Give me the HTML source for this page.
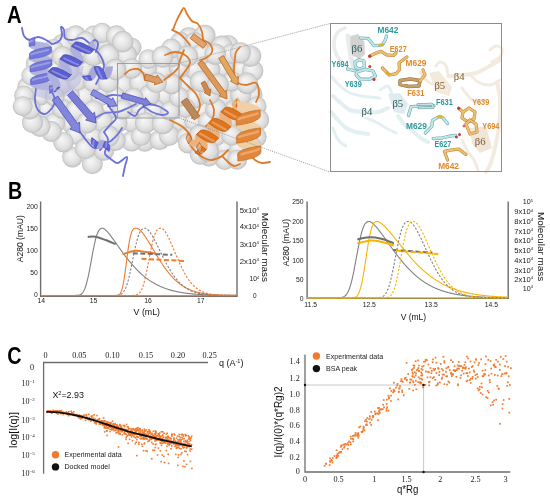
<!DOCTYPE html>
<html><head><meta charset="utf-8"><style>
html,body{margin:0;padding:0;background:#fff;overflow:hidden;}
svg{display:block;}
</style></head><body>
<svg width="550" height="502" viewBox="0 0 550 502">
<rect width="550" height="502" fill="#fff"/>
<defs><radialGradient id="sph" cx="0.5" cy="0.5" r="0.5" fx="0.38" fy="0.36">
<stop offset="0" stop-color="#f7f7f7"/><stop offset="0.5" stop-color="#e8e8e8"/><stop offset="0.82" stop-color="#d8d8d8"/><stop offset="1" stop-color="#bdbdbd"/></radialGradient></defs>
<circle cx="140.8" cy="108.9" r="10.2" fill="url(#sph)"/>
<circle cx="246.8" cy="109.1" r="10.0" fill="url(#sph)"/>
<circle cx="225.4" cy="148.0" r="9.8" fill="url(#sph)"/>
<circle cx="83.7" cy="68.3" r="10.5" fill="url(#sph)"/>
<circle cx="163.0" cy="70.9" r="10.3" fill="url(#sph)"/>
<circle cx="180.1" cy="121.5" r="10.8" fill="url(#sph)"/>
<circle cx="187.2" cy="84.3" r="10.4" fill="url(#sph)"/>
<circle cx="223.6" cy="67.4" r="10.7" fill="url(#sph)"/>
<circle cx="131.8" cy="121.8" r="10.4" fill="url(#sph)"/>
<circle cx="69.1" cy="38.3" r="10.0" fill="url(#sph)"/>
<circle cx="144.7" cy="141.5" r="10.3" fill="url(#sph)"/>
<circle cx="188.7" cy="38.0" r="10.7" fill="url(#sph)"/>
<circle cx="242.2" cy="69.1" r="10.3" fill="url(#sph)"/>
<circle cx="228.1" cy="45.3" r="10.4" fill="url(#sph)"/>
<circle cx="102.3" cy="68.0" r="10.0" fill="url(#sph)"/>
<circle cx="180.4" cy="41.9" r="10.2" fill="url(#sph)"/>
<circle cx="84.3" cy="96.3" r="10.9" fill="url(#sph)"/>
<circle cx="194.5" cy="121.2" r="10.2" fill="url(#sph)"/>
<circle cx="164.0" cy="95.2" r="10.6" fill="url(#sph)"/>
<circle cx="159.6" cy="140.0" r="10.1" fill="url(#sph)"/>
<circle cx="131.6" cy="141.2" r="10.4" fill="url(#sph)"/>
<circle cx="48.6" cy="81.7" r="10.6" fill="url(#sph)"/>
<circle cx="91.9" cy="136.5" r="10.6" fill="url(#sph)"/>
<circle cx="224.4" cy="96.9" r="10.6" fill="url(#sph)"/>
<circle cx="62.6" cy="44.6" r="10.6" fill="url(#sph)"/>
<circle cx="246.9" cy="134.6" r="9.9" fill="url(#sph)"/>
<circle cx="140.8" cy="136.1" r="10.0" fill="url(#sph)"/>
<circle cx="224.8" cy="159.9" r="10.1" fill="url(#sph)"/>
<circle cx="47.1" cy="109.7" r="10.6" fill="url(#sph)"/>
<circle cx="251.7" cy="94.6" r="10.7" fill="url(#sph)"/>
<circle cx="240.8" cy="94.7" r="10.6" fill="url(#sph)"/>
<circle cx="252.8" cy="70.9" r="10.6" fill="url(#sph)"/>
<circle cx="71.9" cy="123.7" r="10.2" fill="url(#sph)"/>
<circle cx="238.9" cy="148.7" r="9.8" fill="url(#sph)"/>
<circle cx="122.8" cy="84.5" r="10.4" fill="url(#sph)"/>
<circle cx="204.7" cy="35.5" r="10.8" fill="url(#sph)"/>
<circle cx="117.1" cy="123.0" r="10.4" fill="url(#sph)"/>
<circle cx="55.6" cy="69.0" r="10.7" fill="url(#sph)"/>
<circle cx="78.5" cy="55.3" r="10.1" fill="url(#sph)"/>
<circle cx="54.7" cy="123.3" r="10.6" fill="url(#sph)"/>
<circle cx="72.4" cy="157.1" r="10.3" fill="url(#sph)"/>
<circle cx="53.5" cy="48.9" r="10.0" fill="url(#sph)"/>
<circle cx="169.2" cy="135.8" r="10.2" fill="url(#sph)"/>
<circle cx="209.4" cy="69.6" r="10.9" fill="url(#sph)"/>
<circle cx="202.9" cy="110.4" r="10.0" fill="url(#sph)"/>
<circle cx="234.0" cy="110.5" r="10.5" fill="url(#sph)"/>
<circle cx="231.7" cy="81.3" r="10.1" fill="url(#sph)"/>
<circle cx="194.6" cy="42.3" r="10.2" fill="url(#sph)"/>
<circle cx="186.4" cy="136.9" r="10.1" fill="url(#sph)"/>
<circle cx="131.3" cy="47.6" r="10.2" fill="url(#sph)"/>
<circle cx="36.2" cy="63.8" r="10.4" fill="url(#sph)"/>
<circle cx="221.8" cy="46.3" r="10.7" fill="url(#sph)"/>
<circle cx="43.7" cy="53.9" r="9.8" fill="url(#sph)"/>
<circle cx="107.8" cy="109.0" r="10.8" fill="url(#sph)"/>
<circle cx="69.3" cy="95.7" r="10.4" fill="url(#sph)"/>
<circle cx="202.0" cy="53.9" r="10.5" fill="url(#sph)"/>
<circle cx="102.1" cy="40.0" r="9.9" fill="url(#sph)"/>
<circle cx="61.9" cy="83.9" r="10.5" fill="url(#sph)"/>
<circle cx="146.9" cy="68.7" r="9.9" fill="url(#sph)"/>
<circle cx="92.3" cy="163.7" r="10.5" fill="url(#sph)"/>
<circle cx="154.9" cy="109.7" r="10.7" fill="url(#sph)"/>
<circle cx="148.4" cy="59.1" r="9.9" fill="url(#sph)"/>
<circle cx="230.9" cy="53.9" r="9.9" fill="url(#sph)"/>
<circle cx="27.9" cy="87.3" r="10.6" fill="url(#sph)"/>
<circle cx="93.4" cy="56.3" r="9.9" fill="url(#sph)"/>
<circle cx="195.0" cy="97.8" r="10.6" fill="url(#sph)"/>
<circle cx="40.3" cy="95.2" r="10.2" fill="url(#sph)"/>
<circle cx="208.4" cy="121.3" r="10.4" fill="url(#sph)"/>
<circle cx="75.9" cy="134.8" r="10.0" fill="url(#sph)"/>
<circle cx="63.4" cy="142.2" r="10.2" fill="url(#sph)"/>
<circle cx="140.1" cy="82.4" r="10.8" fill="url(#sph)"/>
<circle cx="188.2" cy="143.1" r="10.4" fill="url(#sph)"/>
<circle cx="215.8" cy="136.3" r="10.0" fill="url(#sph)"/>
<circle cx="62.1" cy="108.7" r="10.0" fill="url(#sph)"/>
<circle cx="126.0" cy="55.0" r="10.9" fill="url(#sph)"/>
<circle cx="208.9" cy="156.3" r="10.2" fill="url(#sph)"/>
<circle cx="51.2" cy="131.5" r="10.4" fill="url(#sph)"/>
<circle cx="93.6" cy="35.5" r="9.9" fill="url(#sph)"/>
<circle cx="100.6" cy="96.2" r="9.9" fill="url(#sph)"/>
<circle cx="200.2" cy="154.4" r="10.4" fill="url(#sph)"/>
<circle cx="241.3" cy="121.5" r="10.8" fill="url(#sph)"/>
<circle cx="131.6" cy="68.5" r="10.3" fill="url(#sph)"/>
<circle cx="185.3" cy="107.9" r="9.9" fill="url(#sph)"/>
<circle cx="102.1" cy="32.8" r="10.1" fill="url(#sph)"/>
<circle cx="149.3" cy="95.5" r="10.7" fill="url(#sph)"/>
<circle cx="108.4" cy="55.2" r="10.9" fill="url(#sph)"/>
<circle cx="24.1" cy="95.5" r="9.9" fill="url(#sph)"/>
<circle cx="145.6" cy="123.0" r="10.6" fill="url(#sph)"/>
<circle cx="195.0" cy="69.7" r="10.4" fill="url(#sph)"/>
<circle cx="133.5" cy="97.6" r="9.9" fill="url(#sph)"/>
<circle cx="226.7" cy="122.3" r="10.8" fill="url(#sph)"/>
<circle cx="256.7" cy="106.2" r="9.8" fill="url(#sph)"/>
<circle cx="216.0" cy="109.2" r="10.7" fill="url(#sph)"/>
<circle cx="40.0" cy="126.3" r="10.6" fill="url(#sph)"/>
<circle cx="116.4" cy="35.8" r="10.5" fill="url(#sph)"/>
<circle cx="101.9" cy="121.0" r="10.7" fill="url(#sph)"/>
<circle cx="115.6" cy="96.7" r="9.9" fill="url(#sph)"/>
<circle cx="104.0" cy="150.4" r="10.3" fill="url(#sph)"/>
<circle cx="215.3" cy="54.1" r="10.7" fill="url(#sph)"/>
<circle cx="31.3" cy="75.7" r="10.0" fill="url(#sph)"/>
<circle cx="179.5" cy="67.6" r="10.6" fill="url(#sph)"/>
<circle cx="122.4" cy="109.5" r="10.1" fill="url(#sph)"/>
<circle cx="256.5" cy="137.0" r="10.1" fill="url(#sph)"/>
<circle cx="207.9" cy="150.7" r="11.0" fill="url(#sph)"/>
<circle cx="172.0" cy="56.1" r="10.9" fill="url(#sph)"/>
<circle cx="76.8" cy="81.4" r="9.8" fill="url(#sph)"/>
<circle cx="162.8" cy="123.3" r="11.0" fill="url(#sph)"/>
<circle cx="115.3" cy="140.6" r="10.4" fill="url(#sph)"/>
<circle cx="171.3" cy="48.7" r="10.1" fill="url(#sph)"/>
<circle cx="209.6" cy="94.5" r="10.4" fill="url(#sph)"/>
<circle cx="187.4" cy="56.2" r="10.7" fill="url(#sph)"/>
<circle cx="200.7" cy="81.4" r="10.7" fill="url(#sph)"/>
<circle cx="93.2" cy="82.0" r="10.0" fill="url(#sph)"/>
<circle cx="108.9" cy="136.2" r="10.6" fill="url(#sph)"/>
<circle cx="32.5" cy="122.7" r="10.5" fill="url(#sph)"/>
<circle cx="54.8" cy="96.7" r="9.8" fill="url(#sph)"/>
<circle cx="170.2" cy="110.9" r="9.9" fill="url(#sph)"/>
<circle cx="218.0" cy="84.3" r="10.8" fill="url(#sph)"/>
<circle cx="179.1" cy="97.2" r="10.1" fill="url(#sph)"/>
<circle cx="68.4" cy="70.0" r="10.9" fill="url(#sph)"/>
<circle cx="171.6" cy="83.9" r="10.3" fill="url(#sph)"/>
<circle cx="162.5" cy="56.8" r="10.8" fill="url(#sph)"/>
<circle cx="108.2" cy="81.8" r="10.7" fill="url(#sph)"/>
<circle cx="247.0" cy="83.3" r="10.8" fill="url(#sph)"/>
<circle cx="93.4" cy="110.5" r="10.2" fill="url(#sph)"/>
<circle cx="76.0" cy="110.4" r="10.7" fill="url(#sph)"/>
<circle cx="199.8" cy="135.3" r="10.7" fill="url(#sph)"/>
<circle cx="29.8" cy="108.8" r="10.7" fill="url(#sph)"/>
<circle cx="85.4" cy="148.7" r="10.5" fill="url(#sph)"/>
<circle cx="251.4" cy="146.0" r="9.8" fill="url(#sph)"/>
<circle cx="250.5" cy="56.1" r="10.7" fill="url(#sph)"/>
<circle cx="115.5" cy="69.5" r="10.7" fill="url(#sph)"/>
<circle cx="62.2" cy="56.3" r="10.3" fill="url(#sph)"/>
<circle cx="258.4" cy="119.8" r="10.7" fill="url(#sph)"/>
<circle cx="75.7" cy="35.6" r="10.3" fill="url(#sph)"/>
<circle cx="237.1" cy="159.8" r="10.0" fill="url(#sph)"/>
<circle cx="122.7" cy="41.7" r="10.7" fill="url(#sph)"/>
<circle cx="240.3" cy="52.8" r="10.6" fill="url(#sph)"/>
<circle cx="22.7" cy="106.2" r="10.0" fill="url(#sph)"/>
<circle cx="86.9" cy="122.9" r="10.5" fill="url(#sph)"/>
<circle cx="85.6" cy="41.7" r="10.4" fill="url(#sph)"/>
<circle cx="231.6" cy="135.2" r="10.3" fill="url(#sph)"/>
<circle cx="156.5" cy="82.7" r="10.4" fill="url(#sph)"/>
<path d="M34,80 L48,70 L70,62 L84,66 L80,84 L66,96 L50,100 L36,96 Z" fill="#b4b6e0" opacity="0.55"/>
<path d="M92.0,47.0 C93.3,48.3 98.0,51.8 100.0,55.0 C102.0,58.2 104.0,62.5 104.0,66.0 C104.0,69.5 101.3,73.0 100.0,76.0 C98.7,79.0 96.7,82.7 96.0,84.0" fill="none" stroke="#6b6fd8" stroke-width="1.8" stroke-linecap="round" stroke-linejoin="round"/>
<path d="M22.0,28.0 C22.3,29.3 22.7,34.0 24.0,36.0 C25.3,38.0 27.7,39.8 30.0,40.0 C32.3,40.2 35.3,37.0 38.0,37.0 C40.7,37.0 43.7,38.8 46.0,40.0 C48.3,41.2 51.0,43.3 52.0,44.0" fill="none" stroke="#6b6fd8" stroke-width="1.8" stroke-linecap="round" stroke-linejoin="round"/>
<path d="M52.0,44.0 C53.0,43.7 56.3,43.3 58.0,42.0 C59.7,40.7 61.5,38.5 62.0,36.0 C62.5,33.5 60.7,28.0 61.0,27.0 C61.3,26.0 63.3,28.2 64.0,30.0 C64.7,31.8 63.7,36.3 65.0,38.0 C66.3,39.7 69.2,40.0 72.0,40.0 C74.8,40.0 79.0,37.3 82.0,38.0 C85.0,38.7 88.7,43.0 90.0,44.0" fill="none" stroke="#6b6fd8" stroke-width="1.8" stroke-linecap="round" stroke-linejoin="round"/>
<path d="M90.0,44.0 C90.8,43.3 93.7,40.0 95.0,40.0 C96.3,40.0 97.8,42.0 98.0,44.0 C98.2,46.0 96.3,50.7 96.0,52.0" fill="none" stroke="#6b6fd8" stroke-width="1.8" stroke-linecap="round" stroke-linejoin="round"/>
<path d="M36.0,88.0 C35.8,90.0 34.7,96.3 35.0,100.0 C35.3,103.7 36.3,107.7 38.0,110.0 C39.7,112.3 42.7,114.3 45.0,114.0 C47.3,113.7 50.3,110.3 52.0,108.0 C53.7,105.7 55.0,102.7 55.0,100.0 C55.0,97.3 52.5,93.3 52.0,92.0" fill="none" stroke="#6b6fd8" stroke-width="1.8" stroke-linecap="round" stroke-linejoin="round"/>
<path d="M80.0,132.0 C81.0,133.3 83.7,137.3 86.0,140.0 C88.3,142.7 91.3,147.0 94.0,148.0 C96.7,149.0 99.7,147.3 102.0,146.0 C104.3,144.7 107.7,142.3 108.0,140.0 C108.3,137.7 104.7,133.3 104.0,132.0" fill="none" stroke="#6b6fd8" stroke-width="1.8" stroke-linecap="round" stroke-linejoin="round"/>
<path d="M106.0,149.0 C105.8,149.8 104.0,152.2 105.0,154.0 C106.0,155.8 109.8,158.5 112.0,160.0 C114.2,161.5 115.5,163.5 118.0,163.0 C120.5,162.5 125.8,156.5 127.0,157.0 C128.2,157.5 125.7,162.8 125.0,166.0 C124.3,169.2 123.3,174.3 123.0,176.0" fill="none" stroke="#6b6fd8" stroke-width="1.8" stroke-linecap="round" stroke-linejoin="round"/>
<path d="M104.0,132.0 C105.0,130.8 108.0,127.3 110.0,125.0 C112.0,122.7 116.0,120.8 116.0,118.0 C116.0,115.2 112.0,111.0 110.0,108.0 C108.0,105.0 106.3,101.7 104.0,100.0 C101.7,98.3 97.3,98.3 96.0,98.0" fill="none" stroke="#6b6fd8" stroke-width="1.8" stroke-linecap="round" stroke-linejoin="round"/>
<path d="M103.0,98.0 C104.5,97.5 108.7,95.3 112.0,95.0 C115.3,94.7 121.2,95.8 123.0,96.0" fill="none" stroke="#6b6fd8" stroke-width="1.8" stroke-linecap="round" stroke-linejoin="round"/>
<path d="M150.0,104.0 C151.3,104.3 155.5,105.0 158.0,106.0 C160.5,107.0 163.3,108.8 165.0,110.0 C166.7,111.2 168.5,112.2 168.0,113.0 C167.5,113.8 164.7,115.2 162.0,115.0 C159.3,114.8 155.0,113.3 152.0,112.0 C149.0,110.7 146.2,107.3 144.0,107.0 C141.8,106.7 140.5,108.5 139.0,110.0 C137.5,111.5 136.8,115.7 135.0,116.0 C133.2,116.3 129.2,112.7 128.0,112.0" fill="none" stroke="#7074d8" stroke-width="1.8" stroke-linecap="round" stroke-linejoin="round"/>
<path d="M95.0,118.0 C96.7,117.2 101.2,114.0 105.0,113.0 C108.8,112.0 114.2,112.8 118.0,112.0 C121.8,111.2 125.0,109.3 128.0,108.0 C131.0,106.7 134.7,104.7 136.0,104.0" fill="none" stroke="#7074d8" stroke-width="1.8" stroke-linecap="round" stroke-linejoin="round"/>
<path d="M100.0,150.0 C101.0,149.0 104.0,145.7 106.0,144.0 C108.0,142.3 110.0,141.7 112.0,140.0 C114.0,138.3 116.3,136.0 118.0,134.0 C119.7,132.0 121.3,129.0 122.0,128.0" fill="none" stroke="#6b6fd8" stroke-width="1.8" stroke-linecap="round" stroke-linejoin="round"/>
<path d="M52.2,100.0 L71.9,127.6 L69.9,129.1 L80.0,133.0 L79.6,122.1 L77.6,123.6 L57.8,96.0Z" fill="#8286dc" stroke="#4346b0" stroke-width="0.7" stroke-linejoin="round"/>
<path d="M67.4,95.3 L87.4,118.4 L85.5,120.0 L96.0,123.0 L94.5,112.2 L92.7,113.8 L72.6,90.7Z" fill="#7a7ed8" stroke="#4346b0" stroke-width="0.7" stroke-linejoin="round"/>
<path d="M90.5,94.6 L108.7,104.8 L107.7,106.6 L117.0,106.0 L112.7,97.7 L111.7,99.6 L93.5,89.4Z" fill="#8a8ee0" stroke="#4346b0" stroke-width="0.7" stroke-linejoin="round"/>
<path d="M121.2,98.1 L143.4,104.6 L142.8,106.5 L151.0,104.0 L145.5,97.5 L144.9,99.3 L122.8,92.9Z" fill="#7d81da" stroke="#4346b0" stroke-width="0.7" stroke-linejoin="round"/>
<path d="M29.3,46.4 L29.6,46.9 L30.0,47.4 L30.6,47.9 L31.4,48.3 L32.4,48.8 L33.5,49.1 L34.7,49.5 L36.0,49.8 L37.3,50.1 L38.7,50.4 L40.2,50.6 L41.6,50.8 L43.1,51.0 L44.5,51.1 L45.8,51.2 L47.0,51.3 L48.1,51.4 L49.1,51.4 L49.9,51.5 L50.5,51.5 L51.0,51.5 L51.3,51.5 L51.4,51.5 L51.4,52.0 L51.2,46.9 L51.2,46.8 L51.1,46.3 L50.8,45.8 L50.3,45.3 L49.6,44.8 L48.8,44.4 L47.8,44.0 L46.7,43.6 L45.4,43.2 L44.1,42.9 L42.7,42.6 L41.3,42.4 L39.9,42.1 L38.4,42.0 L37.0,41.8 L35.6,41.7 L34.3,41.6 L33.2,41.5 L32.1,41.4 L31.2,41.4 L30.4,41.4 L29.8,41.3 L29.3,41.3 L29.1,41.3Z" fill="#b2b4de" stroke="#b2b4de" stroke-width="0.6" stroke-linejoin="round"/>
<path d="M29.8,59.4 L30.1,59.9 L30.6,60.4 L31.2,60.8 L32.1,61.3 L33.0,61.7 L34.1,62.1 L35.3,62.4 L36.6,62.8 L38.0,63.1 L39.4,63.3 L40.9,63.6 L42.3,63.8 L43.7,63.9 L45.1,64.0 L46.4,64.2 L47.6,64.2 L48.7,64.3 L49.7,64.3 L50.5,64.4 L51.1,64.4 L51.6,64.4 L51.9,64.4 L52.0,64.4 L51.9,64.9 L51.7,59.8 L51.8,59.8 L51.7,59.2 L51.4,58.7 L50.9,58.2 L50.2,57.8 L49.4,57.3 L48.4,56.9 L47.3,56.5 L46.1,56.2 L44.8,55.8 L43.4,55.5 L42.0,55.3 L40.5,55.1 L39.1,54.9 L37.7,54.7 L36.3,54.6 L35.0,54.5 L33.8,54.4 L32.7,54.3 L31.8,54.3 L31.0,54.3 L30.3,54.2 L29.9,54.2 L29.6,54.2Z" fill="#b2b4de" stroke="#b2b4de" stroke-width="0.6" stroke-linejoin="round"/>
<path d="M30.2,71.8 L30.4,72.3 L30.7,72.8 L31.2,73.3 L31.8,73.8 L32.7,74.2 L33.7,74.6 L34.8,75.0 L36.0,75.4 L37.3,75.7 L38.7,76.0 L40.1,76.2 L41.6,76.5 L43.0,76.7 L44.4,76.8 L45.8,77.0 L47.1,77.1 L48.3,77.1 L49.4,77.2 L50.3,77.2 L51.1,77.3 L51.7,77.3 L52.2,77.3 L52.4,77.3 L52.5,77.4 L52.3,72.7 L52.2,72.2 L51.9,71.7 L51.5,71.2 L50.8,70.7 L50.0,70.3 L49.1,69.9 L48.0,69.5 L46.8,69.1 L45.5,68.8 L44.1,68.5 L42.7,68.2 L41.2,68.0 L39.8,67.8 L38.3,67.6 L37.0,67.5 L35.7,67.4 L34.4,67.3 L33.3,67.2 L32.4,67.2 L31.6,67.2 L30.9,67.1 L30.5,67.1 L30.2,67.1 L30.1,67.1Z" fill="#b2b4de" stroke="#b2b4de" stroke-width="0.6" stroke-linejoin="round"/>
<path d="M30.8,84.7 L30.9,85.3 L31.3,85.8 L31.8,86.2 L32.5,86.7 L33.3,87.2 L34.3,87.6 L35.4,87.9 L36.6,88.3 L38.0,88.6 L39.4,88.9 L40.8,89.2 L42.2,89.4 L43.7,89.6 L45.1,89.7 L46.5,89.9 L47.7,90.0 L48.9,90.0 L50.0,90.1 L50.9,90.1 L51.7,90.2 L52.3,90.2 L52.7,90.2 L53.0,90.2 L53.0,90.3 L52.8,85.5 L52.8,85.1 L52.5,84.6 L52.0,84.1 L51.4,83.7 L50.6,83.2 L49.7,82.8 L48.6,82.4 L47.4,82.0 L46.1,81.7 L44.8,81.4 L43.3,81.1 L41.9,80.9 L40.4,80.7 L39.0,80.5 L37.6,80.4 L36.3,80.3 L35.1,80.2 L34.0,80.1 L33.0,80.1 L32.2,80.1 L31.5,80.0 L31.0,80.0 L30.7,80.0 L30.6,80.0Z" fill="#b2b4de" stroke="#b2b4de" stroke-width="0.6" stroke-linejoin="round"/>
<path d="M34.9,45.2 L33.7,45.4 L32.6,45.6 L31.6,45.7 L30.8,45.8 L30.1,45.9 L29.6,45.9 L29.3,46.0 L29.2,46.0 L29.3,46.4 L29.1,41.3 L29.0,41.2 L29.1,40.7 L29.4,40.2 L29.9,39.7 L30.5,39.1 L31.3,38.6 L32.3,38.1 L33.4,37.7 L34.6,37.2Z" fill="#7478da" stroke="#5a5ec4" stroke-width="0.7" stroke-linejoin="round"/>
<path d="M32.4,40.8 L31.4,41.1 L30.6,41.4 L30.0,41.7 L29.5,42.0 L29.2,42.3" fill="none" stroke="#ffffff" stroke-opacity="0.28" stroke-width="1.9" stroke-linecap="round"/>
<path d="M51.4,52.0 L51.1,52.5 L50.7,53.0 L50.1,53.6 L49.4,54.1 L48.4,54.6 L47.4,55.1 L46.2,55.5 L44.9,56.0 L43.6,56.4 L42.2,56.7 L40.8,57.1 L39.3,57.4 L37.9,57.7 L36.6,57.9 L35.3,58.1 L34.1,58.3 L33.0,58.5 L32.0,58.6 L31.2,58.7 L30.6,58.8 L30.1,58.8 L29.8,58.9 L29.7,58.9 L29.8,59.4 L29.6,54.2 L29.5,54.2 L29.6,53.7 L29.9,53.1 L30.3,52.6 L31.0,52.1 L31.8,51.6 L32.7,51.1 L33.8,50.6 L35.0,50.1 L36.2,49.7 L37.6,49.3 L39.0,48.9 L40.4,48.6 L41.9,48.3 L43.3,48.0 L44.6,47.8 L45.9,47.6 L47.1,47.4 L48.1,47.2 L49.1,47.1 L49.9,47.0 L50.5,47.0 L50.9,46.9 L51.2,46.9Z" fill="#7478da" stroke="#5a5ec4" stroke-width="0.7" stroke-linejoin="round"/>
<path d="M48.2,49.9 L47.2,50.2 L46.0,50.5 L44.7,50.8 L43.4,51.2 L42.0,51.5 L40.6,51.8 L39.1,52.2 L37.7,52.5 L36.4,52.8 L35.1,53.1 L33.9,53.4 L32.8,53.8 L31.9,54.1 L31.1,54.4" fill="none" stroke="#ffffff" stroke-opacity="0.28" stroke-width="1.9" stroke-linecap="round"/>
<path d="M51.9,64.9 L51.6,65.5 L51.2,66.0 L50.6,66.5 L49.8,67.0 L48.9,67.5 L47.8,68.0 L46.6,68.5 L45.3,68.9 L44.0,69.3 L42.6,69.7 L41.2,70.0 L39.7,70.3 L38.3,70.6 L37.0,70.8 L35.7,71.1 L34.5,71.2 L33.4,71.4 L32.5,71.5 L31.7,71.6 L31.1,71.7 L30.6,71.7 L30.3,71.7 L30.2,71.8 L30.1,67.1 L30.1,66.6 L30.4,66.1 L30.8,65.6 L31.4,65.0 L32.2,64.5 L33.1,64.0 L34.2,63.5 L35.4,63.1 L36.6,62.7 L38.0,62.2 L39.4,61.9 L40.8,61.5 L42.2,61.2 L43.6,60.9 L45.0,60.7 L46.3,60.5 L47.5,60.3 L48.6,60.1 L49.5,60.0 L50.3,59.9 L50.9,59.9 L51.4,59.8 L51.7,59.8Z" fill="#7478da" stroke="#5a5ec4" stroke-width="0.7" stroke-linejoin="round"/>
<path d="M49.6,62.5 L48.7,62.8 L47.6,63.1 L46.4,63.4 L45.1,63.8 L43.8,64.1 L42.4,64.4 L40.9,64.8 L39.5,65.1 L38.1,65.4 L36.8,65.7 L35.5,66.1 L34.3,66.4 L33.2,66.7 L32.3,67.0 L31.5,67.3" fill="none" stroke="#ffffff" stroke-opacity="0.28" stroke-width="1.9" stroke-linecap="round"/>
<path d="M52.5,77.4 L52.4,77.9 L52.1,78.4 L51.7,78.9 L51.0,79.5 L50.2,80.0 L49.3,80.5 L48.2,80.9 L47.0,81.4 L45.7,81.8 L44.4,82.2 L43.0,82.6 L41.5,82.9 L40.1,83.3 L38.7,83.5 L37.4,83.8 L36.1,84.0 L34.9,84.1 L33.8,84.3 L32.9,84.4 L32.1,84.5 L31.5,84.6 L31.1,84.6 L30.8,84.6 L30.8,84.7 L30.6,80.0 L30.6,79.6 L30.9,79.0 L31.3,78.5 L31.9,78.0 L32.6,77.5 L33.5,77.0 L34.6,76.5 L35.8,76.0 L37.0,75.6 L38.4,75.2 L39.8,74.8 L41.2,74.5 L42.6,74.1 L44.0,73.9 L45.4,73.6 L46.7,73.4 L47.9,73.2 L49.0,73.1 L49.9,72.9 L50.8,72.8 L51.4,72.8 L51.9,72.7 L52.2,72.7 L52.3,72.7Z" fill="#7478da" stroke="#5a5ec4" stroke-width="0.7" stroke-linejoin="round"/>
<path d="M50.0,75.4 L49.1,75.7 L48.0,76.1 L46.8,76.4 L45.5,76.7 L44.1,77.0 L42.7,77.4 L41.3,77.7 L39.9,78.0 L38.5,78.3 L37.1,78.7 L35.9,79.0 L34.7,79.3 L33.6,79.6 L32.7,79.9" fill="none" stroke="#ffffff" stroke-opacity="0.28" stroke-width="1.9" stroke-linecap="round"/>
<path d="M53.0,90.3 L52.9,90.8 L52.6,91.4 L52.1,91.9 L51.5,92.4 L50.7,92.9 L49.7,93.4 L49.4,86.0 L50.4,85.8 L51.2,85.7 L51.9,85.7 L52.4,85.6 L52.7,85.6 L52.8,85.5Z" fill="#7478da" stroke="#5a5ec4" stroke-width="0.7" stroke-linejoin="round"/>
<path d="M52.8,87.2 L52.4,87.5 L52.0,87.8 L51.3,88.1 L50.5,88.4" fill="none" stroke="#ffffff" stroke-opacity="0.28" stroke-width="1.9" stroke-linecap="round"/>
<path d="M59.9,87.2 L60.2,86.6 L60.3,85.9 L60.3,85.1 L60.2,84.3 L60.0,83.4 L59.7,82.4 L59.3,81.3 L58.8,80.2 L58.3,79.1 L57.7,78.0 L57.0,76.9 L56.3,75.8 L55.6,74.7 L54.9,73.7 L54.2,72.7 L53.6,71.9 L53.0,71.1 L52.5,70.3 L52.1,69.7 L51.7,69.2 L51.5,68.8 L51.3,68.6 L51.3,68.4 L51.6,68.1 L48.3,71.8 L48.1,72.0 L47.8,72.5 L47.6,73.2 L47.5,73.9 L47.6,74.7 L47.7,75.6 L48.0,76.6 L48.4,77.6 L48.8,78.7 L49.4,79.8 L50.0,80.9 L50.6,82.1 L51.3,83.2 L52.0,84.2 L52.7,85.3 L53.4,86.3 L54.0,87.2 L54.6,88.0 L55.2,88.7 L55.6,89.4 L56.0,89.9 L56.3,90.3 L56.5,90.7 L56.5,90.9Z" fill="#aeb0de" stroke="#aeb0de" stroke-width="0.6" stroke-linejoin="round"/>
<path d="M71.5,74.4 L71.7,73.8 L71.8,73.1 L71.8,72.3 L71.7,71.4 L71.5,70.5 L71.2,69.5 L70.8,68.4 L70.3,67.4 L69.7,66.2 L69.1,65.1 L68.4,64.0 L67.7,62.9 L67.0,61.9 L66.3,60.8 L65.7,59.9 L65.0,59.0 L64.5,58.2 L64.0,57.5 L63.5,56.9 L63.2,56.5 L63.0,56.1 L62.8,55.8 L62.8,55.7 L63.2,55.3 L59.8,59.1 L59.6,59.2 L59.3,59.7 L59.1,60.3 L59.0,61.1 L59.1,61.9 L59.2,62.8 L59.5,63.8 L59.8,64.8 L60.3,65.9 L60.8,67.0 L61.4,68.1 L62.0,69.2 L62.7,70.3 L63.4,71.4 L64.1,72.4 L64.8,73.4 L65.5,74.3 L66.1,75.2 L66.6,75.9 L67.1,76.6 L67.5,77.1 L67.8,77.6 L68.0,77.9 L68.1,78.1Z" fill="#aeb0de" stroke="#aeb0de" stroke-width="0.6" stroke-linejoin="round"/>
<path d="M83.0,61.6 L83.2,61.0 L83.4,60.3 L83.4,59.5 L83.2,58.6 L83.0,57.7 L82.7,56.6 L82.2,55.6 L81.7,54.5 L81.2,53.4 L80.5,52.3 L79.9,51.1 L79.2,50.1 L78.5,49.0 L77.8,48.0 L77.1,47.1 L76.5,46.2 L75.9,45.4 L75.4,44.7 L75.0,44.2 L74.7,43.7 L74.5,43.3 L74.3,43.1 L74.4,42.9 L74.8,42.5 L71.3,46.4 L71.2,46.4 L70.9,46.9 L70.6,47.5 L70.5,48.2 L70.6,49.1 L70.7,49.9 L71.0,50.9 L71.3,51.9 L71.7,53.0 L72.3,54.1 L72.8,55.2 L73.5,56.3 L74.2,57.4 L74.8,58.5 L75.5,59.6 L76.2,60.6 L76.9,61.5 L77.5,62.3 L78.1,63.1 L78.6,63.8 L79.0,64.3 L79.3,64.8 L79.5,65.1 L79.6,65.4Z" fill="#aeb0de" stroke="#aeb0de" stroke-width="0.6" stroke-linejoin="round"/>
<path d="M94.2,49.3 L94.6,48.8 L94.8,48.2 L94.9,47.5 L94.9,46.7 L94.7,45.8 L94.5,44.8 L94.1,43.8 L93.7,42.7 L93.2,41.6 L92.6,40.5 L87.0,46.7 L87.7,47.7 L88.3,48.7 L89.0,49.5 L89.5,50.3 L90.0,51.0 L90.4,51.6 L90.8,52.0 L91.0,52.4 L91.1,52.6 L91.1,52.8Z" fill="#aeb0de" stroke="#aeb0de" stroke-width="0.6" stroke-linejoin="round"/>
<path d="M58.2,86.9 L58.7,87.2 L59.2,87.4 L59.5,87.5 L59.6,87.5 L59.9,87.2 L56.5,90.9 L56.4,91.1 L55.9,91.5 L55.2,91.7 L54.5,91.8 L53.7,91.9Z" fill="#5a5ed2" stroke="#3f42a0" stroke-width="0.7" stroke-linejoin="round"/>
<path d="M55.9,90.3 L56.5,90.3 L57.0,90.2 L57.3,90.1" fill="none" stroke="#ffffff" stroke-opacity="0.28" stroke-width="1.9" stroke-linecap="round"/>
<path d="M51.6,68.1 L52.2,67.8 L52.9,67.6 L53.6,67.5 L54.5,67.5 L55.5,67.6 L56.5,67.8 L57.6,68.1 L58.7,68.5 L59.9,68.9 L61.1,69.5 L62.2,70.0 L63.4,70.6 L64.5,71.2 L65.6,71.8 L66.6,72.3 L67.5,72.9 L68.4,73.4 L69.1,73.8 L69.8,74.2 L70.3,74.5 L70.7,74.7 L71.0,74.8 L71.2,74.8 L71.5,74.4 L68.1,78.1 L67.9,78.3 L67.4,78.7 L66.8,79.0 L66.1,79.1 L65.3,79.1 L64.4,79.1 L63.4,78.9 L62.3,78.6 L61.2,78.3 L60.1,77.9 L58.9,77.4 L57.7,76.9 L56.5,76.3 L55.4,75.7 L54.3,75.1 L53.2,74.5 L52.3,74.0 L51.4,73.5 L50.6,73.0 L49.9,72.6 L49.3,72.3 L48.8,72.0 L48.5,71.9 L48.3,71.8Z" fill="#5a5ed2" stroke="#3f42a0" stroke-width="0.7" stroke-linejoin="round"/>
<path d="M52.3,71.1 L53.2,71.4 L54.2,71.8 L55.3,72.3 L56.4,72.8 L57.5,73.3 L58.7,73.9 L59.9,74.5 L61.0,75.0 L62.1,75.6 L63.2,76.1 L64.2,76.5 L65.2,76.9 L66.1,77.2 L66.8,77.4" fill="none" stroke="#ffffff" stroke-opacity="0.28" stroke-width="1.9" stroke-linecap="round"/>
<path d="M63.2,55.3 L63.8,55.0 L64.5,54.8 L65.3,54.7 L66.1,54.8 L67.1,54.9 L68.1,55.1 L69.2,55.4 L70.4,55.8 L71.5,56.3 L72.7,56.8 L73.9,57.3 L75.0,57.9 L76.2,58.5 L77.2,59.1 L78.2,59.7 L79.2,60.2 L80.0,60.7 L80.7,61.1 L81.4,61.5 L81.9,61.8 L82.3,62.0 L82.5,62.1 L82.7,62.0 L83.0,61.6 L79.6,65.4 L79.5,65.5 L79.0,65.9 L78.4,66.2 L77.7,66.4 L76.9,66.4 L76.0,66.4 L75.0,66.2 L74.0,65.9 L72.9,65.6 L71.7,65.2 L70.5,64.7 L69.4,64.2 L68.2,63.6 L67.0,63.1 L65.9,62.5 L64.9,61.9 L63.9,61.3 L63.0,60.8 L62.2,60.3 L61.5,59.9 L60.9,59.6 L60.4,59.3 L60.0,59.1 L59.8,59.1Z" fill="#5a5ed2" stroke="#3f42a0" stroke-width="0.7" stroke-linejoin="round"/>
<path d="M64.0,58.4 L64.9,58.7 L65.9,59.1 L66.9,59.6 L68.0,60.1 L69.2,60.7 L70.4,61.2 L71.5,61.8 L72.7,62.4 L73.8,62.9 L74.9,63.4 L75.9,63.8 L76.8,64.2 L77.7,64.5 L78.5,64.7" fill="none" stroke="#ffffff" stroke-opacity="0.28" stroke-width="1.9" stroke-linecap="round"/>
<path d="M74.8,42.5 L75.4,42.2 L76.1,42.1 L76.9,42.0 L77.8,42.0 L78.7,42.2 L79.8,42.4 L80.9,42.7 L82.0,43.1 L83.2,43.6 L84.4,44.1 L85.5,44.7 L86.7,45.3 L87.8,45.9 L88.9,46.4 L89.9,47.0 L90.8,47.5 L91.6,48.0 L92.3,48.4 L92.9,48.8 L93.4,49.1 L93.8,49.2 L94.1,49.3 L94.2,49.3 L91.1,52.8 L90.6,53.2 L90.0,53.4 L89.3,53.6 L88.5,53.7 L87.6,53.6 L86.7,53.5 L85.6,53.3 L84.5,52.9 L83.4,52.5 L82.2,52.1 L81.0,51.5 L79.8,51.0 L78.7,50.4 L77.6,49.8 L76.5,49.2 L75.5,48.7 L74.6,48.1 L73.8,47.6 L73.1,47.2 L72.5,46.9 L72.0,46.6 L71.6,46.4 L71.3,46.4Z" fill="#5a5ed2" stroke="#3f42a0" stroke-width="0.7" stroke-linejoin="round"/>
<path d="M74.7,45.4 L75.6,45.7 L76.5,46.0 L77.5,46.5 L78.6,46.9 L79.7,47.5 L80.8,48.0 L82.0,48.6 L83.2,49.2 L84.3,49.7 L85.4,50.2 L86.5,50.7 L87.5,51.2 L88.4,51.5 L89.3,51.8 L90.1,52.0" fill="none" stroke="#ffffff" stroke-opacity="0.28" stroke-width="1.9" stroke-linecap="round"/>
<path d="M92.0,80.0 L92.5,79.9 L93.1,79.6 L93.6,79.2 L94.0,78.8 L94.5,78.2 L94.9,77.6 L95.4,76.9 L95.7,76.1 L96.1,75.3 L96.4,74.4 L96.6,73.5 L96.9,72.6 L97.1,71.8 L97.3,70.9 L97.4,70.1 L97.6,69.4 L97.7,68.7 L97.8,68.1 L97.9,67.5 L97.9,67.1 L98.0,66.8 L98.1,66.6 L98.2,66.5 L98.5,66.5 L93.9,66.8 L93.6,66.9 L93.1,67.0 L92.5,67.2 L92.0,67.6 L91.5,68.1 L91.1,68.6 L90.6,69.3 L90.2,70.0 L89.9,70.8 L89.5,71.6 L89.2,72.4 L88.9,73.3 L88.7,74.2 L88.5,75.1 L88.3,75.9 L88.1,76.7 L88.0,77.5 L87.9,78.2 L87.8,78.8 L87.7,79.3 L87.6,79.7 L87.6,80.1 L87.5,80.3 L87.4,80.4Z" fill="#a6a8d8" stroke="#a6a8d8" stroke-width="0.6" stroke-linejoin="round"/>
<path d="M107.3,78.7 L107.8,78.5 L108.3,78.2 L108.8,77.8 L109.3,77.3 L109.7,76.7 L110.2,76.0 L110.5,75.2 L110.9,74.4 L111.2,73.6 L111.5,72.7 L111.8,71.8 L112.0,71.0 L112.2,70.1 L112.4,69.3 L112.5,68.5 L112.6,67.8 L112.7,67.1 L112.8,66.5 L106.3,67.1 L105.9,67.7 L105.4,68.4 L105.0,69.1 L104.7,69.9 L104.4,70.7 L104.1,71.6 L103.8,72.5 L103.6,73.4 L103.4,74.2 L103.2,75.1 L103.1,75.9 L102.9,76.6 L102.8,77.2 L102.7,77.8 L102.7,78.3 L102.6,78.7 L102.5,78.9 L102.4,79.1Z" fill="#a6a8d8" stroke="#a6a8d8" stroke-width="0.6" stroke-linejoin="round"/>
<path d="M90.1,75.6 L90.4,76.4 L90.6,77.1 L90.9,77.8 L91.1,78.4 L91.2,78.9 L91.4,79.3 L91.5,79.7 L91.6,79.9 L91.7,80.0 L92.0,80.0 L87.4,80.4 L87.0,80.4 L86.5,80.3 L85.9,80.1 L85.4,79.8 L84.8,79.4 L84.3,79.0 L83.7,78.4 L83.2,77.7 L82.7,77.0 L82.3,76.2Z" fill="#5f63dc" stroke="#4346b0" stroke-width="0.7" stroke-linejoin="round"/>
<path d="M86.0,77.5 L86.3,78.2 L86.7,78.8 L87.1,79.3 L87.4,79.7 L87.8,80.0 L88.1,80.2" fill="none" stroke="#ffffff" stroke-opacity="0.28" stroke-width="1.8" stroke-linecap="round"/>
<path d="M98.5,66.5 L99.1,66.5 L99.7,66.7 L100.2,67.0 L100.8,67.4 L101.3,67.9 L101.9,68.5 L102.4,69.2 L102.9,69.9 L103.3,70.7 L103.8,71.5 L104.2,72.3 L104.6,73.1 L104.9,73.9 L105.2,74.7 L105.5,75.5 L105.7,76.2 L106.0,76.8 L106.2,77.4 L106.3,77.9 L106.5,78.3 L106.6,78.6 L106.7,78.7 L106.8,78.8 L107.3,78.7 L102.4,79.1 L102.3,79.2 L101.8,79.1 L101.2,79.0 L100.6,78.8 L100.1,78.4 L99.5,78.0 L99.0,77.4 L98.5,76.8 L98.0,76.1 L97.5,75.4 L97.0,74.6 L96.6,73.8 L96.2,72.9 L95.8,72.1 L95.5,71.3 L95.2,70.5 L94.9,69.8 L94.7,69.1 L94.5,68.5 L94.3,68.0 L94.2,67.5 L94.1,67.2 L93.9,67.0 L93.9,66.8Z" fill="#5f63dc" stroke="#4346b0" stroke-width="0.7" stroke-linejoin="round"/>
<path d="M97.0,68.3 L97.3,68.9 L97.7,69.6 L98.1,70.3 L98.5,71.1 L98.9,71.9 L99.2,72.7 L99.6,73.5 L100.0,74.3 L100.4,75.1 L100.8,75.9 L101.2,76.6 L101.5,77.2 L101.9,77.8 L102.2,78.2" fill="none" stroke="#ffffff" stroke-opacity="0.28" stroke-width="1.8" stroke-linecap="round"/>
<path d="M96.4,148.2 L96.9,148.4 L97.5,148.6 L98.0,148.6 L98.7,148.7 L99.4,148.6 L100.0,148.5 L100.8,148.3 L101.5,148.0 L102.2,147.7 L102.9,147.4 L103.6,147.0 L104.3,146.7 L104.9,146.3 L105.5,145.9 L106.1,145.5 L106.6,145.1 L107.0,144.8 L107.4,144.5 L107.7,144.3 L108.0,144.1 L108.2,144.0 L108.4,143.9 L108.4,143.9 L108.8,144.3 L105.0,141.2 L105.0,141.1 L104.6,140.8 L104.1,140.6 L103.5,140.4 L103.0,140.4 L102.3,140.3 L101.6,140.4 L101.0,140.5 L100.2,140.7 L99.5,141.0 L98.8,141.3 L98.1,141.6 L97.4,142.0 L96.7,142.3 L96.1,142.7 L95.5,143.1 L94.9,143.5 L94.4,143.9 L94.0,144.2 L93.6,144.5 L93.3,144.7 L93.0,144.9 L92.8,145.0 L92.6,145.1Z" fill="#a6a8d8" stroke="#a6a8d8" stroke-width="0.6" stroke-linejoin="round"/>
<path d="M98.1,142.5 L97.9,143.3 L97.6,144.0 L97.3,144.6 L97.1,145.3 L96.8,145.8 L96.6,146.3 L96.4,146.8 L96.2,147.1 L96.1,147.4 L96.0,147.7 L96.0,147.8 L96.0,147.9 L96.4,148.2 L92.6,145.1 L92.6,145.1 L92.2,144.7 L91.9,144.3 L91.6,143.8 L91.4,143.2 L91.3,142.6 L91.2,141.9 L91.2,141.2 L91.3,140.5 L91.4,139.7 L91.5,139.0 L91.7,138.2 L91.9,137.5Z" fill="#5f63dc" stroke="#4346b0" stroke-width="0.7" stroke-linejoin="round"/>
<path d="M93.8,140.9 L93.6,141.6 L93.4,142.3 L93.3,142.9 L93.2,143.5 L93.1,144.1 L93.1,144.6 L93.1,145.0 L93.2,145.4 L93.3,145.7" fill="none" stroke="#ffffff" stroke-opacity="0.28" stroke-width="1.8" stroke-linecap="round"/>
<path d="M108.8,144.3 L109.1,144.7 L109.4,145.2 L109.6,145.8 L109.7,146.4 L109.8,147.1 L109.8,147.8 L109.7,148.5 L109.6,149.3 L109.5,150.0 L109.3,150.8 L109.1,151.5 L102.9,146.5 L103.1,145.7 L103.4,145.0 L103.7,144.4 L103.9,143.7 L104.2,143.2 L104.4,142.7 L104.6,142.2 L104.8,141.9 L104.9,141.6 L105.0,141.3 L105.0,141.2Z" fill="#5f63dc" stroke="#4346b0" stroke-width="0.7" stroke-linejoin="round"/>
<path d="M106.4,142.8 L106.4,143.2 L106.4,143.7 L106.3,144.3 L106.2,144.9 L106.1,145.5 L105.9,146.2 L105.7,146.9" fill="none" stroke="#ffffff" stroke-opacity="0.28" stroke-width="1.8" stroke-linecap="round"/>
<path d="M173.0,30.0 C173.5,28.7 174.7,25.0 176.0,22.0 C177.3,19.0 179.7,14.3 181.0,12.0 C182.3,9.7 183.0,7.7 184.0,8.0 C185.0,8.3 185.7,11.8 187.0,14.0 C188.3,16.2 190.2,19.3 192.0,21.0 C193.8,22.7 196.3,22.2 198.0,24.0 C199.7,25.8 201.2,29.3 202.0,32.0 C202.8,34.7 202.8,38.7 203.0,40.0" fill="none" stroke="#df7a26" stroke-width="1.8" stroke-linecap="round" stroke-linejoin="round"/>
<path d="M172.0,30.0 C173.3,30.7 177.7,32.3 180.0,34.0 C182.3,35.7 184.3,38.2 186.0,40.0 C187.7,41.8 189.3,44.2 190.0,45.0" fill="none" stroke="#df7a26" stroke-width="1.8" stroke-linecap="round" stroke-linejoin="round"/>
<path d="M203.0,40.0 C204.2,40.7 208.5,42.0 210.0,44.0 C211.5,46.0 212.7,49.7 212.0,52.0 C211.3,54.3 208.0,56.7 206.0,58.0 C204.0,59.3 201.0,59.7 200.0,60.0" fill="none" stroke="#df7a26" stroke-width="1.8" stroke-linecap="round" stroke-linejoin="round"/>
<path d="M240.0,47.0 C239.3,47.8 236.8,50.2 236.0,52.0 C235.2,53.8 235.3,55.3 235.0,58.0 C234.7,60.7 234.2,64.8 234.0,68.0 C233.8,71.2 234.0,75.5 234.0,77.0" fill="none" stroke="#df7a26" stroke-width="1.8" stroke-linecap="round" stroke-linejoin="round"/>
<path d="M234.0,77.0 C234.7,78.0 236.0,81.7 238.0,83.0 C240.0,84.3 243.0,85.0 246.0,85.0 C249.0,85.0 253.8,81.5 256.0,83.0 C258.2,84.5 259.0,90.8 259.0,94.0 C259.0,97.2 256.5,100.7 256.0,102.0" fill="none" stroke="#df7a26" stroke-width="1.8" stroke-linecap="round" stroke-linejoin="round"/>
<path d="M165.0,55.0 C166.7,54.5 171.7,52.0 175.0,52.0 C178.3,52.0 182.5,53.3 185.0,55.0 C187.5,56.7 189.8,59.5 190.0,62.0 C190.2,64.5 187.7,67.3 186.0,70.0 C184.3,72.7 181.0,76.7 180.0,78.0" fill="none" stroke="#df7a26" stroke-width="1.8" stroke-linecap="round" stroke-linejoin="round"/>
<path d="M125.0,74.0 C125.8,73.3 127.8,70.8 130.0,70.0 C132.2,69.2 135.8,68.5 138.0,69.0 C140.2,69.5 141.8,71.2 143.0,73.0 C144.2,74.8 144.7,78.8 145.0,80.0" fill="none" stroke="#df7a26" stroke-width="1.8" stroke-linecap="round" stroke-linejoin="round"/>
<path d="M164.0,80.0 C165.3,79.0 169.7,76.0 172.0,74.0 C174.3,72.0 176.7,70.3 178.0,68.0 C179.3,65.7 179.0,63.0 180.0,60.0 C181.0,57.0 183.3,51.7 184.0,50.0" fill="none" stroke="#df7a26" stroke-width="1.8" stroke-linecap="round" stroke-linejoin="round"/>
<path d="M180.0,78.0 C181.3,79.3 185.3,83.3 188.0,86.0 C190.7,88.7 194.0,91.0 196.0,94.0 C198.0,97.0 199.7,101.0 200.0,104.0 C200.3,107.0 199.3,109.7 198.0,112.0 C196.7,114.3 193.0,117.0 192.0,118.0" fill="none" stroke="#df7a26" stroke-width="1.8" stroke-linecap="round" stroke-linejoin="round"/>
<path d="M210.0,100.0 C210.7,101.7 213.7,106.7 214.0,110.0 C214.3,113.3 213.3,117.3 212.0,120.0 C210.7,122.7 207.0,125.0 206.0,126.0" fill="none" stroke="#df7a26" stroke-width="1.8" stroke-linecap="round" stroke-linejoin="round"/>
<path d="M190.0,145.0 C191.0,146.2 193.7,149.8 196.0,152.0 C198.3,154.2 201.3,156.7 204.0,158.0 C206.7,159.3 209.0,160.3 212.0,160.0 C215.0,159.7 219.3,157.7 222.0,156.0 C224.7,154.3 227.0,151.0 228.0,150.0" fill="none" stroke="#df7a26" stroke-width="1.8" stroke-linecap="round" stroke-linejoin="round"/>
<path d="M222.0,156.0 C223.0,157.0 226.0,160.3 228.0,162.0 C230.0,163.7 232.0,165.7 234.0,166.0 C236.0,166.3 239.0,164.3 240.0,164.0" fill="none" stroke="#df7a26" stroke-width="1.8" stroke-linecap="round" stroke-linejoin="round"/>
<path d="M250.0,154.0 C250.8,155.0 253.0,158.5 255.0,160.0 C257.0,161.5 259.5,162.7 262.0,163.0 C264.5,163.3 268.7,162.2 270.0,162.0" fill="none" stroke="#df7a26" stroke-width="1.8" stroke-linecap="round" stroke-linejoin="round"/>
<path d="M170.0,120.0 C171.3,120.7 175.7,122.7 178.0,124.0 C180.3,125.3 182.0,126.2 184.0,128.0 C186.0,129.8 188.7,132.7 190.0,135.0 C191.3,137.3 191.7,140.8 192.0,142.0" fill="none" stroke="#df7a26" stroke-width="1.8" stroke-linecap="round" stroke-linejoin="round"/>
<path d="M144.2,79.9 L155.0,82.9 L154.4,84.9 L163.0,82.0 L157.2,75.1 L156.6,77.1 L145.8,74.1Z" fill="#d99a66" stroke="#b55a10" stroke-width="0.7" stroke-linejoin="round"/>
<path d="M190.2,38.4 L203.2,48.4 L206.8,43.6 L193.8,33.6Z" fill="#e3a36a" stroke="#b55a10" stroke-width="0.7" stroke-linejoin="round"/>
<path d="M197.8,63.6 L220.6,94.8 L219.0,96.0 L227.0,99.0 L226.6,90.5 L225.0,91.6 L202.2,60.4Z" fill="#dc9a5c" stroke="#b55a10" stroke-width="0.7" stroke-linejoin="round"/>
<path d="M218.6,58.4 L231.9,80.3 L230.3,81.3 L238.0,85.0 L238.3,76.5 L236.6,77.5 L223.4,55.6Z" fill="#e2a862" stroke="#b55a10" stroke-width="0.7" stroke-linejoin="round"/>
<path d="M201.0,83.0 L205.4,91.8 L204.0,92.5 L210.0,96.0 L210.8,89.1 L209.4,89.8 L205.0,81.0Z" fill="#c98a55" stroke="#b55a10" stroke-width="0.7" stroke-linejoin="round"/>
<path d="M206.5,149.5 L206.9,149.0 L207.2,148.4 L207.4,147.7 L207.4,146.9 L207.4,146.0 L207.3,145.0 L207.1,144.0 L206.8,142.9 L206.4,141.8 L205.9,140.7 L205.4,139.6 L204.9,138.5 L204.3,137.4 L203.8,136.3 L203.2,135.3 L202.6,134.4 L202.1,133.6 L201.6,132.9 L201.2,132.2 L200.8,131.7 L200.6,131.3 L200.4,131.0 L200.3,130.8 L200.4,130.6 L196.3,134.5 L195.9,134.9 L195.6,135.4 L195.3,136.1 L195.2,136.9 L195.2,137.8 L195.3,138.7 L195.5,139.7 L195.8,140.8 L196.1,141.9 L196.6,143.0 L197.1,144.2 L197.6,145.3 L198.2,146.4 L198.7,147.4 L199.3,148.4 L199.9,149.4 L200.4,150.2 L200.9,151.0 L201.4,151.7 L201.7,152.2 L202.0,152.7 L202.3,153.0 L202.4,153.2 L202.4,153.3Z" fill="#edb27a" stroke="#edb27a" stroke-width="0.6" stroke-linejoin="round"/>
<path d="M218.8,138.1 L219.2,137.5 L219.5,136.9 L219.6,136.1 L219.7,135.3 L219.6,134.4 L219.5,133.4 L219.2,132.4 L218.9,131.3 L218.5,130.2 L218.1,129.1 L217.6,127.9 L217.0,126.8 L216.4,125.7 L215.9,124.7 L215.3,123.7 L214.7,122.9 L214.2,122.0 L213.7,121.3 L213.3,120.7 L213.0,120.2 L212.7,119.8 L212.6,119.5 L212.5,119.4 L212.7,119.2 L208.5,123.1 L208.2,123.4 L207.9,123.9 L207.6,124.6 L207.5,125.3 L207.4,126.2 L207.5,127.1 L207.7,128.1 L207.9,129.2 L208.3,130.3 L208.7,131.4 L209.2,132.5 L209.7,133.6 L210.2,134.7 L210.8,135.8 L211.4,136.8 L212.0,137.8 L212.5,138.6 L213.0,139.4 L213.5,140.1 L213.9,140.7 L214.2,141.2 L214.4,141.6 L214.6,141.8 L214.6,141.9Z" fill="#edb27a" stroke="#edb27a" stroke-width="0.6" stroke-linejoin="round"/>
<path d="M231.1,126.6 L231.5,126.0 L231.7,125.3 L231.9,124.6 L231.9,123.7 L231.8,122.8 L231.7,121.8 L231.4,120.7 L231.1,119.7 L230.6,118.5 L230.2,117.4 L229.7,116.3 L229.1,115.2 L228.5,114.1 L227.9,113.1 L227.4,112.2 L226.8,111.3 L226.3,110.5 L225.9,109.8 L225.5,109.2 L225.1,108.7 L224.9,108.4 L224.8,108.1 L224.7,108.0 L225.0,107.7 L220.7,111.7 L220.5,111.9 L220.1,112.4 L219.9,113.0 L219.7,113.8 L219.7,114.6 L219.7,115.5 L219.9,116.5 L220.1,117.6 L220.4,118.6 L220.8,119.7 L221.3,120.9 L221.8,122.0 L222.3,123.1 L222.9,124.2 L223.5,125.2 L224.1,126.2 L224.6,127.1 L225.1,127.9 L225.6,128.6 L226.0,129.2 L226.4,129.7 L226.6,130.1 L226.8,130.4 L226.9,130.5Z" fill="#edb27a" stroke="#edb27a" stroke-width="0.6" stroke-linejoin="round"/>
<path d="M243.4,115.1 L243.8,114.5 L244.0,113.8 L244.1,113.0 L244.1,112.1 L244.0,111.2 L243.8,110.2 L243.6,109.1 L243.2,108.0 L242.8,106.9 L242.3,105.8 L241.8,104.7 L241.2,103.6 L240.6,102.5 L240.0,101.5 L239.5,100.6 L238.9,99.7 L238.4,98.9 L238.0,98.3 L237.6,97.7 L231.9,103.0 L231.9,103.9 L232.0,104.9 L232.3,105.9 L232.6,107.0 L233.0,108.1 L233.4,109.2 L233.9,110.4 L234.4,111.5 L235.0,112.6 L235.6,113.6 L236.2,114.6 L236.7,115.5 L237.2,116.3 L237.7,117.0 L238.2,117.7 L238.5,118.2 L238.8,118.6 L239.0,118.9 L239.1,119.1Z" fill="#edb27a" stroke="#edb27a" stroke-width="0.6" stroke-linejoin="round"/>
<path d="M201.9,146.3 L202.8,146.9 L203.6,147.5 L204.3,148.0 L204.9,148.5 L205.4,148.9 L205.9,149.2 L206.2,149.5 L206.3,149.6 L206.5,149.5 L202.4,153.3 L201.9,153.7 L201.3,154.0 L200.6,154.1 L199.8,154.2 L198.9,154.1 L198.0,153.9 L197.0,153.7 L195.9,153.3 L194.9,152.9Z" fill="#e0741c" stroke="#b55a10" stroke-width="0.7" stroke-linejoin="round"/>
<path d="M199.4,151.4 L200.3,151.8 L201.0,152.1 L201.7,152.4 L202.4,152.5 L202.9,152.5" fill="none" stroke="#ffffff" stroke-opacity="0.28" stroke-width="2.2" stroke-linecap="round"/>
<path d="M200.4,130.6 L200.9,130.3 L201.6,130.0 L202.3,129.9 L203.1,129.9 L204.0,130.0 L205.0,130.2 L206.0,130.5 L207.1,130.9 L208.1,131.4 L209.2,131.9 L210.3,132.5 L211.4,133.1 L212.4,133.7 L213.4,134.4 L214.3,135.0 L215.2,135.6 L216.0,136.2 L216.7,136.8 L217.3,137.2 L217.8,137.6 L218.2,137.9 L218.4,138.1 L218.6,138.2 L218.8,138.1 L214.6,141.9 L214.3,142.2 L213.7,142.5 L213.0,142.7 L212.2,142.8 L211.3,142.7 L210.4,142.6 L209.4,142.3 L208.4,142.0 L207.3,141.6 L206.2,141.1 L205.1,140.5 L204.1,139.9 L203.0,139.3 L202.0,138.6 L201.0,138.0 L200.1,137.3 L199.3,136.7 L198.6,136.2 L197.9,135.7 L197.4,135.3 L196.9,134.9 L196.6,134.7 L196.4,134.5 L196.3,134.5Z" fill="#e0741c" stroke="#b55a10" stroke-width="0.7" stroke-linejoin="round"/>
<path d="M200.1,133.7 L200.9,134.0 L201.8,134.4 L202.7,134.9 L203.7,135.5 L204.7,136.1 L205.8,136.7 L206.8,137.3 L207.9,137.9 L208.9,138.5 L210.0,139.1 L210.9,139.6 L211.8,140.1 L212.7,140.5 L213.4,140.8" fill="none" stroke="#ffffff" stroke-opacity="0.28" stroke-width="2.2" stroke-linecap="round"/>
<path d="M212.7,119.2 L213.3,118.8 L213.9,118.6 L214.7,118.5 L215.5,118.5 L216.5,118.6 L217.4,118.9 L218.5,119.2 L219.5,119.6 L220.6,120.1 L221.7,120.6 L222.8,121.2 L223.8,121.8 L224.9,122.5 L225.8,123.1 L226.8,123.8 L227.6,124.4 L228.4,125.0 L229.0,125.5 L229.6,125.9 L230.1,126.3 L230.4,126.6 L230.7,126.7 L230.8,126.8 L231.1,126.6 L226.9,130.5 L226.6,130.7 L226.0,131.1 L225.4,131.3 L224.6,131.4 L223.8,131.4 L222.9,131.2 L221.9,131.0 L220.8,130.7 L219.8,130.3 L218.7,129.8 L217.6,129.3 L216.5,128.7 L215.5,128.0 L214.4,127.4 L213.5,126.7 L212.5,126.1 L211.7,125.5 L210.9,124.9 L210.3,124.4 L209.7,124.0 L209.2,123.6 L208.9,123.3 L208.6,123.1 L208.5,123.1Z" fill="#e0741c" stroke="#b55a10" stroke-width="0.7" stroke-linejoin="round"/>
<path d="M212.5,122.3 L213.3,122.7 L214.2,123.2 L215.2,123.7 L216.2,124.2 L217.2,124.8 L218.2,125.4 L219.3,126.1 L220.4,126.7 L221.4,127.3 L222.4,127.8 L223.3,128.4 L224.2,128.8 L225.1,129.2 L225.8,129.5" fill="none" stroke="#ffffff" stroke-opacity="0.28" stroke-width="2.2" stroke-linecap="round"/>
<path d="M225.0,107.7 L225.6,107.4 L226.3,107.2 L227.1,107.1 L228.0,107.2 L228.9,107.3 L229.9,107.5 L230.9,107.9 L232.0,108.3 L233.1,108.8 L234.2,109.4 L235.2,110.0 L236.3,110.6 L237.3,111.2 L238.3,111.9 L239.2,112.5 L240.0,113.1 L240.7,113.7 L241.4,114.2 L242.0,114.6 L242.4,115.0 L242.7,115.2 L243.0,115.4 L243.1,115.4 L243.4,115.1 L239.1,119.1 L239.0,119.3 L238.4,119.6 L237.8,119.9 L237.0,120.0 L236.2,120.0 L235.3,119.9 L234.3,119.7 L233.3,119.4 L232.2,119.0 L231.2,118.5 L230.1,118.0 L229.0,117.4 L227.9,116.8 L226.9,116.1 L225.9,115.5 L225.0,114.8 L224.1,114.2 L223.3,113.7 L222.6,113.1 L222.0,112.7 L221.6,112.3 L221.2,112.0 L220.9,111.8 L220.7,111.7Z" fill="#e0741c" stroke="#b55a10" stroke-width="0.7" stroke-linejoin="round"/>
<path d="M224.9,111.0 L225.7,111.4 L226.6,111.9 L227.6,112.4 L228.6,113.0 L229.6,113.6 L230.7,114.2 L231.8,114.8 L232.8,115.4 L233.8,116.0 L234.8,116.6 L235.8,117.1 L236.7,117.5 L237.5,117.9 L238.2,118.1" fill="none" stroke="#ffffff" stroke-opacity="0.28" stroke-width="2.2" stroke-linecap="round"/>
<path d="M236.1,107.4 L236.2,108.1 L236.6,108.8 L237.1,109.5 L237.9,110.1 L238.8,110.7 L239.9,111.3 L241.1,111.9 L242.4,112.4 L243.8,112.9 L245.3,113.4 L246.9,113.8 L248.5,114.1 L250.0,114.4 L251.6,114.7 L253.1,114.9 L254.5,115.1 L255.7,115.3 L256.9,115.5 L257.9,115.6 L258.8,115.6 L259.4,115.7 L259.9,115.8 L260.2,115.8 L260.2,116.0 L260.1,109.8 L260.0,109.2 L259.8,108.5 L259.3,107.9 L258.6,107.2 L257.7,106.6 L256.7,106.0 L255.6,105.4 L254.3,104.9 L252.9,104.4 L251.4,103.9 L249.8,103.5 L248.3,103.1 L246.7,102.8 L245.1,102.5 L243.6,102.2 L242.2,102.0 L240.9,101.9 L239.7,101.7 L238.6,101.6 L237.7,101.5 L237.0,101.4 L236.4,101.4 L236.1,101.3 L236.0,101.3Z" fill="#f1cfa6" stroke="#f1cfa6" stroke-width="0.6" stroke-linejoin="round"/>
<path d="M236.4,125.4 L236.6,126.1 L236.9,126.8 L237.5,127.5 L238.2,128.1 L239.1,128.7 L240.2,129.3 L241.4,129.9 L242.7,130.4 L244.2,130.9 L245.7,131.4 L247.2,131.8 L248.8,132.1 L250.4,132.4 L251.9,132.7 L253.4,132.9 L254.8,133.1 L256.1,133.3 L257.2,133.5 L258.2,133.6 L259.1,133.6 L259.8,133.7 L260.2,133.8 L260.5,133.8 L260.6,134.0 L260.5,127.8 L260.4,127.2 L260.1,126.5 L259.6,125.9 L258.9,125.2 L258.1,124.6 L257.1,124.0 L255.9,123.4 L254.6,122.9 L253.2,122.4 L251.7,121.9 L250.2,121.5 L248.6,121.1 L247.0,120.8 L245.5,120.5 L244.0,120.2 L242.5,120.0 L241.2,119.9 L240.0,119.7 L238.9,119.6 L238.0,119.5 L237.3,119.4 L236.8,119.4 L236.4,119.3 L236.3,119.3Z" fill="#f1cfa6" stroke="#f1cfa6" stroke-width="0.6" stroke-linejoin="round"/>
<path d="M236.7,143.4 L236.9,144.1 L237.3,144.8 L237.8,145.5 L238.5,146.1 L239.5,146.7 L240.5,147.3 L241.7,147.9 L243.1,148.4 L244.5,148.9 L246.0,149.4 L247.6,149.8 L249.1,150.1 L250.7,150.4 L252.2,150.7 L253.7,150.9 L255.1,151.1 L256.4,151.3 L257.6,151.5 L258.6,151.6 L259.4,151.6 L260.1,151.7 L260.6,151.8 L260.8,151.8 L260.9,152.0 L260.8,145.8 L260.7,145.2 L260.4,144.5 L259.9,143.9 L259.3,143.2 L258.4,142.6 L257.4,142.0 L256.2,141.4 L254.9,140.9 L253.5,140.4 L252.0,139.9 L250.5,139.5 L248.9,139.1 L247.4,138.8 L245.8,138.5 L244.3,138.2 L242.9,138.0 L241.5,137.9 L240.3,137.7 L239.3,137.6 L238.4,137.5 L237.7,137.4 L237.1,137.4 L236.8,137.3 L236.6,137.3Z" fill="#f1cfa6" stroke="#f1cfa6" stroke-width="0.6" stroke-linejoin="round"/>
<path d="M236.9,107.1 L236.4,107.2 L236.1,107.3 L236.1,107.4 L236.0,101.3 L236.0,100.7 L236.3,100.0 L236.7,99.3Z" fill="#e2873a" stroke="#c06818" stroke-width="0.7" stroke-linejoin="round"/>
<path d="M236.8,101.9 L236.3,102.3 L236.1,102.7 L236.0,103.0" fill="none" stroke="#ffffff" stroke-opacity="0.28" stroke-width="2.4" stroke-linecap="round"/>
<path d="M260.2,116.0 L260.1,116.7 L259.8,117.4 L259.3,118.1 L258.6,118.7 L257.7,119.4 L256.6,120.0 L255.4,120.6 L254.1,121.2 L252.7,121.8 L251.2,122.3 L249.7,122.7 L248.1,123.1 L246.6,123.5 L245.0,123.8 L243.6,124.1 L242.2,124.4 L240.9,124.6 L239.7,124.8 L238.7,124.9 L237.9,125.0 L237.2,125.1 L236.8,125.2 L236.5,125.3 L236.4,125.4 L236.3,119.3 L236.4,118.7 L236.6,118.0 L237.1,117.3 L237.7,116.6 L238.6,115.9 L239.6,115.3 L240.7,114.7 L242.0,114.1 L243.4,113.6 L244.8,113.0 L246.4,112.6 L247.9,112.1 L249.5,111.7 L251.0,111.4 L252.5,111.1 L253.9,110.8 L255.2,110.6 L256.4,110.4 L257.5,110.3 L258.4,110.1 L259.1,110.0 L259.7,109.9 L260.0,109.9 L260.1,109.8Z" fill="#e2873a" stroke="#c06818" stroke-width="0.7" stroke-linejoin="round"/>
<path d="M257.6,113.5 L256.5,113.9 L255.3,114.3 L254.0,114.7 L252.6,115.1 L251.1,115.5 L249.5,115.9 L248.0,116.3 L246.4,116.7 L244.9,117.1 L243.4,117.5 L242.0,117.9 L240.8,118.3 L239.6,118.7 L238.6,119.1" fill="none" stroke="#ffffff" stroke-opacity="0.28" stroke-width="2.4" stroke-linecap="round"/>
<path d="M260.6,134.0 L260.4,134.7 L260.1,135.4 L259.6,136.1 L258.9,136.7 L258.0,137.4 L256.9,138.0 L255.8,138.6 L254.4,139.2 L253.0,139.8 L251.5,140.3 L250.0,140.7 L248.4,141.1 L246.9,141.5 L245.4,141.8 L243.9,142.1 L242.5,142.4 L241.2,142.6 L240.1,142.8 L239.1,142.9 L238.2,143.0 L237.6,143.1 L237.1,143.2 L236.8,143.3 L236.7,143.4 L236.6,137.3 L236.7,136.7 L237.0,136.0 L237.4,135.3 L238.1,134.6 L238.9,133.9 L239.9,133.3 L241.0,132.7 L242.3,132.1 L243.7,131.6 L245.2,131.0 L246.7,130.6 L248.2,130.1 L249.8,129.7 L251.3,129.4 L252.8,129.1 L254.3,128.8 L255.6,128.6 L256.8,128.4 L257.8,128.3 L258.7,128.1 L259.4,128.0 L260.0,127.9 L260.3,127.9 L260.5,127.8Z" fill="#e2873a" stroke="#c06818" stroke-width="0.7" stroke-linejoin="round"/>
<path d="M257.9,131.5 L256.8,131.9 L255.6,132.3 L254.3,132.7 L252.9,133.1 L251.4,133.5 L249.9,133.9 L248.3,134.3 L246.8,134.7 L245.2,135.1 L243.8,135.5 L242.4,135.9 L241.1,136.3 L240.0,136.7 L239.0,137.1" fill="none" stroke="#ffffff" stroke-opacity="0.28" stroke-width="2.4" stroke-linecap="round"/>
<path d="M260.9,152.0 L260.8,152.7 L260.5,153.4 L259.9,154.1 L259.2,154.7 L258.3,155.4 L257.3,156.0 L256.1,156.6 L254.8,157.2 L253.4,157.8 L251.9,158.3 L250.3,158.7 L248.8,159.1 L247.2,159.5 L245.7,159.8 L244.2,160.1 L242.8,160.4 L241.6,160.6 L240.4,160.8 L239.4,160.9 L238.6,161.0 L237.9,161.1 L237.7,153.3 L238.4,152.6 L239.2,151.9 L240.2,151.3 L241.4,150.7 L242.6,150.1 L244.0,149.6 L245.5,149.0 L247.0,148.6 L248.6,148.1 L250.1,147.7 L251.7,147.4 L253.2,147.1 L254.6,146.8 L255.9,146.6 L257.1,146.4 L258.2,146.3 L259.1,146.1 L259.8,146.0 L260.3,145.9 L260.7,145.9 L260.8,145.8Z" fill="#e2873a" stroke="#c06818" stroke-width="0.7" stroke-linejoin="round"/>
<path d="M259.1,149.1 L258.2,149.5 L257.2,149.9 L256.0,150.3 L254.7,150.7 L253.2,151.1 L251.7,151.5 L250.2,151.9 L248.7,152.3 L247.1,152.7 L245.6,153.1 L244.1,153.5 L242.7,153.9 L241.4,154.3" fill="none" stroke="#ffffff" stroke-opacity="0.28" stroke-width="2.4" stroke-linecap="round"/>
<path d="M181.2,102.0 L194.2,120.0 L199.8,116.0 L186.8,98.0Z" fill="#b98a60" stroke="#b55a10" stroke-width="0.7" stroke-linejoin="round"/>
<path d="M188.9,144.1 L189.3,144.5 L189.7,144.9 L190.3,145.2 L190.8,145.4 L191.4,145.6 L192.1,145.8 L192.8,145.9 L193.5,146.0 L194.3,146.1 L195.0,146.1 L195.7,146.0 L196.5,146.0 L197.2,145.9 L197.8,145.9 L198.5,145.8 L199.1,145.7 L199.6,145.6 L200.0,145.6 L200.4,145.5 L200.8,145.5 L201.0,145.5 L201.2,145.6 L201.3,145.7 L201.5,146.2 L199.4,142.5 L199.4,142.3 L199.1,141.9 L198.7,141.5 L198.3,141.1 L197.7,140.8 L197.2,140.6 L196.6,140.4 L195.9,140.2 L195.2,140.1 L194.5,140.0 L193.7,139.9 L193.0,139.9 L192.3,140.0 L191.5,140.0 L190.8,140.1 L190.2,140.1 L189.5,140.2 L188.9,140.3 L188.4,140.4 L188.0,140.4 L187.6,140.5 L187.2,140.5 L187.0,140.5 L186.8,140.4Z" fill="#edb27a" stroke="#edb27a" stroke-width="0.6" stroke-linejoin="round"/>
<path d="M191.7,139.0 L191.3,139.6 L190.9,140.2 L190.5,140.8 L190.1,141.3 L189.8,141.7 L189.4,142.1 L189.2,142.5 L188.9,142.8 L188.7,143.1 L188.6,143.3 L188.6,143.5 L188.6,143.7 L188.9,144.1 L186.8,140.4 L186.7,140.3 L186.5,139.8 L186.3,139.3 L186.2,138.7 L186.2,138.1 L186.3,137.5 L186.4,136.9 L186.6,136.2 L186.9,135.6 L187.2,134.9 L187.5,134.2 L187.9,133.6 L188.3,133.0Z" fill="#d9a070" stroke="#b55a10" stroke-width="0.7" stroke-linejoin="round"/>
<path d="M188.8,136.5 L188.4,137.1 L188.1,137.7 L187.8,138.2 L187.5,138.8 L187.3,139.3 L187.2,139.8 L187.1,140.2 L187.1,140.6 L187.1,140.9" fill="none" stroke="#ffffff" stroke-opacity="0.28" stroke-width="1.5" stroke-linecap="round"/>
<path d="M201.5,146.2 L201.7,146.7 L201.8,147.3 L201.8,147.9 L201.7,148.5 L201.6,149.1 L201.4,149.8 L201.1,150.4 L200.8,151.1 L200.5,151.8 L200.1,152.4 L199.7,153.0 L196.3,147.0 L196.7,146.4 L197.1,145.8 L197.5,145.2 L197.9,144.7 L198.2,144.3 L198.6,143.9 L198.8,143.5 L199.1,143.2 L199.3,142.9 L199.4,142.7 L199.4,142.5Z" fill="#d9a070" stroke="#b55a10" stroke-width="0.7" stroke-linejoin="round"/>
<path d="M200.1,144.4 L200.0,144.8 L199.9,145.3 L199.7,145.8 L199.4,146.3 L199.1,146.9 L198.7,147.4 L198.4,148.0" fill="none" stroke="#ffffff" stroke-opacity="0.28" stroke-width="1.5" stroke-linecap="round"/>
<rect x="117.5" y="63.5" width="61.5" height="54.5" fill="none" stroke="#999" stroke-width="0.9"/>
<path d="M178.8,63.3 L330,23.5" stroke="#a8a8a8" stroke-width="0.8" stroke-dasharray="1.6,0.6"/>
<path d="M178.8,117.8 L330,172" stroke="#909090" stroke-width="0.9" stroke-dasharray="1,1.2"/>
<path d="M345.0,28.0 C343.8,28.7 339.8,29.7 338.0,32.0 C336.2,34.3 334.3,38.3 334.0,42.0 C333.7,45.7 334.7,50.7 336.0,54.0 C337.3,57.3 341.0,60.7 342.0,62.0" fill="none" stroke="#e9eced" stroke-width="3.5" stroke-linecap="round" stroke-linejoin="round"/>
<path d="M348.0,36.0 C348.3,38.3 349.3,45.7 350.0,50.0 C350.7,54.3 351.0,58.3 352.0,62.0 C353.0,65.7 355.3,70.3 356.0,72.0" fill="none" stroke="#e9eced" stroke-width="5" stroke-linecap="round" stroke-linejoin="round"/>
<path d="M331.0,76.0 C332.2,77.3 335.2,81.3 338.0,84.0 C340.8,86.7 344.0,90.0 348.0,92.0 C352.0,94.0 356.7,95.0 362.0,96.0 C367.3,97.0 377.0,97.7 380.0,98.0" fill="none" stroke="#e3eff1" stroke-width="3" stroke-linecap="round" stroke-linejoin="round"/>
<path d="M333.0,96.0 C334.5,97.3 339.2,101.7 342.0,104.0 C344.8,106.3 346.3,108.7 350.0,110.0 C353.7,111.3 359.3,111.7 364.0,112.0 C368.7,112.3 374.0,112.7 378.0,112.0 C382.0,111.3 386.3,108.7 388.0,108.0" fill="none" stroke="#e3eff1" stroke-width="4" stroke-linecap="round" stroke-linejoin="round"/>
<path d="M331.0,112.0 C332.2,113.3 335.5,117.3 338.0,120.0 C340.5,122.7 343.0,126.0 346.0,128.0 C349.0,130.0 352.3,131.0 356.0,132.0 C359.7,133.0 366.0,133.7 368.0,134.0" fill="none" stroke="#e3eff1" stroke-width="4" stroke-linecap="round" stroke-linejoin="round"/>
<path d="M333.0,128.0 C333.5,129.3 334.8,133.7 336.0,136.0 C337.2,138.3 338.3,140.3 340.0,142.0 C341.7,143.7 345.0,145.3 346.0,146.0" fill="none" stroke="#e3eff1" stroke-width="3" stroke-linecap="round" stroke-linejoin="round"/>
<path d="M366.0,118.0 C367.7,118.7 372.7,120.3 376.0,122.0 C379.3,123.7 382.7,126.2 386.0,128.0 C389.3,129.8 394.3,132.2 396.0,133.0" fill="none" stroke="#e3eff1" stroke-width="3" stroke-linecap="round" stroke-linejoin="round"/>
<path d="M398.0,116.0 C399.0,117.3 401.7,121.7 404.0,124.0 C406.3,126.3 409.7,128.0 412.0,130.0 C414.3,132.0 416.0,134.3 418.0,136.0 C420.0,137.7 422.3,139.0 424.0,140.0 C425.7,141.0 427.3,141.7 428.0,142.0" fill="none" stroke="#e3eff1" stroke-width="4" stroke-linecap="round" stroke-linejoin="round"/>
<path d="M380.0,90.0 C381.3,89.3 386.0,85.3 388.0,86.0 C390.0,86.7 390.7,91.0 392.0,94.0 C393.3,97.0 395.3,102.3 396.0,104.0" fill="none" stroke="#e3eff1" stroke-width="3" stroke-linecap="round" stroke-linejoin="round"/>
<path d="M388,94 L400,93 L408,104 L404,114 L394,112 Z" fill="#dfecef"/>
<path d="M350.5,36 L358,33.9 L364.3,41.5 L365,54 L359.4,59 L352.4,55.5 L350.3,47 Z" fill="#d2d2d2"/>
<path d="M436.0,66.0 C436.7,65.3 438.3,62.0 440.0,62.0 C441.7,62.0 444.7,63.7 446.0,66.0 C447.3,68.3 447.7,74.3 448.0,76.0" fill="none" stroke="#f4ebe0" stroke-width="3" stroke-linecap="round" stroke-linejoin="round"/>
<path d="M448.0,76.0 C450.3,75.8 457.3,75.5 462.0,75.0 C466.7,74.5 471.7,74.3 476.0,73.0 C480.3,71.7 484.0,69.2 488.0,67.0 C492.0,64.8 498.0,61.2 500.0,60.0" fill="none" stroke="#f4ebe0" stroke-width="4" stroke-linecap="round" stroke-linejoin="round"/>
<path d="M490.0,50.0 C491.0,49.3 494.0,46.2 496.0,46.0 C498.0,45.8 501.3,47.2 502.0,49.0 C502.7,50.8 501.7,54.8 500.0,57.0 C498.3,59.2 493.3,61.2 492.0,62.0" fill="none" stroke="#f4ebe0" stroke-width="3" stroke-linecap="round" stroke-linejoin="round"/>
<path d="M470.0,74.0 C471.3,75.3 474.7,80.2 478.0,82.0 C481.3,83.8 486.3,85.3 490.0,85.0 C493.7,84.7 498.3,80.8 500.0,80.0" fill="none" stroke="#f4ebe0" stroke-width="3" stroke-linecap="round" stroke-linejoin="round"/>
<path d="M497.0,82.0 C497.5,85.0 499.7,92.8 500.0,100.0 C500.3,107.2 499.8,117.0 499.0,125.0 C498.2,133.0 496.5,141.3 495.0,148.0 C493.5,154.7 491.5,161.0 490.0,165.0 C488.5,169.0 486.7,170.8 486.0,172.0" fill="none" stroke="#f4ebe0" stroke-width="4" stroke-linecap="round" stroke-linejoin="round"/>
<path d="M420.0,72.0 C421.0,73.3 424.0,78.0 426.0,80.0 C428.0,82.0 431.0,83.3 432.0,84.0" fill="none" stroke="#f4ebe0" stroke-width="3" stroke-linecap="round" stroke-linejoin="round"/>
<path d="M462.0,88.0 C463.3,89.7 467.7,95.7 470.0,98.0 C472.3,100.3 473.7,101.7 476.0,102.0 C478.3,102.3 482.7,100.3 484.0,100.0" fill="none" stroke="#f4ebe0" stroke-width="3" stroke-linecap="round" stroke-linejoin="round"/>
<path d="M462.0,140.0 C463.0,142.0 466.0,148.7 468.0,152.0 C470.0,155.3 472.3,157.0 474.0,160.0 C475.7,163.0 477.3,168.3 478.0,170.0" fill="none" stroke="#f4ebe0" stroke-width="3" stroke-linecap="round" stroke-linejoin="round"/>
<path d="M429,73 L439,71 L452,87 L449,96 L436,92 Z" fill="#f3e9dd"/>
<path d="M470,128 L486,126 L492,148 L480,153 L472,144 Z" fill="#efe5d9"/>
<path d="M360.8,38.0 L368.4,38.7 L374.0,45.7 L382.4,45.0 L385.2,40.1 L386.6,36.0" fill="none" stroke="#6aa4ab" stroke-width="3.2" stroke-linejoin="round" stroke-linecap="round"/><path d="M360.8,38.0 L368.4,38.7 L374.0,45.7 L382.4,45.0 L385.2,40.1 L386.6,36.0" fill="none" stroke="#c0e8ea" stroke-width="2.1" stroke-linejoin="round" stroke-linecap="round"/>
<path d="M379.5,45.2 L383,44.5" stroke="#e9b324" stroke-width="2.6" stroke-linecap="round"/>
<path d="M369.8,56.2 L375.0,53.5 L381.0,51.3 L386.6,54.8 L393.5,55.5 L396.0,53.0" fill="none" stroke="#b8853a" stroke-width="3.2" stroke-linejoin="round" stroke-linecap="round"/><path d="M369.8,56.2 L375.0,53.5 L381.0,51.3 L386.6,54.8 L393.5,55.5 L396.0,53.0" fill="none" stroke="#f0c070" stroke-width="2.1" stroke-linejoin="round" stroke-linecap="round"/>
<circle cx="369.8" cy="56.2" r="1.6" fill="#cc3b3b"/>
<path d="M382.4,68.0 L389.4,75.0 L396.3,73.6 L399.6,69.5 L399.0,63.0 L406.9,57.0" fill="none" stroke="#b8853a" stroke-width="3.2" stroke-linejoin="round" stroke-linecap="round"/><path d="M382.4,68.0 L389.4,75.0 L396.3,73.6 L399.6,69.5 L399.0,63.0 L406.9,57.0" fill="none" stroke="#f0c070" stroke-width="2.1" stroke-linejoin="round" stroke-linecap="round"/>
<path d="M386,72 L390,75.5" stroke="#e9a824" stroke-width="2.6"/>
<path d="M355.0,62.0 L359.0,59.7 L364.0,61.0 L364.3,67.0 L360.0,69.4 L355.5,67.0 L355.0,62.0" fill="none" stroke="#6aa4ab" stroke-width="3.2" stroke-linejoin="round" stroke-linecap="round"/><path d="M355.0,62.0 L359.0,59.7 L364.0,61.0 L364.3,67.0 L360.0,69.4 L355.5,67.0 L355.0,62.0" fill="none" stroke="#c0e8ea" stroke-width="2.1" stroke-linejoin="round" stroke-linecap="round"/>
<path d="M347.5,69.0 L356.0,71.0" fill="none" stroke="#6aa4ab" stroke-width="3.2" stroke-linejoin="round" stroke-linecap="round"/><path d="M347.5,69.0 L356.0,71.0" fill="none" stroke="#c0e8ea" stroke-width="2.1" stroke-linejoin="round" stroke-linecap="round"/>
<path d="M357.0,72.0 L365.0,69.4 L373.0,71.0 L375.4,76.0 L370.0,79.2 L360.0,79.0 L356.0,75.0 L357.0,72.0" fill="none" stroke="#6aa4ab" stroke-width="3.2" stroke-linejoin="round" stroke-linecap="round"/><path d="M357.0,72.0 L365.0,69.4 L373.0,71.0 L375.4,76.0 L370.0,79.2 L360.0,79.0 L356.0,75.0 L357.0,72.0" fill="none" stroke="#c0e8ea" stroke-width="2.1" stroke-linejoin="round" stroke-linecap="round"/>
<circle cx="369.8" cy="66.6" r="1.5" fill="#cc3b3b"/><circle cx="374" cy="79.4" r="1.6" fill="#cc3b3b"/>
<path d="M400.0,80.5 L410.0,79.0 L420.0,80.5 L419.0,86.0 L409.0,86.5 L400.0,84.5 L400.0,80.5" fill="none" stroke="#8a6a40" stroke-width="3.5" stroke-linejoin="round" stroke-linecap="round"/><path d="M400.0,80.5 L410.0,79.0 L420.0,80.5 L419.0,86.0 L409.0,86.5 L400.0,84.5 L400.0,80.5" fill="none" stroke="#c9a068" stroke-width="2.4" stroke-linejoin="round" stroke-linecap="round"/>
<path d="M420.0,81.0 L425.0,75.0 L423.0,70.0" fill="none" stroke="#b8853a" stroke-width="3.2" stroke-linejoin="round" stroke-linecap="round"/><path d="M420.0,81.0 L425.0,75.0 L423.0,70.0" fill="none" stroke="#f0c070" stroke-width="2.1" stroke-linejoin="round" stroke-linecap="round"/>
<path d="M408.5,115.5 L411.0,106.7 L422.0,106.0 L434.0,105.5" fill="none" stroke="#6aa4ab" stroke-width="3.2" stroke-linejoin="round" stroke-linecap="round"/><path d="M408.5,115.5 L411.0,106.7 L422.0,106.0 L434.0,105.5" fill="none" stroke="#c0e8ea" stroke-width="2.1" stroke-linejoin="round" stroke-linecap="round"/>
<path d="M418.0,104.5 L432.0,104.0 L433.0,107.5 L419.0,108.0" fill="none" stroke="#5f8f96" stroke-width="2.7" stroke-linejoin="round" stroke-linecap="round"/><path d="M418.0,104.5 L432.0,104.0 L433.0,107.5 L419.0,108.0" fill="none" stroke="#c0e4e6" stroke-width="1.6" stroke-linejoin="round" stroke-linecap="round"/>
<path d="M425.3,133.0 L431.7,126.7 L432.5,120.3 L439.6,116.3 L442.8,117.9 L447.6,123.5" fill="none" stroke="#6aa4ab" stroke-width="3.2" stroke-linejoin="round" stroke-linecap="round"/><path d="M425.3,133.0 L431.7,126.7 L432.5,120.3 L439.6,116.3 L442.8,117.9 L447.6,123.5" fill="none" stroke="#c0e8ea" stroke-width="2.1" stroke-linejoin="round" stroke-linecap="round"/>
<path d="M438,117 L442,117" stroke="#e9b324" stroke-width="2.6" stroke-linecap="round"/>
<path d="M433.2,138.6 L442.8,137.8 L449.2,136.2 L455.6,135.4" fill="none" stroke="#6aa4ab" stroke-width="3.2" stroke-linejoin="round" stroke-linecap="round"/><path d="M433.2,138.6 L442.8,137.8 L449.2,136.2 L455.6,135.4" fill="none" stroke="#c0e8ea" stroke-width="2.1" stroke-linejoin="round" stroke-linecap="round"/>
<circle cx="456.4" cy="137" r="1.5" fill="#cc3b3b"/><circle cx="459.5" cy="134.6" r="1.5" fill="#cc3b3b"/>
<path d="M447.6,160.0 L444.4,151.4 L452.4,149.8 L458.7,149.0 L465.9,154.5" fill="none" stroke="#b8853a" stroke-width="3.2" stroke-linejoin="round" stroke-linecap="round"/><path d="M447.6,160.0 L444.4,151.4 L452.4,149.8 L458.7,149.0 L465.9,154.5" fill="none" stroke="#f0c070" stroke-width="2.1" stroke-linejoin="round" stroke-linecap="round"/>
<path d="M458.7,108.3 L463.0,112.0 L462.0,118.0 L468.0,122.0 L474.0,119.0 L475.0,112.0 L469.0,108.0 L463.0,112.0" fill="none" stroke="#b8853a" stroke-width="3.2" stroke-linejoin="round" stroke-linecap="round"/><path d="M458.7,108.3 L463.0,112.0 L462.0,118.0 L468.0,122.0 L474.0,119.0 L475.0,112.0 L469.0,108.0 L463.0,112.0" fill="none" stroke="#f0c070" stroke-width="2.1" stroke-linejoin="round" stroke-linecap="round"/>
<path d="M466.0,124.0 L470.0,120.0 L476.0,124.0 L477.0,132.0 L470.0,134.0 L466.0,124.0" fill="none" stroke="#b8853a" stroke-width="3.2" stroke-linejoin="round" stroke-linecap="round"/><path d="M466.0,124.0 L470.0,120.0 L476.0,124.0 L477.0,132.0 L470.0,134.0 L466.0,124.0" fill="none" stroke="#f0c070" stroke-width="2.1" stroke-linejoin="round" stroke-linecap="round"/>
<circle cx="458.7" cy="108.3" r="1.6" fill="#cc3b3b"/><circle cx="464" cy="126" r="1.4" fill="#d86a6a"/>
<text x="377.5" y="33.2" font-size="8.3" font-weight="bold" textLength="20.8" lengthAdjust="spacingAndGlyphs" fill="#2a9a9c" font-family="Liberation Sans, sans-serif">M642</text>
<text x="389.7" y="52.4" font-size="8.3" font-weight="bold" textLength="17.0" lengthAdjust="spacingAndGlyphs" fill="#e0892a" font-family="Liberation Sans, sans-serif">E627</text>
<text x="331.6" y="66.8" font-size="8.3" font-weight="bold" textLength="17.0" lengthAdjust="spacingAndGlyphs" fill="#2a9a9c" font-family="Liberation Sans, sans-serif">Y694</text>
<text x="405.6" y="66.4" font-size="8.3" font-weight="bold" textLength="20.8" lengthAdjust="spacingAndGlyphs" fill="#e0892a" font-family="Liberation Sans, sans-serif">M629</text>
<text x="344.7" y="86.9" font-size="8.3" font-weight="bold" textLength="17.0" lengthAdjust="spacingAndGlyphs" fill="#2a9a9c" font-family="Liberation Sans, sans-serif">Y639</text>
<text x="407.3" y="96.1" font-size="8.3" font-weight="bold" textLength="17.0" lengthAdjust="spacingAndGlyphs" fill="#e0892a" font-family="Liberation Sans, sans-serif">F631</text>
<text x="435.9" y="105" font-size="8.3" font-weight="bold" textLength="17.0" lengthAdjust="spacingAndGlyphs" fill="#2a9a9c" font-family="Liberation Sans, sans-serif">F631</text>
<text x="472.2" y="105.4" font-size="8.3" font-weight="bold" textLength="17.0" lengthAdjust="spacingAndGlyphs" fill="#e0892a" font-family="Liberation Sans, sans-serif">Y639</text>
<text x="406" y="129.2" font-size="8.3" font-weight="bold" textLength="20.8" lengthAdjust="spacingAndGlyphs" fill="#2a9a9c" font-family="Liberation Sans, sans-serif">M629</text>
<text x="482.3" y="129.2" font-size="8.3" font-weight="bold" textLength="17.0" lengthAdjust="spacingAndGlyphs" fill="#e0892a" font-family="Liberation Sans, sans-serif">Y694</text>
<text x="434.4" y="147" font-size="8.3" font-weight="bold" textLength="17.0" lengthAdjust="spacingAndGlyphs" fill="#2a9a9c" font-family="Liberation Sans, sans-serif">E627</text>
<text x="438.2" y="168.9" font-size="8.3" font-weight="bold" textLength="20.8" lengthAdjust="spacingAndGlyphs" fill="#e0892a" font-family="Liberation Sans, sans-serif">M642</text>
<text x="351.6" y="52.3" font-size="11" textLength="10.8" lengthAdjust="spacingAndGlyphs" fill="#2c5a5a" font-family="Liberation Serif, serif">β6</text>
<text x="434.4" y="89.2" font-size="11" textLength="10.8" lengthAdjust="spacingAndGlyphs" fill="#7d5a2a" font-family="Liberation Serif, serif">β5</text>
<text x="453.8" y="80.2" font-size="11" textLength="10.8" lengthAdjust="spacingAndGlyphs" fill="#7d5a2a" font-family="Liberation Serif, serif">β4</text>
<text x="361.5" y="114.6" font-size="11" textLength="10.8" lengthAdjust="spacingAndGlyphs" fill="#2c5a5a" font-family="Liberation Serif, serif">β4</text>
<text x="392.4" y="107.2" font-size="11" textLength="10.8" lengthAdjust="spacingAndGlyphs" fill="#2c5a5a" font-family="Liberation Serif, serif">β5</text>
<text x="474.8" y="144.6" font-size="11" textLength="10.8" lengthAdjust="spacingAndGlyphs" fill="#7d5a2a" font-family="Liberation Serif, serif">β6</text>
<rect x="330.5" y="23.5" width="171" height="148" fill="none" stroke="#8c8c8c" stroke-width="1"/>
<path d="M40.6,201.5 V296.3 H237 V201.5" fill="none" stroke="#6e6e6e" stroke-width="1.4"/>
<text x="37.8" y="208.9" text-anchor="end" font-size="6.8" fill="#1a1a1a" font-family="Liberation Sans, sans-serif">200</text>
<text x="37.8" y="231.0" text-anchor="end" font-size="6.8" fill="#1a1a1a" font-family="Liberation Sans, sans-serif">150</text>
<text x="37.8" y="253.1" text-anchor="end" font-size="6.8" fill="#1a1a1a" font-family="Liberation Sans, sans-serif">100</text>
<text x="37.8" y="275.0" text-anchor="end" font-size="6.8" fill="#1a1a1a" font-family="Liberation Sans, sans-serif">50</text>
<text x="37.8" y="296.9" text-anchor="end" font-size="6.8" fill="#1a1a1a" font-family="Liberation Sans, sans-serif">0</text>
<text x="41.2" y="303.4" text-anchor="middle" font-size="6.8" fill="#1a1a1a" font-family="Liberation Sans, sans-serif">14</text>
<text x="93.6" y="303.4" text-anchor="middle" font-size="6.8" fill="#1a1a1a" font-family="Liberation Sans, sans-serif">15</text>
<text x="148" y="303.4" text-anchor="middle" font-size="6.8" fill="#1a1a1a" font-family="Liberation Sans, sans-serif">16</text>
<text x="200.8" y="303.4" text-anchor="middle" font-size="6.8" fill="#1a1a1a" font-family="Liberation Sans, sans-serif">17</text>
<text x="146.8" y="315.3" text-anchor="middle" font-size="8.8" fill="#111" font-family="Liberation Sans, sans-serif">V (mL)</text>
<text transform="translate(23.0,238.7) rotate(-90)" text-anchor="middle" font-size="8.6" fill="#111" font-family="Liberation Sans, sans-serif">A280 (mAU)</text>
<text x="239.8" y="212.7" font-size="6.9" textLength="19.2" lengthAdjust="spacingAndGlyphs" fill="#1a1a1a" font-family="Liberation Sans, sans-serif">5x10<tspan dy='-2.8' font-size='3.8'>4</tspan></text>
<text x="239.8" y="229.4" font-size="6.9" textLength="19.2" lengthAdjust="spacingAndGlyphs" fill="#1a1a1a" font-family="Liberation Sans, sans-serif">4x10<tspan dy='-2.8' font-size='3.8'>4</tspan></text>
<text x="239.8" y="246.9" font-size="6.9" textLength="19.2" lengthAdjust="spacingAndGlyphs" fill="#1a1a1a" font-family="Liberation Sans, sans-serif">3x10<tspan dy='-2.8' font-size='3.8'>4</tspan></text>
<text x="239.8" y="263.7" font-size="6.9" textLength="19.2" lengthAdjust="spacingAndGlyphs" fill="#1a1a1a" font-family="Liberation Sans, sans-serif">2x10<tspan dy='-2.8' font-size='3.8'>4</tspan></text>
<text x="249.4" y="281.4" font-size="6.9" textLength="9.6" lengthAdjust="spacingAndGlyphs" fill="#1a1a1a" font-family="Liberation Sans, sans-serif">10<tspan dy='-2.8' font-size='3.8'>4</tspan></text>
<text x="253" y="297.9" font-size="6.9" textLength="3.6" lengthAdjust="spacingAndGlyphs" fill="#1a1a1a" font-family="Liberation Sans, sans-serif">0</text>
<text transform="translate(262.3,247.4) rotate(90)" text-anchor="middle" font-size="9.9" fill="#111" font-family="Liberation Sans, sans-serif">Molecular mass</text>
<path d="M41,295.6 H235" stroke="#f07a2e" stroke-width="1.2" opacity="0.8"/>
<path d="M41.0,295.5 L41.5,295.5 L42.0,295.5 L42.5,295.5 L43.0,295.5 L43.5,295.5 L44.0,295.5 L44.5,295.5 L45.0,295.5 L45.5,295.5 L46.0,295.5 L46.5,295.5 L47.0,295.5 L47.5,295.5 L48.0,295.5 L48.5,295.5 L49.0,295.5 L49.5,295.5 L50.0,295.5 L50.5,295.5 L51.0,295.5 L51.5,295.5 L52.0,295.5 L52.5,295.5 L53.0,295.5 L53.5,295.5 L54.0,295.5 L54.5,295.5 L55.0,295.5 L55.5,295.5 L56.0,295.5 L56.5,295.5 L57.0,295.5 L57.5,295.5 L58.0,295.5 L58.5,295.5 L59.0,295.5 L59.5,295.5 L60.0,295.5 L60.5,295.5 L61.0,295.5 L61.5,295.5 L62.0,295.5 L62.5,295.5 L63.0,295.5 L63.5,295.5 L64.0,295.5 L64.5,295.5 L65.0,295.5 L65.5,295.5 L66.0,295.5 L66.5,295.5 L67.0,295.5 L67.5,295.5 L68.0,295.5 L68.5,295.5 L69.0,295.5 L69.5,295.5 L70.0,295.5 L70.5,295.5 L71.0,295.5 L71.5,295.5 L72.0,295.5 L72.5,295.5 L73.0,295.5 L73.5,295.5 L74.0,295.5 L74.5,295.5 L75.0,295.5 L75.5,295.5 L76.0,295.4 L76.5,295.4 L77.0,295.4 L77.5,295.3 L78.0,295.3 L78.5,295.2 L79.0,295.1 L79.5,294.9 L80.0,294.7 L80.5,294.5 L81.0,294.2 L81.5,293.8 L82.0,293.3 L82.5,292.8 L83.0,292.1 L83.5,291.3 L84.0,290.4 L84.5,289.4 L85.0,288.2 L85.5,286.8 L86.0,285.3 L86.5,283.6 L87.0,281.7 L87.5,279.7 L88.0,277.5 L88.5,275.2 L89.0,272.8 L89.5,270.2 L90.0,267.6 L90.5,264.9 L91.0,262.1 L91.5,259.3 L92.0,256.6 L92.5,253.8 L93.0,251.2 L93.5,248.6 L94.0,246.1 L94.5,243.8 L95.0,241.6 L95.5,239.5 L96.0,237.7 L96.5,236.0 L97.0,234.5 L97.5,233.2 L98.0,232.0 L98.5,231.0 L99.0,230.3 L99.5,229.6 L100.0,229.1 L100.5,228.7 L101.0,228.5 L101.5,228.3 L102.0,228.2 L102.5,228.2 L103.0,228.2 L103.5,228.4 L104.0,228.7 L104.5,229.0 L105.0,229.4 L105.5,229.9 L106.0,230.3 L106.5,230.8 L107.0,231.4 L107.5,231.9 L108.0,232.5 L108.5,233.1 L109.0,233.7 L109.5,234.3 L110.0,234.9 L110.5,235.6 L111.0,236.2 L111.5,236.9 L112.0,237.6 L112.5,238.3 L113.0,238.9 L113.5,239.6 L114.0,240.3 L114.5,241.0 L115.0,241.7 L115.5,242.4 L116.0,243.1 L116.5,243.8 L117.0,244.6 L117.5,245.3 L118.0,246.0 L118.5,246.7 L119.0,247.4 L119.5,248.1 L120.0,248.8 L120.5,249.5 L121.0,250.2 L121.5,250.9 L122.0,251.6 L122.5,252.3 L123.0,253.0 L123.5,253.6 L124.0,254.3 L124.5,255.0 L125.0,255.7 L125.5,256.3 L126.0,257.0 L126.5,257.6 L127.0,258.3 L127.5,258.9 L128.0,259.5 L128.5,260.2 L129.0,260.8 L129.5,261.4 L130.0,262.0 L130.5,262.6 L131.0,263.2 L131.5,263.8 L132.0,264.4 L132.5,265.0 L133.0,265.5 L133.5,266.1 L134.0,266.7 L134.5,267.2 L135.0,267.7 L135.5,268.3 L136.0,268.8 L136.5,269.3 L137.0,269.8 L137.5,270.3 L138.0,270.8 L138.5,271.3 L139.0,271.8 L139.5,272.3 L140.0,272.8 L140.5,273.2 L141.0,273.7 L141.5,274.1 L142.0,274.6 L142.5,275.0 L143.0,275.4 L143.5,275.9 L144.0,276.3 L144.5,276.7 L145.0,277.1 L145.5,277.5 L146.0,277.9 L146.5,278.2 L147.0,278.6 L147.5,279.0 L148.0,279.4 L148.5,279.7 L149.0,280.1 L149.5,280.4 L150.0,280.7 L150.5,281.1 L151.0,281.4 L151.5,281.7 L152.0,282.0 L152.5,282.3 L153.0,282.6 L153.5,282.9 L154.0,283.2 L154.5,283.5 L155.0,283.8 L155.5,284.1 L156.0,284.3 L156.5,284.6 L157.0,284.8 L157.5,285.1 L158.0,285.3 L158.5,285.6 L159.0,285.8 L159.5,286.0 L160.0,286.3 L160.5,286.5 L161.0,286.7 L161.5,286.9 L162.0,287.1 L162.5,287.3 L163.0,287.5 L163.5,287.7 L164.0,287.9 L164.5,288.1 L165.0,288.3 L165.5,288.5 L166.0,288.7 L166.5,288.8 L167.0,289.0 L167.5,289.2 L168.0,289.3 L168.5,289.5 L169.0,289.6 L169.5,289.8 L170.0,289.9 L170.5,290.1 L171.0,290.2 L171.5,290.4 L172.0,290.5 L172.5,290.6 L173.0,290.7 L173.5,290.9 L174.0,291.0 L174.5,291.1 L175.0,291.2 L175.5,291.3 L176.0,291.4 L176.5,291.6 L177.0,291.7 L177.5,291.8 L178.0,291.9 L178.5,292.0 L179.0,292.1 L179.5,292.2 L180.0,292.2 L180.5,292.3 L181.0,292.4 L181.5,292.5 L182.0,292.6 L182.5,292.7 L183.0,292.7 L183.5,292.8 L184.0,292.9 L184.5,293.0 L185.0,293.0 L185.5,293.1 L186.0,293.2 L186.5,293.2 L187.0,293.3 L187.5,293.4 L188.0,293.4 L188.5,293.5 L189.0,293.5 L189.5,293.6 L190.0,293.6 L190.5,293.7 L191.0,293.8 L191.5,293.8 L192.0,293.9 L192.5,293.9 L193.0,293.9 L193.5,294.0 L194.0,294.0 L194.5,294.1 L195.0,294.1 L195.5,294.2 L196.0,294.2 L196.5,294.2 L197.0,294.3 L197.5,294.3 L198.0,294.3 L198.5,294.4 L199.0,294.4 L199.5,294.4 L200.0,294.5 L200.5,294.5 L201.0,294.5 L201.5,294.6 L202.0,294.6 L202.5,294.6 L203.0,294.6 L203.5,294.7 L204.0,294.7 L204.5,294.7 L205.0,294.7 L205.5,294.8 L206.0,294.8 L206.5,294.8 L207.0,294.8 L207.5,294.9 L208.0,294.9 L208.5,294.9 L209.0,294.9 L209.5,294.9 L210.0,294.9 L210.5,295.0 L211.0,295.0 L211.5,295.0 L212.0,295.0 L212.5,295.0 L213.0,295.0 L213.5,295.1 L214.0,295.1 L214.5,295.1 L215.0,295.1 L215.5,295.1 L216.0,295.1 L216.5,295.1 L217.0,295.1 L217.5,295.2 L218.0,295.2 L218.5,295.2 L219.0,295.2 L219.5,295.2 L220.0,295.2 L220.5,295.2 L221.0,295.2 L221.5,295.2 L222.0,295.2 L222.5,295.3 L223.0,295.3 L223.5,295.3 L224.0,295.3 L224.5,295.3 L225.0,295.3 L225.5,295.3 L226.0,295.3 L226.5,295.3 L227.0,295.3 L227.5,295.3 L228.0,295.3 L228.5,295.3 L229.0,295.3 L229.5,295.3 L230.0,295.3 L230.5,295.4 L231.0,295.4 L231.5,295.4 L232.0,295.4 L232.5,295.4 L233.0,295.4 L233.5,295.4 L234.0,295.4 L234.5,295.4 L235.0,295.4 L235.5,295.4 L236.0,295.4" fill="none" stroke="#808080" stroke-width="1.1"/>
<path d="M41.0,295.5 L41.5,295.5 L42.0,295.5 L42.5,295.5 L43.0,295.5 L43.5,295.5 L44.0,295.5 L44.5,295.5 L45.0,295.5 L45.5,295.5 L46.0,295.5 L46.5,295.5 L47.0,295.5 L47.5,295.5 L48.0,295.5 L48.5,295.5 L49.0,295.5 L49.5,295.5 L50.0,295.5 L50.5,295.5 L51.0,295.5 L51.5,295.5 L52.0,295.5 L52.5,295.5 L53.0,295.5 L53.5,295.5 L54.0,295.5 L54.5,295.5 L55.0,295.5 L55.5,295.5 L56.0,295.5 L56.5,295.5 L57.0,295.5 L57.5,295.5 L58.0,295.5 L58.5,295.5 L59.0,295.5 L59.5,295.5 L60.0,295.5 L60.5,295.5 L61.0,295.5 L61.5,295.5 L62.0,295.5 L62.5,295.5 L63.0,295.5 L63.5,295.5 L64.0,295.5 L64.5,295.5 L65.0,295.5 L65.5,295.5 L66.0,295.5 L66.5,295.5 L67.0,295.5 L67.5,295.5 L68.0,295.5 L68.5,295.5 L69.0,295.5 L69.5,295.5 L70.0,295.5 L70.5,295.5 L71.0,295.5 L71.5,295.5 L72.0,295.5 L72.5,295.5 L73.0,295.5 L73.5,295.5 L74.0,295.5 L74.5,295.5 L75.0,295.5 L75.5,295.5 L76.0,295.5 L76.5,295.5 L77.0,295.5 L77.5,295.5 L78.0,295.5 L78.5,295.5 L79.0,295.5 L79.5,295.5 L80.0,295.5 L80.5,295.5 L81.0,295.5 L81.5,295.5 L82.0,295.5 L82.5,295.5 L83.0,295.5 L83.5,295.5 L84.0,295.5 L84.5,295.5 L85.0,295.5 L85.5,295.5 L86.0,295.5 L86.5,295.5 L87.0,295.5 L87.5,295.5 L88.0,295.5 L88.5,295.5 L89.0,295.5 L89.5,295.5 L90.0,295.5 L90.5,295.5 L91.0,295.5 L91.5,295.5 L92.0,295.5 L92.5,295.5 L93.0,295.5 L93.5,295.5 L94.0,295.5 L94.5,295.5 L95.0,295.5 L95.5,295.5 L96.0,295.5 L96.5,295.5 L97.0,295.5 L97.5,295.5 L98.0,295.5 L98.5,295.5 L99.0,295.5 L99.5,295.5 L100.0,295.5 L100.5,295.5 L101.0,295.5 L101.5,295.5 L102.0,295.5 L102.5,295.5 L103.0,295.5 L103.5,295.5 L104.0,295.5 L104.5,295.5 L105.0,295.5 L105.5,295.5 L106.0,295.5 L106.5,295.5 L107.0,295.5 L107.5,295.5 L108.0,295.5 L108.5,295.5 L109.0,295.5 L109.5,295.5 L110.0,295.5 L110.5,295.5 L111.0,295.5 L111.5,295.5 L112.0,295.5 L112.5,295.5 L113.0,295.5 L113.5,295.5 L114.0,295.5 L114.5,295.5 L115.0,295.5 L115.5,295.5 L116.0,295.5 L116.5,295.4 L117.0,295.4 L117.5,295.3 L118.0,295.2 L118.5,295.0 L119.0,294.8 L119.5,294.4 L120.0,293.8 L120.5,293.1 L121.0,292.1 L121.5,290.9 L122.0,289.3 L122.5,287.4 L123.0,285.2 L123.5,282.6 L124.0,279.7 L124.5,276.4 L125.0,272.9 L125.5,269.2 L126.0,265.4 L126.5,261.5 L127.0,257.6 L127.5,253.8 L128.0,250.2 L128.5,246.7 L129.0,243.6 L129.5,240.7 L130.0,238.2 L130.5,236.0 L131.0,234.1 L131.5,232.6 L132.0,231.3 L132.5,230.3 L133.0,229.6 L133.5,229.0 L134.0,228.7 L134.5,228.4 L135.0,228.3 L135.5,228.2 L136.0,228.2 L136.5,228.2 L137.0,228.3 L137.5,228.4 L138.0,228.7 L138.5,229.0 L139.0,229.3 L139.5,229.7 L140.0,230.2 L140.5,230.7 L141.0,231.2 L141.5,231.7 L142.0,232.3 L142.5,232.9 L143.0,233.5 L143.5,234.2 L144.0,234.9 L144.5,235.6 L145.0,236.3 L145.5,237.0 L146.0,237.7 L146.5,238.5 L147.0,239.3 L147.5,240.1 L148.0,240.8 L148.5,241.7 L149.0,242.5 L149.5,243.3 L150.0,244.1 L150.5,244.9 L151.0,245.8 L151.5,246.6 L152.0,247.4 L152.5,248.3 L153.0,249.1 L153.5,250.0 L154.0,250.8 L154.5,251.7 L155.0,252.5 L155.5,253.3 L156.0,254.2 L156.5,255.0 L157.0,255.8 L157.5,256.6 L158.0,257.4 L158.5,258.3 L159.0,259.1 L159.5,259.9 L160.0,260.6 L160.5,261.4 L161.0,262.2 L161.5,263.0 L162.0,263.7 L162.5,264.5 L163.0,265.2 L163.5,265.9 L164.0,266.6 L164.5,267.4 L165.0,268.1 L165.5,268.7 L166.0,269.4 L166.5,270.1 L167.0,270.7 L167.5,271.4 L168.0,272.0 L168.5,272.6 L169.0,273.3 L169.5,273.9 L170.0,274.5 L170.5,275.0 L171.0,275.6 L171.5,276.2 L172.0,276.7 L172.5,277.2 L173.0,277.8 L173.5,278.3 L174.0,278.8 L174.5,279.3 L175.0,279.8 L175.5,280.2 L176.0,280.7 L176.5,281.1 L177.0,281.6 L177.5,282.0 L178.0,282.4 L178.5,282.8 L179.0,283.2 L179.5,283.6 L180.0,284.0 L180.5,284.4 L181.0,284.7 L181.5,285.1 L182.0,285.4 L182.5,285.8 L183.0,286.1 L183.5,286.4 L184.0,286.7 L184.5,287.0 L185.0,287.3 L185.5,287.6 L186.0,287.9 L186.5,288.1 L187.0,288.4 L187.5,288.6 L188.0,288.9 L188.5,289.1 L189.0,289.3 L189.5,289.6 L190.0,289.8 L190.5,290.0 L191.0,290.2 L191.5,290.4 L192.0,290.6 L192.5,290.7 L193.0,290.9 L193.5,291.1 L194.0,291.3 L194.5,291.4 L195.0,291.6 L195.5,291.7 L196.0,291.9 L196.5,292.0 L197.0,292.1 L197.5,292.3 L198.0,292.4 L198.5,292.5 L199.0,292.6 L199.5,292.8 L200.0,292.9 L200.5,293.0 L201.0,293.1 L201.5,293.2 L202.0,293.3 L202.5,293.4 L203.0,293.4 L203.5,293.5 L204.0,293.6 L204.5,293.7 L205.0,293.8 L205.5,293.8 L206.0,293.9 L206.5,294.0 L207.0,294.0 L207.5,294.1 L208.0,294.2 L208.5,294.2 L209.0,294.3 L209.5,294.3 L210.0,294.4 L210.5,294.4 L211.0,294.5 L211.5,294.5 L212.0,294.6 L212.5,294.6 L213.0,294.6 L213.5,294.7 L214.0,294.7 L214.5,294.8 L215.0,294.8 L215.5,294.8 L216.0,294.9 L216.5,294.9 L217.0,294.9 L217.5,294.9 L218.0,295.0 L218.5,295.0 L219.0,295.0 L219.5,295.0 L220.0,295.1 L220.5,295.1 L221.0,295.1 L221.5,295.1 L222.0,295.1 L222.5,295.2 L223.0,295.2 L223.5,295.2 L224.0,295.2 L224.5,295.2 L225.0,295.2 L225.5,295.2 L226.0,295.3 L226.5,295.3 L227.0,295.3 L227.5,295.3 L228.0,295.3 L228.5,295.3 L229.0,295.3 L229.5,295.3 L230.0,295.3 L230.5,295.3 L231.0,295.4 L231.5,295.4 L232.0,295.4 L232.5,295.4 L233.0,295.4 L233.5,295.4 L234.0,295.4 L234.5,295.4 L235.0,295.4 L235.5,295.4 L236.0,295.4" fill="none" stroke="#f07a2e" stroke-width="1.1"/>
<path d="M41.0,295.5 L41.5,295.5 L42.0,295.5 L42.5,295.5 L43.0,295.5 L43.5,295.5 L44.0,295.5 L44.5,295.5 L45.0,295.5 L45.5,295.5 L46.0,295.5 L46.5,295.5 L47.0,295.5 L47.5,295.5 L48.0,295.5 L48.5,295.5 L49.0,295.5 L49.5,295.5 L50.0,295.5 L50.5,295.5 L51.0,295.5 L51.5,295.5 L52.0,295.5 L52.5,295.5 L53.0,295.5 L53.5,295.5 L54.0,295.5 L54.5,295.5 L55.0,295.5 L55.5,295.5 L56.0,295.5 L56.5,295.5 L57.0,295.5 L57.5,295.5 L58.0,295.5 L58.5,295.5 L59.0,295.5 L59.5,295.5 L60.0,295.5 L60.5,295.5 L61.0,295.5 L61.5,295.5 L62.0,295.5 L62.5,295.5 L63.0,295.5 L63.5,295.5 L64.0,295.5 L64.5,295.5 L65.0,295.5 L65.5,295.5 L66.0,295.5 L66.5,295.5 L67.0,295.5 L67.5,295.5 L68.0,295.5 L68.5,295.5 L69.0,295.5 L69.5,295.5 L70.0,295.5 L70.5,295.5 L71.0,295.5 L71.5,295.5 L72.0,295.5 L72.5,295.5 L73.0,295.5 L73.5,295.5 L74.0,295.5 L74.5,295.5 L75.0,295.5 L75.5,295.5 L76.0,295.5 L76.5,295.5 L77.0,295.5 L77.5,295.5 L78.0,295.5 L78.5,295.5 L79.0,295.5 L79.5,295.5 L80.0,295.5 L80.5,295.5 L81.0,295.5 L81.5,295.5 L82.0,295.5 L82.5,295.5 L83.0,295.5 L83.5,295.5 L84.0,295.5 L84.5,295.5 L85.0,295.5 L85.5,295.5 L86.0,295.5 L86.5,295.5 L87.0,295.5 L87.5,295.5 L88.0,295.5 L88.5,295.5 L89.0,295.5 L89.5,295.5 L90.0,295.5 L90.5,295.5 L91.0,295.5 L91.5,295.5 L92.0,295.5 L92.5,295.5 L93.0,295.5 L93.5,295.5 L94.0,295.5 L94.5,295.5 L95.0,295.5 L95.5,295.5 L96.0,295.5 L96.5,295.5 L97.0,295.5 L97.5,295.5 L98.0,295.5 L98.5,295.5 L99.0,295.5 L99.5,295.5 L100.0,295.5 L100.5,295.5 L101.0,295.5 L101.5,295.5 L102.0,295.5 L102.5,295.5 L103.0,295.5 L103.5,295.5 L104.0,295.5 L104.5,295.5 L105.0,295.5 L105.5,295.5 L106.0,295.5 L106.5,295.5 L107.0,295.5 L107.5,295.5 L108.0,295.5 L108.5,295.5 L109.0,295.5 L109.5,295.5 L110.0,295.5 L110.5,295.5 L111.0,295.5 L111.5,295.5 L112.0,295.5 L112.5,295.5 L113.0,295.5 L113.5,295.5 L114.0,295.5 L114.5,295.5 L115.0,295.5 L115.5,295.4 L116.0,295.4 L116.5,295.4 L117.0,295.4 L117.5,295.3 L118.0,295.2 L118.5,295.2 L119.0,295.1 L119.5,294.9 L120.0,294.8 L120.5,294.6 L121.0,294.3 L121.5,294.0 L122.0,293.6 L122.5,293.2 L123.0,292.7 L123.5,292.0 L124.0,291.3 L124.5,290.5 L125.0,289.6 L125.5,288.5 L126.0,287.3 L126.5,286.0 L127.0,284.5 L127.5,282.9 L128.0,281.2 L128.5,279.3 L129.0,277.4 L129.5,275.3 L130.0,273.0 L130.5,270.7 L131.0,268.4 L131.5,265.9 L132.0,263.4 L132.5,260.9 L133.0,258.4 L133.5,255.9 L134.0,253.4 L134.5,251.0 L135.0,248.7 L135.5,246.4 L136.0,244.3 L136.5,242.3 L137.0,240.4 L137.5,238.6 L138.0,237.0 L138.5,235.5 L139.0,234.2 L139.5,233.0 L140.0,232.0 L140.5,231.1 L141.0,230.4 L141.5,229.8 L142.0,229.3 L142.5,228.9 L143.0,228.6 L143.5,228.4 L144.0,228.3 L144.5,228.2 L145.0,228.2 L145.5,228.2 L146.0,228.3 L146.5,228.6 L147.0,228.9 L147.5,229.3 L148.0,229.8 L148.5,230.3 L149.0,230.9 L149.5,231.5 L150.0,232.2 L150.5,232.9 L151.0,233.7 L151.5,234.5 L152.0,235.3 L152.5,236.1 L153.0,237.0 L153.5,237.9 L154.0,238.9 L154.5,239.8 L155.0,240.8 L155.5,241.7 L156.0,242.7 L156.5,243.7 L157.0,244.7 L157.5,245.8 L158.0,246.8 L158.5,247.8 L159.0,248.8 L159.5,249.9 L160.0,250.9 L160.5,251.9 L161.0,253.0 L161.5,254.0 L162.0,255.0 L162.5,256.0 L163.0,257.0 L163.5,258.0 L164.0,259.0 L164.5,260.0 L165.0,261.0 L165.5,261.9 L166.0,262.9 L166.5,263.8 L167.0,264.7 L167.5,265.6 L168.0,266.5 L168.5,267.4 L169.0,268.2 L169.5,269.1 L170.0,269.9 L170.5,270.7 L171.0,271.5 L171.5,272.3 L172.0,273.1 L172.5,273.8 L173.0,274.6 L173.5,275.3 L174.0,276.0 L174.5,276.7 L175.0,277.3 L175.5,278.0 L176.0,278.6 L176.5,279.2 L177.0,279.8 L177.5,280.4 L178.0,281.0 L178.5,281.5 L179.0,282.1 L179.5,282.6 L180.0,283.1 L180.5,283.6 L181.0,284.0 L181.5,284.5 L182.0,285.0 L182.5,285.4 L183.0,285.8 L183.5,286.2 L184.0,286.6 L184.5,287.0 L185.0,287.3 L185.5,287.7 L186.0,288.0 L186.5,288.3 L187.0,288.6 L187.5,288.9 L188.0,289.2 L188.5,289.5 L189.0,289.8 L189.5,290.0 L190.0,290.3 L190.5,290.5 L191.0,290.8 L191.5,291.0 L192.0,291.2 L192.5,291.4 L193.0,291.6 L193.5,291.8 L194.0,292.0 L194.5,292.1 L195.0,292.3 L195.5,292.5 L196.0,292.6 L196.5,292.7 L197.0,292.9 L197.5,293.0 L198.0,293.1 L198.5,293.3 L199.0,293.4 L199.5,293.5 L200.0,293.6 L200.5,293.7 L201.0,293.8 L201.5,293.9 L202.0,294.0 L202.5,294.0 L203.0,294.1 L203.5,294.2 L204.0,294.3 L204.5,294.3 L205.0,294.4 L205.5,294.5 L206.0,294.5 L206.5,294.6 L207.0,294.6 L207.5,294.7 L208.0,294.7 L208.5,294.8 L209.0,294.8 L209.5,294.8 L210.0,294.9 L210.5,294.9 L211.0,294.9 L211.5,295.0 L212.0,295.0 L212.5,295.0 L213.0,295.1 L213.5,295.1 L214.0,295.1 L214.5,295.1 L215.0,295.2 L215.5,295.2 L216.0,295.2 L216.5,295.2 L217.0,295.2 L217.5,295.3 L218.0,295.3 L218.5,295.3 L219.0,295.3 L219.5,295.3 L220.0,295.3 L220.5,295.3 L221.0,295.3 L221.5,295.4 L222.0,295.4 L222.5,295.4 L223.0,295.4 L223.5,295.4 L224.0,295.4 L224.5,295.4 L225.0,295.4 L225.5,295.4 L226.0,295.4 L226.5,295.4 L227.0,295.4 L227.5,295.4 L228.0,295.4 L228.5,295.4 L229.0,295.4 L229.5,295.5 L230.0,295.5 L230.5,295.5 L231.0,295.5 L231.5,295.5 L232.0,295.5 L232.5,295.5 L233.0,295.5 L233.5,295.5 L234.0,295.5 L234.5,295.5 L235.0,295.5 L235.5,295.5 L236.0,295.5" fill="none" stroke="#808080" stroke-width="1.1" stroke-dasharray="2.2,1.6"/>
<path d="M41.0,295.5 L41.5,295.5 L42.0,295.5 L42.5,295.5 L43.0,295.5 L43.5,295.5 L44.0,295.5 L44.5,295.5 L45.0,295.5 L45.5,295.5 L46.0,295.5 L46.5,295.5 L47.0,295.5 L47.5,295.5 L48.0,295.5 L48.5,295.5 L49.0,295.5 L49.5,295.5 L50.0,295.5 L50.5,295.5 L51.0,295.5 L51.5,295.5 L52.0,295.5 L52.5,295.5 L53.0,295.5 L53.5,295.5 L54.0,295.5 L54.5,295.5 L55.0,295.5 L55.5,295.5 L56.0,295.5 L56.5,295.5 L57.0,295.5 L57.5,295.5 L58.0,295.5 L58.5,295.5 L59.0,295.5 L59.5,295.5 L60.0,295.5 L60.5,295.5 L61.0,295.5 L61.5,295.5 L62.0,295.5 L62.5,295.5 L63.0,295.5 L63.5,295.5 L64.0,295.5 L64.5,295.5 L65.0,295.5 L65.5,295.5 L66.0,295.5 L66.5,295.5 L67.0,295.5 L67.5,295.5 L68.0,295.5 L68.5,295.5 L69.0,295.5 L69.5,295.5 L70.0,295.5 L70.5,295.5 L71.0,295.5 L71.5,295.5 L72.0,295.5 L72.5,295.5 L73.0,295.5 L73.5,295.5 L74.0,295.5 L74.5,295.5 L75.0,295.5 L75.5,295.5 L76.0,295.5 L76.5,295.5 L77.0,295.5 L77.5,295.5 L78.0,295.5 L78.5,295.5 L79.0,295.5 L79.5,295.5 L80.0,295.5 L80.5,295.5 L81.0,295.5 L81.5,295.5 L82.0,295.5 L82.5,295.5 L83.0,295.5 L83.5,295.5 L84.0,295.5 L84.5,295.5 L85.0,295.5 L85.5,295.5 L86.0,295.5 L86.5,295.5 L87.0,295.5 L87.5,295.5 L88.0,295.5 L88.5,295.5 L89.0,295.5 L89.5,295.5 L90.0,295.5 L90.5,295.5 L91.0,295.5 L91.5,295.5 L92.0,295.5 L92.5,295.5 L93.0,295.5 L93.5,295.5 L94.0,295.5 L94.5,295.5 L95.0,295.5 L95.5,295.5 L96.0,295.5 L96.5,295.5 L97.0,295.5 L97.5,295.5 L98.0,295.5 L98.5,295.5 L99.0,295.5 L99.5,295.5 L100.0,295.5 L100.5,295.5 L101.0,295.5 L101.5,295.5 L102.0,295.5 L102.5,295.5 L103.0,295.5 L103.5,295.5 L104.0,295.5 L104.5,295.5 L105.0,295.5 L105.5,295.5 L106.0,295.5 L106.5,295.5 L107.0,295.5 L107.5,295.5 L108.0,295.5 L108.5,295.5 L109.0,295.5 L109.5,295.5 L110.0,295.5 L110.5,295.5 L111.0,295.5 L111.5,295.5 L112.0,295.5 L112.5,295.5 L113.0,295.5 L113.5,295.5 L114.0,295.5 L114.5,295.5 L115.0,295.5 L115.5,295.5 L116.0,295.5 L116.5,295.5 L117.0,295.5 L117.5,295.5 L118.0,295.5 L118.5,295.5 L119.0,295.5 L119.5,295.5 L120.0,295.5 L120.5,295.5 L121.0,295.5 L121.5,295.5 L122.0,295.5 L122.5,295.5 L123.0,295.5 L123.5,295.5 L124.0,295.5 L124.5,295.5 L125.0,295.5 L125.5,295.5 L126.0,295.5 L126.5,295.5 L127.0,295.5 L127.5,295.5 L128.0,295.5 L128.5,295.5 L129.0,295.5 L129.5,295.5 L130.0,295.5 L130.5,295.5 L131.0,295.5 L131.5,295.5 L132.0,295.5 L132.5,295.5 L133.0,295.4 L133.5,295.4 L134.0,295.4 L134.5,295.3 L135.0,295.3 L135.5,295.2 L136.0,295.1 L136.5,294.9 L137.0,294.7 L137.5,294.5 L138.0,294.2 L138.5,293.9 L139.0,293.4 L139.5,292.9 L140.0,292.3 L140.5,291.6 L141.0,290.8 L141.5,289.8 L142.0,288.7 L142.5,287.5 L143.0,286.1 L143.5,284.5 L144.0,282.8 L144.5,281.0 L145.0,279.0 L145.5,276.8 L146.0,274.6 L146.5,272.2 L147.0,269.7 L147.5,267.2 L148.0,264.6 L148.5,262.0 L149.0,259.3 L149.5,256.7 L150.0,254.1 L150.5,251.5 L151.0,249.1 L151.5,246.7 L152.0,244.4 L152.5,242.3 L153.0,240.3 L153.5,238.5 L154.0,236.8 L154.5,235.3 L155.0,233.9 L155.5,232.8 L156.0,231.7 L156.5,230.9 L157.0,230.2 L157.5,229.6 L158.0,229.1 L158.5,228.8 L159.0,228.5 L159.5,228.4 L160.0,228.3 L160.5,228.2 L161.0,228.2 L161.5,228.2 L162.0,228.4 L162.5,228.7 L163.0,229.1 L163.5,229.5 L164.0,230.1 L164.5,230.7 L165.0,231.4 L165.5,232.1 L166.0,232.9 L166.5,233.8 L167.0,234.6 L167.5,235.6 L168.0,236.6 L168.5,237.6 L169.0,238.6 L169.5,239.7 L170.0,240.8 L170.5,241.9 L171.0,243.0 L171.5,244.2 L172.0,245.3 L172.5,246.5 L173.0,247.7 L173.5,248.9 L174.0,250.1 L174.5,251.3 L175.0,252.5 L175.5,253.7 L176.0,254.8 L176.5,256.0 L177.0,257.2 L177.5,258.4 L178.0,259.5 L178.5,260.6 L179.0,261.8 L179.5,262.9 L180.0,264.0 L180.5,265.1 L181.0,266.1 L181.5,267.2 L182.0,268.2 L182.5,269.2 L183.0,270.2 L183.5,271.1 L184.0,272.1 L184.5,273.0 L185.0,273.9 L185.5,274.7 L186.0,275.6 L186.5,276.4 L187.0,277.2 L187.5,278.0 L188.0,278.7 L188.5,279.5 L189.0,280.2 L189.5,280.9 L190.0,281.5 L190.5,282.2 L191.0,282.8 L191.5,283.4 L192.0,283.9 L192.5,284.5 L193.0,285.0 L193.5,285.5 L194.0,286.0 L194.5,286.5 L195.0,287.0 L195.5,287.4 L196.0,287.8 L196.5,288.2 L197.0,288.6 L197.5,289.0 L198.0,289.3 L198.5,289.6 L199.0,290.0 L199.5,290.3 L200.0,290.6 L200.5,290.8 L201.0,291.1 L201.5,291.4 L202.0,291.6 L202.5,291.8 L203.0,292.0 L203.5,292.2 L204.0,292.4 L204.5,292.6 L205.0,292.8 L205.5,293.0 L206.0,293.1 L206.5,293.3 L207.0,293.4 L207.5,293.5 L208.0,293.7 L208.5,293.8 L209.0,293.9 L209.5,294.0 L210.0,294.1 L210.5,294.2 L211.0,294.3 L211.5,294.3 L212.0,294.4 L212.5,294.5 L213.0,294.6 L213.5,294.6 L214.0,294.7 L214.5,294.7 L215.0,294.8 L215.5,294.8 L216.0,294.9 L216.5,294.9 L217.0,295.0 L217.5,295.0 L218.0,295.0 L218.5,295.1 L219.0,295.1 L219.5,295.1 L220.0,295.2 L220.5,295.2 L221.0,295.2 L221.5,295.2 L222.0,295.3 L222.5,295.3 L223.0,295.3 L223.5,295.3 L224.0,295.3 L224.5,295.3 L225.0,295.3 L225.5,295.4 L226.0,295.4 L226.5,295.4 L227.0,295.4 L227.5,295.4 L228.0,295.4 L228.5,295.4 L229.0,295.4 L229.5,295.4 L230.0,295.4 L230.5,295.4 L231.0,295.4 L231.5,295.4 L232.0,295.5 L232.5,295.5 L233.0,295.5 L233.5,295.5 L234.0,295.5 L234.5,295.5 L235.0,295.5 L235.5,295.5 L236.0,295.5" fill="none" stroke="#f07a2e" stroke-width="1.1" stroke-dasharray="2.2,1.6"/>
<path d="M87.7,237.0 C89.0,236.9 92.3,236.2 95.3,236.7 C98.3,237.2 102.1,238.8 105.5,240.0 C108.9,241.2 114.0,243.5 115.7,244.2" fill="none" stroke="#707070" stroke-width="2.0"/>
<path d="M122.5,254.3 C124.5,253.7 130.4,251.3 134.3,250.9 C138.2,250.5 142.6,251.5 146.2,252.0 C149.8,252.5 154.2,253.4 155.8,253.7" fill="none" stroke="#f07a2e" stroke-width="2.0"/>
<path d="M132.8,253.3 L172.2,254.8" fill="none" stroke="#707070" stroke-width="2.0" stroke-dasharray="5,2.5"/>
<path d="M141.5,258.8 L183.9,261" fill="none" stroke="#f07a2e" stroke-width="2.0" stroke-dasharray="5,2.5"/>
<path d="M307.1,201.5 V298.4 H508.2 V201.5" fill="none" stroke="#6e6e6e" stroke-width="1.4"/>
<text x="303.5" y="204.4" text-anchor="end" font-size="6.8" fill="#1a1a1a" font-family="Liberation Sans, sans-serif">250</text>
<text x="303.5" y="224.0" text-anchor="end" font-size="6.8" fill="#1a1a1a" font-family="Liberation Sans, sans-serif">200</text>
<text x="303.5" y="243.1" text-anchor="end" font-size="6.8" fill="#1a1a1a" font-family="Liberation Sans, sans-serif">150</text>
<text x="303.5" y="263.0" text-anchor="end" font-size="6.8" fill="#1a1a1a" font-family="Liberation Sans, sans-serif">100</text>
<text x="303.5" y="282.1" text-anchor="end" font-size="6.8" fill="#1a1a1a" font-family="Liberation Sans, sans-serif">50</text>
<text x="303.5" y="300.8" text-anchor="end" font-size="6.8" fill="#1a1a1a" font-family="Liberation Sans, sans-serif">0</text>
<text x="310.7" y="307.3" text-anchor="middle" font-size="6.8" fill="#1a1a1a" font-family="Liberation Sans, sans-serif">11.5</text>
<text x="369.3" y="307.3" text-anchor="middle" font-size="6.8" fill="#1a1a1a" font-family="Liberation Sans, sans-serif">12.5</text>
<text x="431.2" y="307.3" text-anchor="middle" font-size="6.8" fill="#1a1a1a" font-family="Liberation Sans, sans-serif">13.5</text>
<text x="491.4" y="307.3" text-anchor="middle" font-size="6.8" fill="#1a1a1a" font-family="Liberation Sans, sans-serif">14.5</text>
<text x="413.4" y="319.5" text-anchor="middle" font-size="8.5" fill="#111" font-family="Liberation Sans, sans-serif">V (mL)</text>
<text transform="translate(289.2,242.6) rotate(-90)" text-anchor="middle" font-size="8.6" fill="#111" font-family="Liberation Sans, sans-serif">A280 (mAU)</text>
<text x="522.8" y="204.4" font-size="6.9" textLength="10.2" lengthAdjust="spacingAndGlyphs" fill="#1a1a1a" font-family="Liberation Sans, sans-serif">10<tspan dy='-2.8' font-size='3.8'>5</tspan></text>
<text x="514.2" y="214.4" font-size="6.9" textLength="18.8" lengthAdjust="spacingAndGlyphs" fill="#1a1a1a" font-family="Liberation Sans, sans-serif">9x10<tspan dy='-2.8' font-size='3.8'>4</tspan></text>
<text x="514.2" y="223.5" font-size="6.9" textLength="18.8" lengthAdjust="spacingAndGlyphs" fill="#1a1a1a" font-family="Liberation Sans, sans-serif">8x10<tspan dy='-2.8' font-size='3.8'>4</tspan></text>
<text x="514.2" y="233.5" font-size="6.9" textLength="18.8" lengthAdjust="spacingAndGlyphs" fill="#1a1a1a" font-family="Liberation Sans, sans-serif">7x10<tspan dy='-2.8' font-size='3.8'>4</tspan></text>
<text x="514.2" y="243.1" font-size="6.9" textLength="18.8" lengthAdjust="spacingAndGlyphs" fill="#1a1a1a" font-family="Liberation Sans, sans-serif">6x10<tspan dy='-2.8' font-size='3.8'>4</tspan></text>
<text x="514.2" y="252.9" font-size="6.9" textLength="18.8" lengthAdjust="spacingAndGlyphs" fill="#1a1a1a" font-family="Liberation Sans, sans-serif">5x10<tspan dy='-2.8' font-size='3.8'>4</tspan></text>
<text x="514.2" y="263.0" font-size="6.9" textLength="18.8" lengthAdjust="spacingAndGlyphs" fill="#1a1a1a" font-family="Liberation Sans, sans-serif">4x10<tspan dy='-2.8' font-size='3.8'>4</tspan></text>
<text x="514.2" y="272.5" font-size="6.9" textLength="18.8" lengthAdjust="spacingAndGlyphs" fill="#1a1a1a" font-family="Liberation Sans, sans-serif">3x10<tspan dy='-2.8' font-size='3.8'>4</tspan></text>
<text x="514.2" y="282.1" font-size="6.9" textLength="18.8" lengthAdjust="spacingAndGlyphs" fill="#1a1a1a" font-family="Liberation Sans, sans-serif">2x10<tspan dy='-2.8' font-size='3.8'>4</tspan></text>
<text x="522.8" y="291.0" font-size="6.9" textLength="10.2" lengthAdjust="spacingAndGlyphs" fill="#1a1a1a" font-family="Liberation Sans, sans-serif">10<tspan dy='-2.8' font-size='3.8'>4</tspan></text>
<text transform="translate(537.9,246.5) rotate(90)" text-anchor="middle" font-size="9.9" fill="#111" font-family="Liberation Sans, sans-serif">Molecular mass</text>
<path d="M307,297.9 H506" stroke="#f7b500" stroke-width="1.1" opacity="0.8"/>
<path d="M307.0,297.9 L307.5,297.9 L308.0,297.9 L308.5,297.9 L309.0,297.9 L309.5,297.9 L310.0,297.9 L310.5,297.9 L311.0,297.9 L311.5,297.9 L312.0,297.9 L312.5,297.9 L313.0,297.9 L313.5,297.9 L314.0,297.9 L314.5,297.9 L315.0,297.9 L315.5,297.9 L316.0,297.9 L316.5,297.9 L317.0,297.9 L317.5,297.9 L318.0,297.9 L318.5,297.9 L319.0,297.9 L319.5,297.9 L320.0,297.9 L320.5,297.9 L321.0,297.9 L321.5,297.9 L322.0,297.9 L322.5,297.9 L323.0,297.9 L323.5,297.9 L324.0,297.9 L324.5,297.9 L325.0,297.9 L325.5,297.9 L326.0,297.9 L326.5,297.9 L327.0,297.9 L327.5,297.9 L328.0,297.9 L328.5,297.9 L329.0,297.9 L329.5,297.9 L330.0,297.9 L330.5,297.9 L331.0,297.9 L331.5,297.9 L332.0,297.9 L332.5,297.9 L333.0,297.9 L333.5,297.9 L334.0,297.9 L334.5,297.9 L335.0,297.9 L335.5,297.9 L336.0,297.9 L336.5,297.9 L337.0,297.9 L337.5,297.9 L338.0,297.9 L338.5,297.8 L339.0,297.8 L339.5,297.8 L340.0,297.7 L340.5,297.7 L341.0,297.6 L341.5,297.5 L342.0,297.4 L342.5,297.3 L343.0,297.1 L343.5,296.9 L344.0,296.6 L344.5,296.3 L345.0,295.9 L345.5,295.5 L346.0,294.9 L346.5,294.3 L347.0,293.6 L347.5,292.8 L348.0,291.8 L348.5,290.8 L349.0,289.6 L349.5,288.3 L350.0,286.8 L350.5,285.2 L351.0,283.5 L351.5,281.6 L352.0,279.6 L352.5,277.4 L353.0,275.2 L353.5,272.8 L354.0,270.3 L354.5,267.7 L355.0,265.1 L355.5,262.4 L356.0,259.7 L356.5,257.0 L357.0,254.3 L357.5,251.6 L358.0,248.9 L358.5,246.3 L359.0,243.8 L359.5,241.4 L360.0,239.1 L360.5,236.9 L361.0,234.9 L361.5,233.0 L362.0,231.2 L362.5,229.6 L363.0,228.2 L363.5,226.9 L364.0,225.8 L364.5,224.8 L365.0,224.0 L365.5,223.3 L366.0,222.8 L366.5,222.3 L367.0,222.0 L367.5,221.8 L368.0,221.6 L368.5,221.5 L369.0,221.5 L369.5,221.5 L370.0,221.6 L370.5,221.8 L371.0,222.1 L371.5,222.4 L372.0,222.8 L372.5,223.2 L373.0,223.6 L373.5,224.1 L374.0,224.5 L374.5,225.1 L375.0,225.6 L375.5,226.1 L376.0,226.7 L376.5,227.2 L377.0,227.8 L377.5,228.4 L378.0,229.0 L378.5,229.7 L379.0,230.3 L379.5,230.9 L380.0,231.6 L380.5,232.3 L381.0,232.9 L381.5,233.6 L382.0,234.3 L382.5,235.0 L383.0,235.6 L383.5,236.3 L384.0,237.0 L384.5,237.7 L385.0,238.4 L385.5,239.1 L386.0,239.8 L386.5,240.5 L387.0,241.3 L387.5,242.0 L388.0,242.7 L388.5,243.4 L389.0,244.1 L389.5,244.8 L390.0,245.5 L390.5,246.2 L391.0,246.9 L391.5,247.6 L392.0,248.3 L392.5,249.0 L393.0,249.7 L393.5,250.3 L394.0,251.0 L394.5,251.7 L395.0,252.4 L395.5,253.0 L396.0,253.7 L396.5,254.4 L397.0,255.0 L397.5,255.7 L398.0,256.3 L398.5,257.0 L399.0,257.6 L399.5,258.2 L400.0,258.9 L400.5,259.5 L401.0,260.1 L401.5,260.7 L402.0,261.3 L402.5,261.9 L403.0,262.5 L403.5,263.1 L404.0,263.7 L404.5,264.3 L405.0,264.8 L405.5,265.4 L406.0,266.0 L406.5,266.5 L407.0,267.1 L407.5,267.6 L408.0,268.1 L408.5,268.7 L409.0,269.2 L409.5,269.7 L410.0,270.2 L410.5,270.7 L411.0,271.2 L411.5,271.7 L412.0,272.2 L412.5,272.6 L413.0,273.1 L413.5,273.6 L414.0,274.0 L414.5,274.5 L415.0,274.9 L415.5,275.4 L416.0,275.8 L416.5,276.2 L417.0,276.6 L417.5,277.1 L418.0,277.5 L418.5,277.9 L419.0,278.3 L419.5,278.6 L420.0,279.0 L420.5,279.4 L421.0,279.8 L421.5,280.1 L422.0,280.5 L422.5,280.8 L423.0,281.2 L423.5,281.5 L424.0,281.9 L424.5,282.2 L425.0,282.5 L425.5,282.9 L426.0,283.2 L426.5,283.5 L427.0,283.8 L427.5,284.1 L428.0,284.4 L428.5,284.7 L429.0,284.9 L429.5,285.2 L430.0,285.5 L430.5,285.8 L431.0,286.0 L431.5,286.3 L432.0,286.5 L432.5,286.8 L433.0,287.0 L433.5,287.3 L434.0,287.5 L434.5,287.7 L435.0,288.0 L435.5,288.2 L436.0,288.4 L436.5,288.6 L437.0,288.8 L437.5,289.0 L438.0,289.2 L438.5,289.4 L439.0,289.6 L439.5,289.8 L440.0,290.0 L440.5,290.2 L441.0,290.4 L441.5,290.5 L442.0,290.7 L442.5,290.9 L443.0,291.0 L443.5,291.2 L444.0,291.4 L444.5,291.5 L445.0,291.7 L445.5,291.8 L446.0,292.0 L446.5,292.1 L447.0,292.2 L447.5,292.4 L448.0,292.5 L448.5,292.7 L449.0,292.8 L449.5,292.9 L450.0,293.0 L450.5,293.1 L451.0,293.3 L451.5,293.4 L452.0,293.5 L452.5,293.6 L453.0,293.7 L453.5,293.8 L454.0,293.9 L454.5,294.0 L455.0,294.1 L455.5,294.2 L456.0,294.3 L456.5,294.4 L457.0,294.5 L457.5,294.6 L458.0,294.7 L458.5,294.7 L459.0,294.8 L459.5,294.9 L460.0,295.0 L460.5,295.0 L461.0,295.1 L461.5,295.2 L462.0,295.3 L462.5,295.3 L463.0,295.4 L463.5,295.5 L464.0,295.5 L464.5,295.6 L465.0,295.7 L465.5,295.7 L466.0,295.8 L466.5,295.8 L467.0,295.9 L467.5,295.9 L468.0,296.0 L468.5,296.0 L469.0,296.1 L469.5,296.1 L470.0,296.2 L470.5,296.2 L471.0,296.3 L471.5,296.3 L472.0,296.4 L472.5,296.4 L473.0,296.4 L473.5,296.5 L474.0,296.5 L474.5,296.6 L475.0,296.6 L475.5,296.6 L476.0,296.7 L476.5,296.7 L477.0,296.7 L477.5,296.8 L478.0,296.8 L478.5,296.8 L479.0,296.9 L479.5,296.9 L480.0,296.9 L480.5,296.9 L481.0,297.0 L481.5,297.0 L482.0,297.0 L482.5,297.1 L483.0,297.1 L483.5,297.1 L484.0,297.1 L484.5,297.1 L485.0,297.2 L485.5,297.2 L486.0,297.2 L486.5,297.2 L487.0,297.2 L487.5,297.3 L488.0,297.3 L488.5,297.3 L489.0,297.3 L489.5,297.3 L490.0,297.4 L490.5,297.4 L491.0,297.4 L491.5,297.4 L492.0,297.4 L492.5,297.4 L493.0,297.4 L493.5,297.5 L494.0,297.5 L494.5,297.5 L495.0,297.5 L495.5,297.5 L496.0,297.5 L496.5,297.5 L497.0,297.5 L497.5,297.6 L498.0,297.6 L498.5,297.6 L499.0,297.6 L499.5,297.6 L500.0,297.6 L500.5,297.6 L501.0,297.6 L501.5,297.6 L502.0,297.6 L502.5,297.6 L503.0,297.7 L503.5,297.7 L504.0,297.7 L504.5,297.7 L505.0,297.7 L505.5,297.7 L506.0,297.7 L506.5,297.7 L507.0,297.7" fill="none" stroke="#808080" stroke-width="1.1"/>
<path d="M307.0,297.9 L307.5,297.9 L308.0,297.9 L308.5,297.9 L309.0,297.9 L309.5,297.9 L310.0,297.9 L310.5,297.9 L311.0,297.9 L311.5,297.9 L312.0,297.9 L312.5,297.9 L313.0,297.9 L313.5,297.9 L314.0,297.9 L314.5,297.9 L315.0,297.9 L315.5,297.9 L316.0,297.9 L316.5,297.9 L317.0,297.9 L317.5,297.9 L318.0,297.9 L318.5,297.9 L319.0,297.9 L319.5,297.9 L320.0,297.9 L320.5,297.9 L321.0,297.9 L321.5,297.9 L322.0,297.9 L322.5,297.9 L323.0,297.9 L323.5,297.9 L324.0,297.9 L324.5,297.9 L325.0,297.9 L325.5,297.9 L326.0,297.9 L326.5,297.9 L327.0,297.9 L327.5,297.9 L328.0,297.9 L328.5,297.9 L329.0,297.9 L329.5,297.9 L330.0,297.9 L330.5,297.9 L331.0,297.9 L331.5,297.9 L332.0,297.9 L332.5,297.9 L333.0,297.9 L333.5,297.9 L334.0,297.9 L334.5,297.9 L335.0,297.9 L335.5,297.9 L336.0,297.9 L336.5,297.9 L337.0,297.9 L337.5,297.9 L338.0,297.9 L338.5,297.9 L339.0,297.9 L339.5,297.9 L340.0,297.9 L340.5,297.9 L341.0,297.9 L341.5,297.9 L342.0,297.9 L342.5,297.9 L343.0,297.9 L343.5,297.9 L344.0,297.9 L344.5,297.9 L345.0,297.9 L345.5,297.9 L346.0,297.9 L346.5,297.9 L347.0,297.9 L347.5,297.9 L348.0,297.9 L348.5,297.9 L349.0,297.9 L349.5,297.9 L350.0,297.9 L350.5,297.9 L351.0,297.9 L351.5,297.8 L352.0,297.8 L352.5,297.8 L353.0,297.7 L353.5,297.7 L354.0,297.6 L354.5,297.4 L355.0,297.2 L355.5,297.0 L356.0,296.7 L356.5,296.3 L357.0,295.8 L357.5,295.2 L358.0,294.5 L358.5,293.6 L359.0,292.5 L359.5,291.3 L360.0,289.9 L360.5,288.2 L361.0,286.4 L361.5,284.3 L362.0,282.1 L362.5,279.6 L363.0,276.9 L363.5,274.0 L364.0,271.0 L364.5,267.9 L365.0,264.7 L365.5,261.4 L366.0,258.1 L366.5,254.7 L367.0,251.5 L367.5,248.3 L368.0,245.2 L368.5,242.2 L369.0,239.4 L369.5,236.8 L370.0,234.4 L370.5,232.3 L371.0,230.3 L371.5,228.6 L372.0,227.0 L372.5,225.7 L373.0,224.7 L373.5,223.8 L374.0,223.1 L374.5,222.5 L375.0,222.1 L375.5,221.8 L376.0,221.7 L376.5,221.6 L377.0,221.5 L377.5,221.5 L378.0,221.6 L378.5,221.7 L379.0,221.9 L379.5,222.2 L380.0,222.5 L380.5,222.9 L381.0,223.2 L381.5,223.6 L382.0,224.0 L382.5,224.4 L383.0,224.9 L383.5,225.3 L384.0,225.8 L384.5,226.3 L385.0,226.8 L385.5,227.3 L386.0,227.8 L386.5,228.3 L387.0,228.9 L387.5,229.4 L388.0,230.0 L388.5,230.6 L389.0,231.1 L389.5,231.7 L390.0,232.3 L390.5,232.9 L391.0,233.5 L391.5,234.1 L392.0,234.7 L392.5,235.3 L393.0,235.9 L393.5,236.5 L394.0,237.2 L394.5,237.8 L395.0,238.4 L395.5,239.0 L396.0,239.7 L396.5,240.3 L397.0,240.9 L397.5,241.5 L398.0,242.2 L398.5,242.8 L399.0,243.4 L399.5,244.0 L400.0,244.7 L400.5,245.3 L401.0,245.9 L401.5,246.5 L402.0,247.2 L402.5,247.8 L403.0,248.4 L403.5,249.0 L404.0,249.6 L404.5,250.2 L405.0,250.8 L405.5,251.4 L406.0,252.0 L406.5,252.6 L407.0,253.2 L407.5,253.8 L408.0,254.4 L408.5,255.0 L409.0,255.6 L409.5,256.2 L410.0,256.7 L410.5,257.3 L411.0,257.9 L411.5,258.4 L412.0,259.0 L412.5,259.5 L413.0,260.1 L413.5,260.6 L414.0,261.2 L414.5,261.7 L415.0,262.2 L415.5,262.8 L416.0,263.3 L416.5,263.8 L417.0,264.3 L417.5,264.8 L418.0,265.3 L418.5,265.8 L419.0,266.3 L419.5,266.8 L420.0,267.3 L420.5,267.8 L421.0,268.2 L421.5,268.7 L422.0,269.2 L422.5,269.6 L423.0,270.1 L423.5,270.5 L424.0,271.0 L424.5,271.4 L425.0,271.8 L425.5,272.3 L426.0,272.7 L426.5,273.1 L427.0,273.5 L427.5,273.9 L428.0,274.3 L428.5,274.7 L429.0,275.1 L429.5,275.5 L430.0,275.9 L430.5,276.2 L431.0,276.6 L431.5,277.0 L432.0,277.3 L432.5,277.7 L433.0,278.1 L433.5,278.4 L434.0,278.8 L434.5,279.1 L435.0,279.4 L435.5,279.8 L436.0,280.1 L436.5,280.4 L437.0,280.7 L437.5,281.0 L438.0,281.3 L438.5,281.6 L439.0,281.9 L439.5,282.2 L440.0,282.5 L440.5,282.8 L441.0,283.1 L441.5,283.4 L442.0,283.6 L442.5,283.9 L443.0,284.2 L443.5,284.4 L444.0,284.7 L444.5,284.9 L445.0,285.2 L445.5,285.4 L446.0,285.7 L446.5,285.9 L447.0,286.1 L447.5,286.4 L448.0,286.6 L448.5,286.8 L449.0,287.0 L449.5,287.2 L450.0,287.4 L450.5,287.7 L451.0,287.9 L451.5,288.1 L452.0,288.3 L452.5,288.4 L453.0,288.6 L453.5,288.8 L454.0,289.0 L454.5,289.2 L455.0,289.4 L455.5,289.5 L456.0,289.7 L456.5,289.9 L457.0,290.0 L457.5,290.2 L458.0,290.4 L458.5,290.5 L459.0,290.7 L459.5,290.8 L460.0,291.0 L460.5,291.1 L461.0,291.3 L461.5,291.4 L462.0,291.5 L462.5,291.7 L463.0,291.8 L463.5,291.9 L464.0,292.1 L464.5,292.2 L465.0,292.3 L465.5,292.4 L466.0,292.5 L466.5,292.7 L467.0,292.8 L467.5,292.9 L468.0,293.0 L468.5,293.1 L469.0,293.2 L469.5,293.3 L470.0,293.4 L470.5,293.5 L471.0,293.6 L471.5,293.7 L472.0,293.8 L472.5,293.9 L473.0,294.0 L473.5,294.1 L474.0,294.1 L474.5,294.2 L475.0,294.3 L475.5,294.4 L476.0,294.5 L476.5,294.6 L477.0,294.6 L477.5,294.7 L478.0,294.8 L478.5,294.8 L479.0,294.9 L479.5,295.0 L480.0,295.1 L480.5,295.1 L481.0,295.2 L481.5,295.2 L482.0,295.3 L482.5,295.4 L483.0,295.4 L483.5,295.5 L484.0,295.5 L484.5,295.6 L485.0,295.7 L485.5,295.7 L486.0,295.8 L486.5,295.8 L487.0,295.9 L487.5,295.9 L488.0,296.0 L488.5,296.0 L489.0,296.0 L489.5,296.1 L490.0,296.1 L490.5,296.2 L491.0,296.2 L491.5,296.3 L492.0,296.3 L492.5,296.3 L493.0,296.4 L493.5,296.4 L494.0,296.4 L494.5,296.5 L495.0,296.5 L495.5,296.6 L496.0,296.6 L496.5,296.6 L497.0,296.6 L497.5,296.7 L498.0,296.7 L498.5,296.7 L499.0,296.8 L499.5,296.8 L500.0,296.8 L500.5,296.9 L501.0,296.9 L501.5,296.9 L502.0,296.9 L502.5,297.0 L503.0,297.0 L503.5,297.0 L504.0,297.0 L504.5,297.0 L505.0,297.1 L505.5,297.1 L506.0,297.1 L506.5,297.1 L507.0,297.1" fill="none" stroke="#f7b500" stroke-width="1.1"/>
<path d="M307.0,297.9 L307.5,297.9 L308.0,297.9 L308.5,297.9 L309.0,297.9 L309.5,297.9 L310.0,297.9 L310.5,297.9 L311.0,297.9 L311.5,297.9 L312.0,297.9 L312.5,297.9 L313.0,297.9 L313.5,297.9 L314.0,297.9 L314.5,297.9 L315.0,297.9 L315.5,297.9 L316.0,297.9 L316.5,297.9 L317.0,297.9 L317.5,297.9 L318.0,297.9 L318.5,297.9 L319.0,297.9 L319.5,297.9 L320.0,297.9 L320.5,297.9 L321.0,297.9 L321.5,297.9 L322.0,297.9 L322.5,297.9 L323.0,297.9 L323.5,297.9 L324.0,297.9 L324.5,297.9 L325.0,297.9 L325.5,297.9 L326.0,297.9 L326.5,297.9 L327.0,297.9 L327.5,297.9 L328.0,297.9 L328.5,297.9 L329.0,297.9 L329.5,297.9 L330.0,297.9 L330.5,297.9 L331.0,297.9 L331.5,297.9 L332.0,297.9 L332.5,297.9 L333.0,297.9 L333.5,297.9 L334.0,297.9 L334.5,297.9 L335.0,297.9 L335.5,297.9 L336.0,297.9 L336.5,297.9 L337.0,297.9 L337.5,297.9 L338.0,297.9 L338.5,297.9 L339.0,297.9 L339.5,297.9 L340.0,297.9 L340.5,297.9 L341.0,297.9 L341.5,297.9 L342.0,297.9 L342.5,297.9 L343.0,297.9 L343.5,297.9 L344.0,297.9 L344.5,297.9 L345.0,297.9 L345.5,297.9 L346.0,297.9 L346.5,297.9 L347.0,297.9 L347.5,297.9 L348.0,297.9 L348.5,297.9 L349.0,297.9 L349.5,297.9 L350.0,297.9 L350.5,297.9 L351.0,297.9 L351.5,297.9 L352.0,297.9 L352.5,297.9 L353.0,297.9 L353.5,297.9 L354.0,297.9 L354.5,297.9 L355.0,297.9 L355.5,297.9 L356.0,297.9 L356.5,297.9 L357.0,297.9 L357.5,297.9 L358.0,297.9 L358.5,297.9 L359.0,297.9 L359.5,297.9 L360.0,297.9 L360.5,297.9 L361.0,297.9 L361.5,297.9 L362.0,297.9 L362.5,297.9 L363.0,297.9 L363.5,297.9 L364.0,297.9 L364.5,297.9 L365.0,297.9 L365.5,297.9 L366.0,297.9 L366.5,297.9 L367.0,297.9 L367.5,297.9 L368.0,297.9 L368.5,297.9 L369.0,297.9 L369.5,297.9 L370.0,297.9 L370.5,297.9 L371.0,297.9 L371.5,297.9 L372.0,297.9 L372.5,297.9 L373.0,297.9 L373.5,297.9 L374.0,297.9 L374.5,297.9 L375.0,297.9 L375.5,297.9 L376.0,297.9 L376.5,297.8 L377.0,297.8 L377.5,297.8 L378.0,297.8 L378.5,297.7 L379.0,297.7 L379.5,297.6 L380.0,297.5 L380.5,297.4 L381.0,297.3 L381.5,297.1 L382.0,296.9 L382.5,296.6 L383.0,296.3 L383.5,296.0 L384.0,295.6 L384.5,295.1 L385.0,294.5 L385.5,293.8 L386.0,293.1 L386.5,292.2 L387.0,291.2 L387.5,290.1 L388.0,288.9 L388.5,287.6 L389.0,286.1 L389.5,284.5 L390.0,282.8 L390.5,280.9 L391.0,278.9 L391.5,276.8 L392.0,274.5 L392.5,272.2 L393.0,269.8 L393.5,267.3 L394.0,264.7 L394.5,262.1 L395.0,259.5 L395.5,256.9 L396.0,254.2 L396.5,251.6 L397.0,249.0 L397.5,246.5 L398.0,244.1 L398.5,241.7 L399.0,239.5 L399.5,237.3 L400.0,235.3 L400.5,233.5 L401.0,231.7 L401.5,230.1 L402.0,228.7 L402.5,227.4 L403.0,226.2 L403.5,225.2 L404.0,224.4 L404.5,223.7 L405.0,223.1 L405.5,222.6 L406.0,222.2 L406.5,221.9 L407.0,221.7 L407.5,221.6 L408.0,221.5 L408.5,221.5 L409.0,221.5 L409.5,221.6 L410.0,221.8 L410.5,222.1 L411.0,222.4 L411.5,222.8 L412.0,223.3 L412.5,223.8 L413.0,224.4 L413.5,225.0 L414.0,225.7 L414.5,226.4 L415.0,227.2 L415.5,228.0 L416.0,228.8 L416.5,229.7 L417.0,230.6 L417.5,231.5 L418.0,232.4 L418.5,233.4 L419.0,234.4 L419.5,235.4 L420.0,236.4 L420.5,237.5 L421.0,238.5 L421.5,239.6 L422.0,240.7 L422.5,241.7 L423.0,242.8 L423.5,243.9 L424.0,245.0 L424.5,246.1 L425.0,247.2 L425.5,248.3 L426.0,249.5 L426.5,250.6 L427.0,251.7 L427.5,252.7 L428.0,253.8 L428.5,254.9 L429.0,256.0 L429.5,257.1 L430.0,258.1 L430.5,259.2 L431.0,260.2 L431.5,261.2 L432.0,262.2 L432.5,263.2 L433.0,264.2 L433.5,265.2 L434.0,266.1 L434.5,267.1 L435.0,268.0 L435.5,268.9 L436.0,269.8 L436.5,270.7 L437.0,271.5 L437.5,272.4 L438.0,273.2 L438.5,274.0 L439.0,274.8 L439.5,275.6 L440.0,276.3 L440.5,277.1 L441.0,277.8 L441.5,278.5 L442.0,279.2 L442.5,279.9 L443.0,280.5 L443.5,281.1 L444.0,281.8 L444.5,282.4 L445.0,282.9 L445.5,283.5 L446.0,284.1 L446.5,284.6 L447.0,285.1 L447.5,285.6 L448.0,286.1 L448.5,286.6 L449.0,287.0 L449.5,287.5 L450.0,287.9 L450.5,288.3 L451.0,288.7 L451.5,289.1 L452.0,289.5 L452.5,289.8 L453.0,290.2 L453.5,290.5 L454.0,290.9 L454.5,291.2 L455.0,291.5 L455.5,291.8 L456.0,292.0 L456.5,292.3 L457.0,292.6 L457.5,292.8 L458.0,293.0 L458.5,293.3 L459.0,293.5 L459.5,293.7 L460.0,293.9 L460.5,294.1 L461.0,294.3 L461.5,294.4 L462.0,294.6 L462.5,294.8 L463.0,294.9 L463.5,295.1 L464.0,295.2 L464.5,295.4 L465.0,295.5 L465.5,295.6 L466.0,295.7 L466.5,295.8 L467.0,296.0 L467.5,296.1 L468.0,296.2 L468.5,296.2 L469.0,296.3 L469.5,296.4 L470.0,296.5 L470.5,296.6 L471.0,296.6 L471.5,296.7 L472.0,296.8 L472.5,296.8 L473.0,296.9 L473.5,297.0 L474.0,297.0 L474.5,297.1 L475.0,297.1 L475.5,297.2 L476.0,297.2 L476.5,297.2 L477.0,297.3 L477.5,297.3 L478.0,297.3 L478.5,297.4 L479.0,297.4 L479.5,297.4 L480.0,297.5 L480.5,297.5 L481.0,297.5 L481.5,297.5 L482.0,297.6 L482.5,297.6 L483.0,297.6 L483.5,297.6 L484.0,297.6 L484.5,297.7 L485.0,297.7 L485.5,297.7 L486.0,297.7 L486.5,297.7 L487.0,297.7 L487.5,297.7 L488.0,297.7 L488.5,297.8 L489.0,297.8 L489.5,297.8 L490.0,297.8 L490.5,297.8 L491.0,297.8 L491.5,297.8 L492.0,297.8 L492.5,297.8 L493.0,297.8 L493.5,297.8 L494.0,297.8 L494.5,297.8 L495.0,297.8 L495.5,297.8 L496.0,297.8 L496.5,297.9 L497.0,297.9 L497.5,297.9 L498.0,297.9 L498.5,297.9 L499.0,297.9 L499.5,297.9 L500.0,297.9 L500.5,297.9 L501.0,297.9 L501.5,297.9 L502.0,297.9 L502.5,297.9 L503.0,297.9 L503.5,297.9 L504.0,297.9 L504.5,297.9 L505.0,297.9 L505.5,297.9 L506.0,297.9 L506.5,297.9 L507.0,297.9" fill="none" stroke="#808080" stroke-width="1.1" stroke-dasharray="2.2,1.6"/>
<path d="M307.0,297.9 L307.5,297.9 L308.0,297.9 L308.5,297.9 L309.0,297.9 L309.5,297.9 L310.0,297.9 L310.5,297.9 L311.0,297.9 L311.5,297.9 L312.0,297.9 L312.5,297.9 L313.0,297.9 L313.5,297.9 L314.0,297.9 L314.5,297.9 L315.0,297.9 L315.5,297.9 L316.0,297.9 L316.5,297.9 L317.0,297.9 L317.5,297.9 L318.0,297.9 L318.5,297.9 L319.0,297.9 L319.5,297.9 L320.0,297.9 L320.5,297.9 L321.0,297.9 L321.5,297.9 L322.0,297.9 L322.5,297.9 L323.0,297.9 L323.5,297.9 L324.0,297.9 L324.5,297.9 L325.0,297.9 L325.5,297.9 L326.0,297.9 L326.5,297.9 L327.0,297.9 L327.5,297.9 L328.0,297.9 L328.5,297.9 L329.0,297.9 L329.5,297.9 L330.0,297.9 L330.5,297.9 L331.0,297.9 L331.5,297.9 L332.0,297.9 L332.5,297.9 L333.0,297.9 L333.5,297.9 L334.0,297.9 L334.5,297.9 L335.0,297.9 L335.5,297.9 L336.0,297.9 L336.5,297.9 L337.0,297.9 L337.5,297.9 L338.0,297.9 L338.5,297.9 L339.0,297.9 L339.5,297.9 L340.0,297.9 L340.5,297.9 L341.0,297.9 L341.5,297.9 L342.0,297.9 L342.5,297.9 L343.0,297.9 L343.5,297.9 L344.0,297.9 L344.5,297.9 L345.0,297.9 L345.5,297.9 L346.0,297.9 L346.5,297.9 L347.0,297.9 L347.5,297.9 L348.0,297.9 L348.5,297.9 L349.0,297.9 L349.5,297.9 L350.0,297.9 L350.5,297.9 L351.0,297.9 L351.5,297.9 L352.0,297.9 L352.5,297.9 L353.0,297.9 L353.5,297.9 L354.0,297.9 L354.5,297.9 L355.0,297.9 L355.5,297.9 L356.0,297.9 L356.5,297.9 L357.0,297.9 L357.5,297.9 L358.0,297.9 L358.5,297.9 L359.0,297.9 L359.5,297.9 L360.0,297.9 L360.5,297.9 L361.0,297.9 L361.5,297.9 L362.0,297.9 L362.5,297.9 L363.0,297.9 L363.5,297.9 L364.0,297.9 L364.5,297.9 L365.0,297.9 L365.5,297.9 L366.0,297.9 L366.5,297.9 L367.0,297.9 L367.5,297.9 L368.0,297.9 L368.5,297.9 L369.0,297.9 L369.5,297.9 L370.0,297.9 L370.5,297.9 L371.0,297.9 L371.5,297.9 L372.0,297.9 L372.5,297.9 L373.0,297.9 L373.5,297.9 L374.0,297.9 L374.5,297.9 L375.0,297.9 L375.5,297.9 L376.0,297.9 L376.5,297.9 L377.0,297.9 L377.5,297.9 L378.0,297.9 L378.5,297.9 L379.0,297.9 L379.5,297.9 L380.0,297.9 L380.5,297.9 L381.0,297.9 L381.5,297.9 L382.0,297.9 L382.5,297.9 L383.0,297.9 L383.5,297.9 L384.0,297.8 L384.5,297.8 L385.0,297.8 L385.5,297.8 L386.0,297.7 L386.5,297.6 L387.0,297.5 L387.5,297.4 L388.0,297.3 L388.5,297.1 L389.0,296.9 L389.5,296.6 L390.0,296.2 L390.5,295.8 L391.0,295.3 L391.5,294.7 L392.0,293.9 L392.5,293.1 L393.0,292.1 L393.5,291.0 L394.0,289.7 L394.5,288.3 L395.0,286.8 L395.5,285.0 L396.0,283.1 L396.5,281.1 L397.0,278.9 L397.5,276.5 L398.0,274.0 L398.5,271.4 L399.0,268.7 L399.5,265.9 L400.0,263.1 L400.5,260.2 L401.0,257.3 L401.5,254.4 L402.0,251.5 L402.5,248.7 L403.0,246.0 L403.5,243.3 L404.0,240.8 L404.5,238.4 L405.0,236.2 L405.5,234.1 L406.0,232.1 L406.5,230.4 L407.0,228.8 L407.5,227.4 L408.0,226.2 L408.5,225.1 L409.0,224.3 L409.5,223.5 L410.0,222.9 L410.5,222.4 L411.0,222.1 L411.5,221.8 L412.0,221.7 L412.5,221.6 L413.0,221.5 L413.5,221.5 L414.0,221.5 L414.5,221.7 L415.0,221.9 L415.5,222.2 L416.0,222.6 L416.5,223.1 L417.0,223.6 L417.5,224.2 L418.0,224.9 L418.5,225.6 L419.0,226.3 L419.5,227.1 L420.0,227.9 L420.5,228.8 L421.0,229.6 L421.5,230.6 L422.0,231.5 L422.5,232.5 L423.0,233.5 L423.5,234.5 L424.0,235.6 L424.5,236.7 L425.0,237.7 L425.5,238.8 L426.0,239.9 L426.5,241.1 L427.0,242.2 L427.5,243.3 L428.0,244.5 L428.5,245.6 L429.0,246.8 L429.5,247.9 L430.0,249.1 L430.5,250.2 L431.0,251.3 L431.5,252.5 L432.0,253.6 L432.5,254.7 L433.0,255.9 L433.5,257.0 L434.0,258.1 L434.5,259.1 L435.0,260.2 L435.5,261.3 L436.0,262.3 L436.5,263.4 L437.0,264.4 L437.5,265.4 L438.0,266.4 L438.5,267.3 L439.0,268.3 L439.5,269.2 L440.0,270.2 L440.5,271.1 L441.0,271.9 L441.5,272.8 L442.0,273.7 L442.5,274.5 L443.0,275.3 L443.5,276.1 L444.0,276.9 L444.5,277.6 L445.0,278.4 L445.5,279.1 L446.0,279.8 L446.5,280.5 L447.0,281.1 L447.5,281.8 L448.0,282.4 L448.5,283.0 L449.0,283.6 L449.5,284.1 L450.0,284.7 L450.5,285.2 L451.0,285.7 L451.5,286.3 L452.0,286.7 L452.5,287.2 L453.0,287.7 L453.5,288.1 L454.0,288.5 L454.5,288.9 L455.0,289.3 L455.5,289.7 L456.0,290.1 L456.5,290.4 L457.0,290.8 L457.5,291.1 L458.0,291.4 L458.5,291.7 L459.0,292.0 L459.5,292.3 L460.0,292.5 L460.5,292.8 L461.0,293.0 L461.5,293.3 L462.0,293.5 L462.5,293.7 L463.0,293.9 L463.5,294.1 L464.0,294.3 L464.5,294.5 L465.0,294.7 L465.5,294.8 L466.0,295.0 L466.5,295.1 L467.0,295.3 L467.5,295.4 L468.0,295.6 L468.5,295.7 L469.0,295.8 L469.5,295.9 L470.0,296.0 L470.5,296.1 L471.0,296.2 L471.5,296.3 L472.0,296.4 L472.5,296.5 L473.0,296.6 L473.5,296.6 L474.0,296.7 L474.5,296.8 L475.0,296.8 L475.5,296.9 L476.0,297.0 L476.5,297.0 L477.0,297.1 L477.5,297.1 L478.0,297.2 L478.5,297.2 L479.0,297.3 L479.5,297.3 L480.0,297.3 L480.5,297.4 L481.0,297.4 L481.5,297.4 L482.0,297.5 L482.5,297.5 L483.0,297.5 L483.5,297.5 L484.0,297.6 L484.5,297.6 L485.0,297.6 L485.5,297.6 L486.0,297.6 L486.5,297.7 L487.0,297.7 L487.5,297.7 L488.0,297.7 L488.5,297.7 L489.0,297.7 L489.5,297.7 L490.0,297.7 L490.5,297.8 L491.0,297.8 L491.5,297.8 L492.0,297.8 L492.5,297.8 L493.0,297.8 L493.5,297.8 L494.0,297.8 L494.5,297.8 L495.0,297.8 L495.5,297.8 L496.0,297.8 L496.5,297.8 L497.0,297.8 L497.5,297.8 L498.0,297.9 L498.5,297.9 L499.0,297.9 L499.5,297.9 L500.0,297.9 L500.5,297.9 L501.0,297.9 L501.5,297.9 L502.0,297.9 L502.5,297.9 L503.0,297.9 L503.5,297.9 L504.0,297.9 L504.5,297.9 L505.0,297.9 L505.5,297.9 L506.0,297.9 L506.5,297.9 L507.0,297.9" fill="none" stroke="#f7b500" stroke-width="1.1" stroke-dasharray="2.2,1.6"/>
<path d="M357.3,239.5 C359.2,239.1 364.7,237.4 368.7,237.3 C372.7,237.2 377.1,237.7 381.3,238.7 C385.5,239.7 391.7,242.4 393.8,243.2" fill="none" stroke="#707070" stroke-width="2.0"/>
<path d="M357.3,243.5 C359.5,243.0 366.4,240.8 370.5,240.5 C374.6,240.2 378.1,241.2 382.0,242.0 C385.9,242.8 391.8,244.9 393.8,245.5" fill="none" stroke="#f7b500" stroke-width="2.0"/>
<path d="M393,250 L432.5,252.7" fill="none" stroke="#707070" stroke-width="2.0" stroke-dasharray="5,2.5"/>
<path d="M396,250.6 L438.5,254.1" fill="none" stroke="#f7b500" stroke-width="2.0" stroke-dasharray="5,2.5"/>
<path d="M208,362.5 H43.6 V473.8" fill="none" stroke="#6e6e6e" stroke-width="1.3"/>
<text x="45.5" y="357.8" text-anchor="middle" font-size="8.2" fill="#1a1a1a" font-family="Liberation Serif, serif">0</text>
<text x="79.3" y="357.8" text-anchor="middle" font-size="8.2" fill="#1a1a1a" font-family="Liberation Serif, serif">0.05</text>
<text x="112.5" y="357.8" text-anchor="middle" font-size="8.2" fill="#1a1a1a" font-family="Liberation Serif, serif">0.10</text>
<text x="146" y="357.8" text-anchor="middle" font-size="8.2" fill="#1a1a1a" font-family="Liberation Serif, serif">0.15</text>
<text x="178" y="357.8" text-anchor="middle" font-size="8.2" fill="#1a1a1a" font-family="Liberation Serif, serif">0.20</text>
<text x="209.6" y="357.8" text-anchor="middle" font-size="8.2" fill="#1a1a1a" font-family="Liberation Serif, serif">0.25</text>
<text x="219" y="365.6" font-size="9" fill="#111" font-family="Liberation Sans, sans-serif">q (A<tspan dy="-3" font-size="5.5">-1</tspan><tspan dy="3">)</tspan></text>
<text x="34" y="370.3" text-anchor="end" font-size="8.2" fill="#1a1a1a" font-family="Liberation Serif, serif">0</text>
<text x="21.5" y="386.2" font-size="8.0" fill="#1a1a1a" font-family="Liberation Serif, serif">10<tspan dy='-3' font-size='5'>−1</tspan></text>
<text x="21.5" y="403.5" font-size="8.0" fill="#1a1a1a" font-family="Liberation Serif, serif">10<tspan dy='-3' font-size='5'>−2</tspan></text>
<text x="21.5" y="422.8" font-size="8.0" fill="#1a1a1a" font-family="Liberation Serif, serif">10<tspan dy='-3' font-size='5'>−3</tspan></text>
<text x="21.5" y="440.3" font-size="8.0" fill="#1a1a1a" font-family="Liberation Serif, serif">10<tspan dy='-3' font-size='5'>−4</tspan></text>
<text x="21.5" y="457.7" font-size="8.0" fill="#1a1a1a" font-family="Liberation Serif, serif">10<tspan dy='-3' font-size='5'>−5</tspan></text>
<text x="21.5" y="476.0" font-size="8.0" fill="#1a1a1a" font-family="Liberation Serif, serif">10<tspan dy='-3' font-size='5'>−6</tspan></text>
<text transform="translate(16.8,430) rotate(-90)" text-anchor="middle" font-size="10.6" fill="#111" font-family="Liberation Sans, sans-serif">log[I(q)]</text>
<text x="52.4" y="397.8" font-size="8.9" fill="#111" font-family="Liberation Sans, sans-serif">X<tspan dy="-3.2" font-size="5.5">2</tspan><tspan dy="3.2">=2.93</tspan></text>
<rect x="46.1" y="411.2" width="1.6" height="1.6" fill="#f07a2e"/>
<rect x="46.4" y="411.5" width="1.6" height="1.6" fill="#f07a2e"/>
<rect x="47.1" y="410.3" width="1.6" height="1.6" fill="#f07a2e"/>
<rect x="47.6" y="410.7" width="1.6" height="1.6" fill="#f07a2e"/>
<rect x="47.7" y="410.2" width="1.6" height="1.6" fill="#f07a2e"/>
<rect x="48.2" y="410.7" width="1.6" height="1.6" fill="#f07a2e"/>
<rect x="48.9" y="410.8" width="1.6" height="1.6" fill="#f07a2e"/>
<rect x="49.2" y="410.2" width="1.6" height="1.6" fill="#f07a2e"/>
<rect x="49.9" y="411.7" width="1.6" height="1.6" fill="#f07a2e"/>
<rect x="50.2" y="410.3" width="1.6" height="1.6" fill="#f07a2e"/>
<rect x="51.0" y="412.4" width="1.6" height="1.6" fill="#f07a2e"/>
<rect x="51.0" y="411.2" width="1.6" height="1.6" fill="#f07a2e"/>
<rect x="51.4" y="411.3" width="1.6" height="1.6" fill="#f07a2e"/>
<rect x="52.2" y="411.3" width="1.6" height="1.6" fill="#f07a2e"/>
<rect x="52.3" y="409.6" width="1.6" height="1.6" fill="#f07a2e"/>
<rect x="52.9" y="410.1" width="1.6" height="1.6" fill="#f07a2e"/>
<rect x="53.4" y="411.1" width="1.6" height="1.6" fill="#f07a2e"/>
<rect x="53.7" y="410.9" width="1.6" height="1.6" fill="#f07a2e"/>
<rect x="54.4" y="410.1" width="1.6" height="1.6" fill="#f07a2e"/>
<rect x="54.8" y="411.2" width="1.6" height="1.6" fill="#f07a2e"/>
<rect x="55.2" y="410.4" width="1.6" height="1.6" fill="#f07a2e"/>
<rect x="55.8" y="412.4" width="1.6" height="1.6" fill="#f07a2e"/>
<rect x="55.9" y="409.9" width="1.6" height="1.6" fill="#f07a2e"/>
<rect x="56.8" y="410.5" width="1.6" height="1.6" fill="#f07a2e"/>
<rect x="57.1" y="410.4" width="1.6" height="1.6" fill="#f07a2e"/>
<rect x="57.2" y="413.4" width="1.6" height="1.6" fill="#f07a2e"/>
<rect x="57.9" y="411.1" width="1.6" height="1.6" fill="#f07a2e"/>
<rect x="58.3" y="410.6" width="1.6" height="1.6" fill="#f07a2e"/>
<rect x="58.5" y="410.4" width="1.6" height="1.6" fill="#f07a2e"/>
<rect x="59.3" y="410.0" width="1.6" height="1.6" fill="#f07a2e"/>
<rect x="59.9" y="410.9" width="1.6" height="1.6" fill="#f07a2e"/>
<rect x="60.2" y="412.8" width="1.6" height="1.6" fill="#f07a2e"/>
<rect x="60.6" y="409.8" width="1.6" height="1.6" fill="#f07a2e"/>
<rect x="61.3" y="412.2" width="1.6" height="1.6" fill="#f07a2e"/>
<rect x="61.5" y="411.5" width="1.6" height="1.6" fill="#f07a2e"/>
<rect x="62.1" y="411.5" width="1.6" height="1.6" fill="#f07a2e"/>
<rect x="62.5" y="413.7" width="1.6" height="1.6" fill="#f07a2e"/>
<rect x="62.7" y="411.8" width="1.6" height="1.6" fill="#f07a2e"/>
<rect x="63.2" y="411.9" width="1.6" height="1.6" fill="#f07a2e"/>
<rect x="63.7" y="411.9" width="1.6" height="1.6" fill="#f07a2e"/>
<rect x="64.0" y="412.4" width="1.6" height="1.6" fill="#f07a2e"/>
<rect x="64.8" y="412.5" width="1.6" height="1.6" fill="#f07a2e"/>
<rect x="64.9" y="412.3" width="1.6" height="1.6" fill="#f07a2e"/>
<rect x="65.8" y="413.5" width="1.6" height="1.6" fill="#f07a2e"/>
<rect x="65.7" y="411.1" width="1.6" height="1.6" fill="#f07a2e"/>
<rect x="66.7" y="413.0" width="1.6" height="1.6" fill="#f07a2e"/>
<rect x="67.1" y="413.3" width="1.6" height="1.6" fill="#f07a2e"/>
<rect x="67.3" y="412.0" width="1.6" height="1.6" fill="#f07a2e"/>
<rect x="67.7" y="414.9" width="1.6" height="1.6" fill="#f07a2e"/>
<rect x="68.0" y="410.9" width="1.6" height="1.6" fill="#f07a2e"/>
<rect x="68.5" y="413.0" width="1.6" height="1.6" fill="#f07a2e"/>
<rect x="69.1" y="413.9" width="1.6" height="1.6" fill="#f07a2e"/>
<rect x="69.7" y="413.1" width="1.6" height="1.6" fill="#f07a2e"/>
<rect x="70.0" y="413.3" width="1.6" height="1.6" fill="#f07a2e"/>
<rect x="70.4" y="410.4" width="1.6" height="1.6" fill="#f07a2e"/>
<rect x="71.1" y="412.1" width="1.6" height="1.6" fill="#f07a2e"/>
<rect x="71.4" y="412.0" width="1.6" height="1.6" fill="#f07a2e"/>
<rect x="71.6" y="412.1" width="1.6" height="1.6" fill="#f07a2e"/>
<rect x="72.5" y="414.1" width="1.6" height="1.6" fill="#f07a2e"/>
<rect x="72.9" y="411.0" width="1.6" height="1.6" fill="#f07a2e"/>
<rect x="73.1" y="413.2" width="1.6" height="1.6" fill="#f07a2e"/>
<rect x="73.7" y="414.2" width="1.6" height="1.6" fill="#f07a2e"/>
<rect x="73.8" y="414.6" width="1.6" height="1.6" fill="#f07a2e"/>
<rect x="74.3" y="414.3" width="1.6" height="1.6" fill="#f07a2e"/>
<rect x="74.9" y="414.0" width="1.6" height="1.6" fill="#f07a2e"/>
<rect x="75.2" y="414.0" width="1.6" height="1.6" fill="#f07a2e"/>
<rect x="75.7" y="413.9" width="1.6" height="1.6" fill="#f07a2e"/>
<rect x="76.6" y="414.6" width="1.6" height="1.6" fill="#f07a2e"/>
<rect x="76.9" y="415.1" width="1.6" height="1.6" fill="#f07a2e"/>
<rect x="77.2" y="415.4" width="1.6" height="1.6" fill="#f07a2e"/>
<rect x="77.6" y="416.7" width="1.6" height="1.6" fill="#f07a2e"/>
<rect x="78.4" y="416.9" width="1.6" height="1.6" fill="#f07a2e"/>
<rect x="78.6" y="414.3" width="1.6" height="1.6" fill="#f07a2e"/>
<rect x="78.8" y="415.0" width="1.6" height="1.6" fill="#f07a2e"/>
<rect x="79.4" y="414.9" width="1.6" height="1.6" fill="#f07a2e"/>
<rect x="79.7" y="418.1" width="1.6" height="1.6" fill="#f07a2e"/>
<rect x="80.1" y="417.1" width="1.6" height="1.6" fill="#f07a2e"/>
<rect x="80.6" y="414.9" width="1.6" height="1.6" fill="#f07a2e"/>
<rect x="81.3" y="417.5" width="1.6" height="1.6" fill="#f07a2e"/>
<rect x="82.0" y="416.2" width="1.6" height="1.6" fill="#f07a2e"/>
<rect x="82.4" y="415.5" width="1.6" height="1.6" fill="#f07a2e"/>
<rect x="82.6" y="414.8" width="1.6" height="1.6" fill="#f07a2e"/>
<rect x="82.9" y="416.3" width="1.6" height="1.6" fill="#f07a2e"/>
<rect x="83.7" y="414.3" width="1.6" height="1.6" fill="#f07a2e"/>
<rect x="83.9" y="416.9" width="1.6" height="1.6" fill="#f07a2e"/>
<rect x="84.7" y="419.6" width="1.6" height="1.6" fill="#f07a2e"/>
<rect x="85.1" y="417.7" width="1.6" height="1.6" fill="#f07a2e"/>
<rect x="85.5" y="413.9" width="1.6" height="1.6" fill="#f07a2e"/>
<rect x="85.6" y="415.2" width="1.6" height="1.6" fill="#f07a2e"/>
<rect x="86.0" y="416.7" width="1.6" height="1.6" fill="#f07a2e"/>
<rect x="86.4" y="416.8" width="1.6" height="1.6" fill="#f07a2e"/>
<rect x="87.3" y="418.6" width="1.6" height="1.6" fill="#f07a2e"/>
<rect x="87.9" y="413.5" width="1.6" height="1.6" fill="#f07a2e"/>
<rect x="88.3" y="418.9" width="1.6" height="1.6" fill="#f07a2e"/>
<rect x="88.8" y="416.8" width="1.6" height="1.6" fill="#f07a2e"/>
<rect x="88.8" y="418.6" width="1.6" height="1.6" fill="#f07a2e"/>
<rect x="89.2" y="418.5" width="1.6" height="1.6" fill="#f07a2e"/>
<rect x="90.1" y="420.5" width="1.6" height="1.6" fill="#f07a2e"/>
<rect x="90.5" y="415.5" width="1.6" height="1.6" fill="#f07a2e"/>
<rect x="90.9" y="418.6" width="1.6" height="1.6" fill="#f07a2e"/>
<rect x="91.0" y="416.1" width="1.6" height="1.6" fill="#f07a2e"/>
<rect x="91.8" y="415.0" width="1.6" height="1.6" fill="#f07a2e"/>
<rect x="92.3" y="417.4" width="1.6" height="1.6" fill="#f07a2e"/>
<rect x="92.7" y="418.9" width="1.6" height="1.6" fill="#f07a2e"/>
<rect x="92.9" y="420.4" width="1.6" height="1.6" fill="#f07a2e"/>
<rect x="93.4" y="414.0" width="1.6" height="1.6" fill="#f07a2e"/>
<rect x="93.8" y="422.0" width="1.6" height="1.6" fill="#f07a2e"/>
<rect x="94.2" y="418.1" width="1.6" height="1.6" fill="#f07a2e"/>
<rect x="94.6" y="421.8" width="1.6" height="1.6" fill="#f07a2e"/>
<rect x="95.4" y="423.1" width="1.6" height="1.6" fill="#f07a2e"/>
<rect x="95.5" y="422.2" width="1.6" height="1.6" fill="#f07a2e"/>
<rect x="96.2" y="414.8" width="1.6" height="1.6" fill="#f07a2e"/>
<rect x="96.5" y="418.9" width="1.6" height="1.6" fill="#f07a2e"/>
<rect x="96.8" y="419.7" width="1.6" height="1.6" fill="#f07a2e"/>
<rect x="97.8" y="418.9" width="1.6" height="1.6" fill="#f07a2e"/>
<rect x="98.2" y="418.4" width="1.6" height="1.6" fill="#f07a2e"/>
<rect x="98.4" y="423.2" width="1.6" height="1.6" fill="#f07a2e"/>
<rect x="98.7" y="417.8" width="1.6" height="1.6" fill="#f07a2e"/>
<rect x="99.2" y="420.4" width="1.6" height="1.6" fill="#f07a2e"/>
<rect x="99.8" y="422.5" width="1.6" height="1.6" fill="#f07a2e"/>
<rect x="100.0" y="423.5" width="1.6" height="1.6" fill="#f07a2e"/>
<rect x="99.8" y="423.1" width="1.6" height="1.6" fill="#f07a2e"/>
<rect x="100.2" y="421.7" width="1.6" height="1.6" fill="#f07a2e"/>
<rect x="100.2" y="422.8" width="1.6" height="1.6" fill="#f07a2e"/>
<rect x="100.1" y="420.7" width="1.6" height="1.6" fill="#f07a2e"/>
<rect x="100.4" y="421.6" width="1.6" height="1.6" fill="#f07a2e"/>
<rect x="101.0" y="420.1" width="1.6" height="1.6" fill="#f07a2e"/>
<rect x="101.3" y="420.0" width="1.6" height="1.6" fill="#f07a2e"/>
<rect x="101.5" y="423.3" width="1.6" height="1.6" fill="#f07a2e"/>
<rect x="102.2" y="423.8" width="1.6" height="1.6" fill="#f07a2e"/>
<rect x="102.2" y="424.5" width="1.6" height="1.6" fill="#f07a2e"/>
<rect x="102.2" y="423.1" width="1.6" height="1.6" fill="#f07a2e"/>
<rect x="102.7" y="420.7" width="1.6" height="1.6" fill="#f07a2e"/>
<rect x="102.8" y="417.1" width="1.6" height="1.6" fill="#f07a2e"/>
<rect x="102.5" y="423.0" width="1.6" height="1.6" fill="#f07a2e"/>
<rect x="102.6" y="420.7" width="1.6" height="1.6" fill="#f07a2e"/>
<rect x="103.5" y="420.3" width="1.6" height="1.6" fill="#f07a2e"/>
<rect x="103.6" y="424.6" width="1.6" height="1.6" fill="#f07a2e"/>
<rect x="103.6" y="426.6" width="1.6" height="1.6" fill="#f07a2e"/>
<rect x="103.9" y="431.0" width="1.6" height="1.6" fill="#f07a2e"/>
<rect x="103.6" y="426.8" width="1.6" height="1.6" fill="#f07a2e"/>
<rect x="104.0" y="420.0" width="1.6" height="1.6" fill="#f07a2e"/>
<rect x="103.9" y="425.4" width="1.6" height="1.6" fill="#f07a2e"/>
<rect x="104.2" y="420.7" width="1.6" height="1.6" fill="#f07a2e"/>
<rect x="104.7" y="424.6" width="1.6" height="1.6" fill="#f07a2e"/>
<rect x="104.4" y="427.1" width="1.6" height="1.6" fill="#f07a2e"/>
<rect x="105.4" y="423.1" width="1.6" height="1.6" fill="#f07a2e"/>
<rect x="105.6" y="423.6" width="1.6" height="1.6" fill="#f07a2e"/>
<rect x="105.2" y="423.6" width="1.6" height="1.6" fill="#f07a2e"/>
<rect x="105.8" y="423.6" width="1.6" height="1.6" fill="#f07a2e"/>
<rect x="105.8" y="430.1" width="1.6" height="1.6" fill="#f07a2e"/>
<rect x="105.5" y="425.5" width="1.6" height="1.6" fill="#f07a2e"/>
<rect x="106.0" y="427.2" width="1.6" height="1.6" fill="#f07a2e"/>
<rect x="106.2" y="430.2" width="1.6" height="1.6" fill="#f07a2e"/>
<rect x="106.2" y="421.4" width="1.6" height="1.6" fill="#f07a2e"/>
<rect x="106.5" y="422.0" width="1.6" height="1.6" fill="#f07a2e"/>
<rect x="106.3" y="434.7" width="1.6" height="1.6" fill="#f07a2e"/>
<rect x="106.5" y="422.7" width="1.6" height="1.6" fill="#f07a2e"/>
<rect x="106.3" y="421.4" width="1.6" height="1.6" fill="#f07a2e"/>
<rect x="106.8" y="421.6" width="1.6" height="1.6" fill="#f07a2e"/>
<rect x="106.6" y="426.8" width="1.6" height="1.6" fill="#f07a2e"/>
<rect x="106.6" y="423.5" width="1.6" height="1.6" fill="#f07a2e"/>
<rect x="106.6" y="421.3" width="1.6" height="1.6" fill="#f07a2e"/>
<rect x="107.5" y="427.3" width="1.6" height="1.6" fill="#f07a2e"/>
<rect x="107.5" y="427.7" width="1.6" height="1.6" fill="#f07a2e"/>
<rect x="107.7" y="424.3" width="1.6" height="1.6" fill="#f07a2e"/>
<rect x="107.8" y="424.9" width="1.6" height="1.6" fill="#f07a2e"/>
<rect x="108.2" y="421.7" width="1.6" height="1.6" fill="#f07a2e"/>
<rect x="108.7" y="423.5" width="1.6" height="1.6" fill="#f07a2e"/>
<rect x="108.4" y="426.0" width="1.6" height="1.6" fill="#f07a2e"/>
<rect x="108.5" y="422.2" width="1.6" height="1.6" fill="#f07a2e"/>
<rect x="109.4" y="426.6" width="1.6" height="1.6" fill="#f07a2e"/>
<rect x="109.3" y="430.7" width="1.6" height="1.6" fill="#f07a2e"/>
<rect x="109.4" y="422.9" width="1.6" height="1.6" fill="#f07a2e"/>
<rect x="109.3" y="428.5" width="1.6" height="1.6" fill="#f07a2e"/>
<rect x="109.9" y="422.6" width="1.6" height="1.6" fill="#f07a2e"/>
<rect x="109.8" y="421.9" width="1.6" height="1.6" fill="#f07a2e"/>
<rect x="109.9" y="425.4" width="1.6" height="1.6" fill="#f07a2e"/>
<rect x="109.9" y="423.8" width="1.6" height="1.6" fill="#f07a2e"/>
<rect x="109.8" y="422.5" width="1.6" height="1.6" fill="#f07a2e"/>
<rect x="109.6" y="422.0" width="1.6" height="1.6" fill="#f07a2e"/>
<rect x="110.4" y="424.9" width="1.6" height="1.6" fill="#f07a2e"/>
<rect x="111.1" y="428.0" width="1.6" height="1.6" fill="#f07a2e"/>
<rect x="111.0" y="429.2" width="1.6" height="1.6" fill="#f07a2e"/>
<rect x="111.3" y="426.8" width="1.6" height="1.6" fill="#f07a2e"/>
<rect x="111.2" y="427.4" width="1.6" height="1.6" fill="#f07a2e"/>
<rect x="111.7" y="420.4" width="1.6" height="1.6" fill="#f07a2e"/>
<rect x="111.9" y="428.1" width="1.6" height="1.6" fill="#f07a2e"/>
<rect x="112.4" y="428.1" width="1.6" height="1.6" fill="#f07a2e"/>
<rect x="112.1" y="423.4" width="1.6" height="1.6" fill="#f07a2e"/>
<rect x="112.2" y="428.6" width="1.6" height="1.6" fill="#f07a2e"/>
<rect x="112.8" y="422.9" width="1.6" height="1.6" fill="#f07a2e"/>
<rect x="113.2" y="429.9" width="1.6" height="1.6" fill="#f07a2e"/>
<rect x="113.3" y="427.5" width="1.6" height="1.6" fill="#f07a2e"/>
<rect x="113.4" y="424.5" width="1.6" height="1.6" fill="#f07a2e"/>
<rect x="113.4" y="425.6" width="1.6" height="1.6" fill="#f07a2e"/>
<rect x="113.6" y="426.6" width="1.6" height="1.6" fill="#f07a2e"/>
<rect x="113.4" y="426.2" width="1.6" height="1.6" fill="#f07a2e"/>
<rect x="114.3" y="424.0" width="1.6" height="1.6" fill="#f07a2e"/>
<rect x="114.3" y="426.9" width="1.6" height="1.6" fill="#f07a2e"/>
<rect x="114.4" y="422.9" width="1.6" height="1.6" fill="#f07a2e"/>
<rect x="114.2" y="427.9" width="1.6" height="1.6" fill="#f07a2e"/>
<rect x="115.2" y="427.6" width="1.6" height="1.6" fill="#f07a2e"/>
<rect x="115.2" y="426.6" width="1.6" height="1.6" fill="#f07a2e"/>
<rect x="114.9" y="429.8" width="1.6" height="1.6" fill="#f07a2e"/>
<rect x="115.3" y="432.1" width="1.6" height="1.6" fill="#f07a2e"/>
<rect x="115.3" y="428.7" width="1.6" height="1.6" fill="#f07a2e"/>
<rect x="115.9" y="426.0" width="1.6" height="1.6" fill="#f07a2e"/>
<rect x="116.0" y="424.3" width="1.6" height="1.6" fill="#f07a2e"/>
<rect x="116.2" y="424.2" width="1.6" height="1.6" fill="#f07a2e"/>
<rect x="116.6" y="428.3" width="1.6" height="1.6" fill="#f07a2e"/>
<rect x="116.7" y="428.9" width="1.6" height="1.6" fill="#f07a2e"/>
<rect x="116.4" y="431.6" width="1.6" height="1.6" fill="#f07a2e"/>
<rect x="116.7" y="425.7" width="1.6" height="1.6" fill="#f07a2e"/>
<rect x="116.6" y="425.8" width="1.6" height="1.6" fill="#f07a2e"/>
<rect x="117.5" y="431.2" width="1.6" height="1.6" fill="#f07a2e"/>
<rect x="117.8" y="429.1" width="1.6" height="1.6" fill="#f07a2e"/>
<rect x="117.6" y="426.8" width="1.6" height="1.6" fill="#f07a2e"/>
<rect x="117.7" y="446.2" width="1.6" height="1.6" fill="#f07a2e"/>
<rect x="117.6" y="425.7" width="1.6" height="1.6" fill="#f07a2e"/>
<rect x="117.4" y="430.1" width="1.6" height="1.6" fill="#f07a2e"/>
<rect x="118.1" y="433.0" width="1.6" height="1.6" fill="#f07a2e"/>
<rect x="117.9" y="427.7" width="1.6" height="1.6" fill="#f07a2e"/>
<rect x="118.0" y="431.2" width="1.6" height="1.6" fill="#f07a2e"/>
<rect x="118.9" y="428.6" width="1.6" height="1.6" fill="#f07a2e"/>
<rect x="119.0" y="424.2" width="1.6" height="1.6" fill="#f07a2e"/>
<rect x="119.2" y="423.8" width="1.6" height="1.6" fill="#f07a2e"/>
<rect x="119.4" y="433.2" width="1.6" height="1.6" fill="#f07a2e"/>
<rect x="119.4" y="432.7" width="1.6" height="1.6" fill="#f07a2e"/>
<rect x="119.3" y="429.9" width="1.6" height="1.6" fill="#f07a2e"/>
<rect x="119.9" y="426.2" width="1.6" height="1.6" fill="#f07a2e"/>
<rect x="119.7" y="425.3" width="1.6" height="1.6" fill="#f07a2e"/>
<rect x="120.1" y="428.0" width="1.6" height="1.6" fill="#f07a2e"/>
<rect x="120.3" y="425.7" width="1.6" height="1.6" fill="#f07a2e"/>
<rect x="120.1" y="425.7" width="1.6" height="1.6" fill="#f07a2e"/>
<rect x="120.7" y="427.1" width="1.6" height="1.6" fill="#f07a2e"/>
<rect x="120.5" y="430.9" width="1.6" height="1.6" fill="#f07a2e"/>
<rect x="120.9" y="430.3" width="1.6" height="1.6" fill="#f07a2e"/>
<rect x="120.6" y="428.5" width="1.6" height="1.6" fill="#f07a2e"/>
<rect x="121.3" y="427.4" width="1.6" height="1.6" fill="#f07a2e"/>
<rect x="121.6" y="430.7" width="1.6" height="1.6" fill="#f07a2e"/>
<rect x="121.3" y="429.5" width="1.6" height="1.6" fill="#f07a2e"/>
<rect x="121.6" y="427.8" width="1.6" height="1.6" fill="#f07a2e"/>
<rect x="121.6" y="434.0" width="1.6" height="1.6" fill="#f07a2e"/>
<rect x="122.5" y="429.0" width="1.6" height="1.6" fill="#f07a2e"/>
<rect x="122.5" y="424.6" width="1.6" height="1.6" fill="#f07a2e"/>
<rect x="122.6" y="428.4" width="1.6" height="1.6" fill="#f07a2e"/>
<rect x="123.4" y="428.6" width="1.6" height="1.6" fill="#f07a2e"/>
<rect x="123.4" y="432.8" width="1.6" height="1.6" fill="#f07a2e"/>
<rect x="123.7" y="425.8" width="1.6" height="1.6" fill="#f07a2e"/>
<rect x="123.5" y="431.5" width="1.6" height="1.6" fill="#f07a2e"/>
<rect x="124.0" y="430.3" width="1.6" height="1.6" fill="#f07a2e"/>
<rect x="123.9" y="424.9" width="1.6" height="1.6" fill="#f07a2e"/>
<rect x="124.1" y="429.5" width="1.6" height="1.6" fill="#f07a2e"/>
<rect x="123.7" y="429.3" width="1.6" height="1.6" fill="#f07a2e"/>
<rect x="124.4" y="433.0" width="1.6" height="1.6" fill="#f07a2e"/>
<rect x="124.3" y="430.4" width="1.6" height="1.6" fill="#f07a2e"/>
<rect x="124.7" y="430.5" width="1.6" height="1.6" fill="#f07a2e"/>
<rect x="124.9" y="428.8" width="1.6" height="1.6" fill="#f07a2e"/>
<rect x="125.1" y="430.0" width="1.6" height="1.6" fill="#f07a2e"/>
<rect x="124.6" y="429.4" width="1.6" height="1.6" fill="#f07a2e"/>
<rect x="125.4" y="436.5" width="1.6" height="1.6" fill="#f07a2e"/>
<rect x="125.2" y="438.5" width="1.6" height="1.6" fill="#f07a2e"/>
<rect x="125.3" y="428.8" width="1.6" height="1.6" fill="#f07a2e"/>
<rect x="125.7" y="423.6" width="1.6" height="1.6" fill="#f07a2e"/>
<rect x="125.5" y="433.6" width="1.6" height="1.6" fill="#f07a2e"/>
<rect x="126.2" y="430.4" width="1.6" height="1.6" fill="#f07a2e"/>
<rect x="126.3" y="435.2" width="1.6" height="1.6" fill="#f07a2e"/>
<rect x="126.5" y="429.7" width="1.6" height="1.6" fill="#f07a2e"/>
<rect x="126.0" y="429.0" width="1.6" height="1.6" fill="#f07a2e"/>
<rect x="126.8" y="431.2" width="1.6" height="1.6" fill="#f07a2e"/>
<rect x="126.7" y="431.7" width="1.6" height="1.6" fill="#f07a2e"/>
<rect x="126.6" y="426.0" width="1.6" height="1.6" fill="#f07a2e"/>
<rect x="127.1" y="434.6" width="1.6" height="1.6" fill="#f07a2e"/>
<rect x="127.5" y="426.2" width="1.6" height="1.6" fill="#f07a2e"/>
<rect x="127.3" y="442.6" width="1.6" height="1.6" fill="#f07a2e"/>
<rect x="127.5" y="428.6" width="1.6" height="1.6" fill="#f07a2e"/>
<rect x="127.9" y="428.1" width="1.6" height="1.6" fill="#f07a2e"/>
<rect x="128.2" y="432.0" width="1.6" height="1.6" fill="#f07a2e"/>
<rect x="128.2" y="427.6" width="1.6" height="1.6" fill="#f07a2e"/>
<rect x="128.1" y="433.0" width="1.6" height="1.6" fill="#f07a2e"/>
<rect x="128.5" y="432.9" width="1.6" height="1.6" fill="#f07a2e"/>
<rect x="128.8" y="438.5" width="1.6" height="1.6" fill="#f07a2e"/>
<rect x="128.4" y="433.9" width="1.6" height="1.6" fill="#f07a2e"/>
<rect x="128.5" y="433.1" width="1.6" height="1.6" fill="#f07a2e"/>
<rect x="129.2" y="430.9" width="1.6" height="1.6" fill="#f07a2e"/>
<rect x="129.4" y="433.9" width="1.6" height="1.6" fill="#f07a2e"/>
<rect x="129.3" y="434.1" width="1.6" height="1.6" fill="#f07a2e"/>
<rect x="129.0" y="434.6" width="1.6" height="1.6" fill="#f07a2e"/>
<rect x="129.5" y="430.7" width="1.6" height="1.6" fill="#f07a2e"/>
<rect x="129.4" y="432.6" width="1.6" height="1.6" fill="#f07a2e"/>
<rect x="129.7" y="434.3" width="1.6" height="1.6" fill="#f07a2e"/>
<rect x="130.2" y="428.1" width="1.6" height="1.6" fill="#f07a2e"/>
<rect x="130.4" y="432.2" width="1.6" height="1.6" fill="#f07a2e"/>
<rect x="130.0" y="430.1" width="1.6" height="1.6" fill="#f07a2e"/>
<rect x="130.3" y="434.1" width="1.6" height="1.6" fill="#f07a2e"/>
<rect x="130.5" y="432.9" width="1.6" height="1.6" fill="#f07a2e"/>
<rect x="131.0" y="428.8" width="1.6" height="1.6" fill="#f07a2e"/>
<rect x="130.9" y="436.1" width="1.6" height="1.6" fill="#f07a2e"/>
<rect x="130.8" y="433.2" width="1.6" height="1.6" fill="#f07a2e"/>
<rect x="131.1" y="431.6" width="1.6" height="1.6" fill="#f07a2e"/>
<rect x="131.4" y="434.4" width="1.6" height="1.6" fill="#f07a2e"/>
<rect x="131.6" y="431.3" width="1.6" height="1.6" fill="#f07a2e"/>
<rect x="131.7" y="439.8" width="1.6" height="1.6" fill="#f07a2e"/>
<rect x="131.4" y="430.2" width="1.6" height="1.6" fill="#f07a2e"/>
<rect x="132.3" y="433.2" width="1.6" height="1.6" fill="#f07a2e"/>
<rect x="132.4" y="432.6" width="1.6" height="1.6" fill="#f07a2e"/>
<rect x="132.5" y="428.3" width="1.6" height="1.6" fill="#f07a2e"/>
<rect x="132.2" y="427.9" width="1.6" height="1.6" fill="#f07a2e"/>
<rect x="133.3" y="429.3" width="1.6" height="1.6" fill="#f07a2e"/>
<rect x="133.2" y="436.0" width="1.6" height="1.6" fill="#f07a2e"/>
<rect x="133.1" y="434.2" width="1.6" height="1.6" fill="#f07a2e"/>
<rect x="133.6" y="432.9" width="1.6" height="1.6" fill="#f07a2e"/>
<rect x="134.2" y="431.6" width="1.6" height="1.6" fill="#f07a2e"/>
<rect x="134.0" y="433.5" width="1.6" height="1.6" fill="#f07a2e"/>
<rect x="134.5" y="430.3" width="1.6" height="1.6" fill="#f07a2e"/>
<rect x="134.6" y="433.2" width="1.6" height="1.6" fill="#f07a2e"/>
<rect x="134.9" y="433.3" width="1.6" height="1.6" fill="#f07a2e"/>
<rect x="134.7" y="432.7" width="1.6" height="1.6" fill="#f07a2e"/>
<rect x="134.5" y="428.2" width="1.6" height="1.6" fill="#f07a2e"/>
<rect x="134.7" y="437.0" width="1.6" height="1.6" fill="#f07a2e"/>
<rect x="134.5" y="442.9" width="1.6" height="1.6" fill="#f07a2e"/>
<rect x="134.6" y="433.3" width="1.6" height="1.6" fill="#f07a2e"/>
<rect x="134.6" y="428.8" width="1.6" height="1.6" fill="#f07a2e"/>
<rect x="135.5" y="429.4" width="1.6" height="1.6" fill="#f07a2e"/>
<rect x="135.2" y="430.8" width="1.6" height="1.6" fill="#f07a2e"/>
<rect x="135.6" y="427.8" width="1.6" height="1.6" fill="#f07a2e"/>
<rect x="135.5" y="431.0" width="1.6" height="1.6" fill="#f07a2e"/>
<rect x="135.4" y="441.4" width="1.6" height="1.6" fill="#f07a2e"/>
<rect x="135.6" y="430.4" width="1.6" height="1.6" fill="#f07a2e"/>
<rect x="136.1" y="438.8" width="1.6" height="1.6" fill="#f07a2e"/>
<rect x="136.0" y="454.8" width="1.6" height="1.6" fill="#f07a2e"/>
<rect x="135.9" y="435.8" width="1.6" height="1.6" fill="#f07a2e"/>
<rect x="136.6" y="433.6" width="1.6" height="1.6" fill="#f07a2e"/>
<rect x="136.4" y="427.3" width="1.6" height="1.6" fill="#f07a2e"/>
<rect x="136.7" y="436.0" width="1.6" height="1.6" fill="#f07a2e"/>
<rect x="136.9" y="429.6" width="1.6" height="1.6" fill="#f07a2e"/>
<rect x="136.9" y="428.6" width="1.6" height="1.6" fill="#f07a2e"/>
<rect x="136.9" y="436.2" width="1.6" height="1.6" fill="#f07a2e"/>
<rect x="137.3" y="427.0" width="1.6" height="1.6" fill="#f07a2e"/>
<rect x="137.1" y="436.5" width="1.6" height="1.6" fill="#f07a2e"/>
<rect x="138.0" y="432.9" width="1.6" height="1.6" fill="#f07a2e"/>
<rect x="138.2" y="441.6" width="1.6" height="1.6" fill="#f07a2e"/>
<rect x="138.2" y="428.9" width="1.6" height="1.6" fill="#f07a2e"/>
<rect x="138.3" y="431.4" width="1.6" height="1.6" fill="#f07a2e"/>
<rect x="138.1" y="443.4" width="1.6" height="1.6" fill="#f07a2e"/>
<rect x="138.2" y="432.5" width="1.6" height="1.6" fill="#f07a2e"/>
<rect x="138.1" y="429.8" width="1.6" height="1.6" fill="#f07a2e"/>
<rect x="139.0" y="428.2" width="1.6" height="1.6" fill="#f07a2e"/>
<rect x="139.1" y="435.1" width="1.6" height="1.6" fill="#f07a2e"/>
<rect x="139.2" y="428.7" width="1.6" height="1.6" fill="#f07a2e"/>
<rect x="139.4" y="429.0" width="1.6" height="1.6" fill="#f07a2e"/>
<rect x="139.4" y="437.8" width="1.6" height="1.6" fill="#f07a2e"/>
<rect x="139.4" y="434.2" width="1.6" height="1.6" fill="#f07a2e"/>
<rect x="139.4" y="427.8" width="1.6" height="1.6" fill="#f07a2e"/>
<rect x="139.9" y="430.9" width="1.6" height="1.6" fill="#f07a2e"/>
<rect x="139.7" y="432.4" width="1.6" height="1.6" fill="#f07a2e"/>
<rect x="140.0" y="433.3" width="1.6" height="1.6" fill="#f07a2e"/>
<rect x="140.0" y="437.6" width="1.6" height="1.6" fill="#f07a2e"/>
<rect x="139.7" y="434.1" width="1.6" height="1.6" fill="#f07a2e"/>
<rect x="140.2" y="435.5" width="1.6" height="1.6" fill="#f07a2e"/>
<rect x="140.7" y="433.9" width="1.6" height="1.6" fill="#f07a2e"/>
<rect x="141.0" y="443.5" width="1.6" height="1.6" fill="#f07a2e"/>
<rect x="140.9" y="437.9" width="1.6" height="1.6" fill="#f07a2e"/>
<rect x="141.3" y="433.4" width="1.6" height="1.6" fill="#f07a2e"/>
<rect x="141.6" y="445.5" width="1.6" height="1.6" fill="#f07a2e"/>
<rect x="141.5" y="437.4" width="1.6" height="1.6" fill="#f07a2e"/>
<rect x="141.3" y="433.1" width="1.6" height="1.6" fill="#f07a2e"/>
<rect x="141.6" y="434.3" width="1.6" height="1.6" fill="#f07a2e"/>
<rect x="141.5" y="429.3" width="1.6" height="1.6" fill="#f07a2e"/>
<rect x="141.6" y="430.0" width="1.6" height="1.6" fill="#f07a2e"/>
<rect x="141.9" y="431.8" width="1.6" height="1.6" fill="#f07a2e"/>
<rect x="141.6" y="429.8" width="1.6" height="1.6" fill="#f07a2e"/>
<rect x="142.2" y="434.9" width="1.6" height="1.6" fill="#f07a2e"/>
<rect x="142.7" y="436.4" width="1.6" height="1.6" fill="#f07a2e"/>
<rect x="142.8" y="449.9" width="1.6" height="1.6" fill="#f07a2e"/>
<rect x="142.7" y="437.1" width="1.6" height="1.6" fill="#f07a2e"/>
<rect x="142.8" y="437.2" width="1.6" height="1.6" fill="#f07a2e"/>
<rect x="142.7" y="438.0" width="1.6" height="1.6" fill="#f07a2e"/>
<rect x="142.9" y="435.0" width="1.6" height="1.6" fill="#f07a2e"/>
<rect x="143.0" y="434.0" width="1.6" height="1.6" fill="#f07a2e"/>
<rect x="142.9" y="432.6" width="1.6" height="1.6" fill="#f07a2e"/>
<rect x="143.2" y="433.9" width="1.6" height="1.6" fill="#f07a2e"/>
<rect x="143.3" y="438.4" width="1.6" height="1.6" fill="#f07a2e"/>
<rect x="143.3" y="431.4" width="1.6" height="1.6" fill="#f07a2e"/>
<rect x="143.6" y="433.1" width="1.6" height="1.6" fill="#f07a2e"/>
<rect x="143.5" y="443.0" width="1.6" height="1.6" fill="#f07a2e"/>
<rect x="143.8" y="429.6" width="1.6" height="1.6" fill="#f07a2e"/>
<rect x="143.6" y="428.4" width="1.6" height="1.6" fill="#f07a2e"/>
<rect x="144.0" y="437.5" width="1.6" height="1.6" fill="#f07a2e"/>
<rect x="143.8" y="442.3" width="1.6" height="1.6" fill="#f07a2e"/>
<rect x="144.1" y="430.4" width="1.6" height="1.6" fill="#f07a2e"/>
<rect x="144.0" y="429.7" width="1.6" height="1.6" fill="#f07a2e"/>
<rect x="145.0" y="436.1" width="1.6" height="1.6" fill="#f07a2e"/>
<rect x="145.1" y="437.8" width="1.6" height="1.6" fill="#f07a2e"/>
<rect x="145.1" y="435.5" width="1.6" height="1.6" fill="#f07a2e"/>
<rect x="145.2" y="450.0" width="1.6" height="1.6" fill="#f07a2e"/>
<rect x="145.2" y="433.1" width="1.6" height="1.6" fill="#f07a2e"/>
<rect x="145.8" y="434.9" width="1.6" height="1.6" fill="#f07a2e"/>
<rect x="145.8" y="437.8" width="1.6" height="1.6" fill="#f07a2e"/>
<rect x="145.6" y="429.2" width="1.6" height="1.6" fill="#f07a2e"/>
<rect x="145.8" y="434.1" width="1.6" height="1.6" fill="#f07a2e"/>
<rect x="145.6" y="435.0" width="1.6" height="1.6" fill="#f07a2e"/>
<rect x="146.6" y="431.3" width="1.6" height="1.6" fill="#f07a2e"/>
<rect x="146.4" y="450.5" width="1.6" height="1.6" fill="#f07a2e"/>
<rect x="146.3" y="438.2" width="1.6" height="1.6" fill="#f07a2e"/>
<rect x="147.1" y="440.7" width="1.6" height="1.6" fill="#f07a2e"/>
<rect x="147.3" y="433.6" width="1.6" height="1.6" fill="#f07a2e"/>
<rect x="146.9" y="431.2" width="1.6" height="1.6" fill="#f07a2e"/>
<rect x="147.2" y="435.2" width="1.6" height="1.6" fill="#f07a2e"/>
<rect x="147.4" y="435.6" width="1.6" height="1.6" fill="#f07a2e"/>
<rect x="147.2" y="433.5" width="1.6" height="1.6" fill="#f07a2e"/>
<rect x="148.1" y="430.5" width="1.6" height="1.6" fill="#f07a2e"/>
<rect x="148.2" y="439.4" width="1.6" height="1.6" fill="#f07a2e"/>
<rect x="148.3" y="429.0" width="1.6" height="1.6" fill="#f07a2e"/>
<rect x="148.2" y="435.6" width="1.6" height="1.6" fill="#f07a2e"/>
<rect x="148.4" y="432.5" width="1.6" height="1.6" fill="#f07a2e"/>
<rect x="148.6" y="440.2" width="1.6" height="1.6" fill="#f07a2e"/>
<rect x="148.8" y="436.2" width="1.6" height="1.6" fill="#f07a2e"/>
<rect x="149.2" y="437.9" width="1.6" height="1.6" fill="#f07a2e"/>
<rect x="149.4" y="435.3" width="1.6" height="1.6" fill="#f07a2e"/>
<rect x="149.1" y="435.9" width="1.6" height="1.6" fill="#f07a2e"/>
<rect x="149.4" y="431.6" width="1.6" height="1.6" fill="#f07a2e"/>
<rect x="149.2" y="430.3" width="1.6" height="1.6" fill="#f07a2e"/>
<rect x="150.1" y="436.1" width="1.6" height="1.6" fill="#f07a2e"/>
<rect x="150.2" y="438.3" width="1.6" height="1.6" fill="#f07a2e"/>
<rect x="150.2" y="437.3" width="1.6" height="1.6" fill="#f07a2e"/>
<rect x="150.1" y="433.2" width="1.6" height="1.6" fill="#f07a2e"/>
<rect x="150.8" y="438.5" width="1.6" height="1.6" fill="#f07a2e"/>
<rect x="151.0" y="457.9" width="1.6" height="1.6" fill="#f07a2e"/>
<rect x="150.8" y="436.2" width="1.6" height="1.6" fill="#f07a2e"/>
<rect x="151.0" y="441.7" width="1.6" height="1.6" fill="#f07a2e"/>
<rect x="151.0" y="436.3" width="1.6" height="1.6" fill="#f07a2e"/>
<rect x="151.4" y="437.1" width="1.6" height="1.6" fill="#f07a2e"/>
<rect x="151.3" y="434.1" width="1.6" height="1.6" fill="#f07a2e"/>
<rect x="151.2" y="432.5" width="1.6" height="1.6" fill="#f07a2e"/>
<rect x="152.1" y="437.0" width="1.6" height="1.6" fill="#f07a2e"/>
<rect x="152.1" y="449.4" width="1.6" height="1.6" fill="#f07a2e"/>
<rect x="151.8" y="434.1" width="1.6" height="1.6" fill="#f07a2e"/>
<rect x="152.4" y="443.2" width="1.6" height="1.6" fill="#f07a2e"/>
<rect x="152.5" y="435.6" width="1.6" height="1.6" fill="#f07a2e"/>
<rect x="152.6" y="430.5" width="1.6" height="1.6" fill="#f07a2e"/>
<rect x="153.0" y="436.5" width="1.6" height="1.6" fill="#f07a2e"/>
<rect x="153.2" y="437.5" width="1.6" height="1.6" fill="#f07a2e"/>
<rect x="153.0" y="435.2" width="1.6" height="1.6" fill="#f07a2e"/>
<rect x="153.5" y="437.9" width="1.6" height="1.6" fill="#f07a2e"/>
<rect x="153.7" y="449.5" width="1.6" height="1.6" fill="#f07a2e"/>
<rect x="153.7" y="432.9" width="1.6" height="1.6" fill="#f07a2e"/>
<rect x="153.6" y="435.4" width="1.6" height="1.6" fill="#f07a2e"/>
<rect x="153.5" y="435.7" width="1.6" height="1.6" fill="#f07a2e"/>
<rect x="154.3" y="435.8" width="1.6" height="1.6" fill="#f07a2e"/>
<rect x="154.5" y="446.8" width="1.6" height="1.6" fill="#f07a2e"/>
<rect x="154.5" y="430.1" width="1.6" height="1.6" fill="#f07a2e"/>
<rect x="154.1" y="440.2" width="1.6" height="1.6" fill="#f07a2e"/>
<rect x="154.7" y="438.5" width="1.6" height="1.6" fill="#f07a2e"/>
<rect x="154.6" y="443.8" width="1.6" height="1.6" fill="#f07a2e"/>
<rect x="154.8" y="438.5" width="1.6" height="1.6" fill="#f07a2e"/>
<rect x="154.6" y="433.6" width="1.6" height="1.6" fill="#f07a2e"/>
<rect x="154.9" y="435.4" width="1.6" height="1.6" fill="#f07a2e"/>
<rect x="155.0" y="431.8" width="1.6" height="1.6" fill="#f07a2e"/>
<rect x="155.1" y="436.6" width="1.6" height="1.6" fill="#f07a2e"/>
<rect x="155.3" y="430.9" width="1.6" height="1.6" fill="#f07a2e"/>
<rect x="155.1" y="443.4" width="1.6" height="1.6" fill="#f07a2e"/>
<rect x="155.4" y="439.7" width="1.6" height="1.6" fill="#f07a2e"/>
<rect x="155.1" y="432.8" width="1.6" height="1.6" fill="#f07a2e"/>
<rect x="155.9" y="435.3" width="1.6" height="1.6" fill="#f07a2e"/>
<rect x="155.7" y="438.7" width="1.6" height="1.6" fill="#f07a2e"/>
<rect x="156.2" y="438.5" width="1.6" height="1.6" fill="#f07a2e"/>
<rect x="156.5" y="439.1" width="1.6" height="1.6" fill="#f07a2e"/>
<rect x="156.9" y="438.8" width="1.6" height="1.6" fill="#f07a2e"/>
<rect x="156.7" y="454.2" width="1.6" height="1.6" fill="#f07a2e"/>
<rect x="156.6" y="434.9" width="1.6" height="1.6" fill="#f07a2e"/>
<rect x="157.5" y="433.2" width="1.6" height="1.6" fill="#f07a2e"/>
<rect x="157.3" y="438.1" width="1.6" height="1.6" fill="#f07a2e"/>
<rect x="157.4" y="439.0" width="1.6" height="1.6" fill="#f07a2e"/>
<rect x="157.8" y="433.1" width="1.6" height="1.6" fill="#f07a2e"/>
<rect x="157.6" y="447.3" width="1.6" height="1.6" fill="#f07a2e"/>
<rect x="158.4" y="435.9" width="1.6" height="1.6" fill="#f07a2e"/>
<rect x="158.4" y="434.1" width="1.6" height="1.6" fill="#f07a2e"/>
<rect x="158.2" y="435.4" width="1.6" height="1.6" fill="#f07a2e"/>
<rect x="158.9" y="432.3" width="1.6" height="1.6" fill="#f07a2e"/>
<rect x="158.7" y="435.5" width="1.6" height="1.6" fill="#f07a2e"/>
<rect x="158.9" y="435.4" width="1.6" height="1.6" fill="#f07a2e"/>
<rect x="159.3" y="439.7" width="1.6" height="1.6" fill="#f07a2e"/>
<rect x="159.2" y="442.2" width="1.6" height="1.6" fill="#f07a2e"/>
<rect x="159.3" y="437.1" width="1.6" height="1.6" fill="#f07a2e"/>
<rect x="159.6" y="450.1" width="1.6" height="1.6" fill="#f07a2e"/>
<rect x="159.1" y="437.4" width="1.6" height="1.6" fill="#f07a2e"/>
<rect x="159.5" y="436.7" width="1.6" height="1.6" fill="#f07a2e"/>
<rect x="160.1" y="442.6" width="1.6" height="1.6" fill="#f07a2e"/>
<rect x="160.1" y="442.1" width="1.6" height="1.6" fill="#f07a2e"/>
<rect x="160.2" y="435.4" width="1.6" height="1.6" fill="#f07a2e"/>
<rect x="160.7" y="444.5" width="1.6" height="1.6" fill="#f07a2e"/>
<rect x="160.4" y="460.9" width="1.6" height="1.6" fill="#f07a2e"/>
<rect x="160.6" y="430.9" width="1.6" height="1.6" fill="#f07a2e"/>
<rect x="160.6" y="439.2" width="1.6" height="1.6" fill="#f07a2e"/>
<rect x="160.9" y="438.1" width="1.6" height="1.6" fill="#f07a2e"/>
<rect x="160.7" y="440.5" width="1.6" height="1.6" fill="#f07a2e"/>
<rect x="161.3" y="440.6" width="1.6" height="1.6" fill="#f07a2e"/>
<rect x="161.5" y="454.2" width="1.6" height="1.6" fill="#f07a2e"/>
<rect x="161.3" y="437.7" width="1.6" height="1.6" fill="#f07a2e"/>
<rect x="161.6" y="435.1" width="1.6" height="1.6" fill="#f07a2e"/>
<rect x="161.9" y="442.4" width="1.6" height="1.6" fill="#f07a2e"/>
<rect x="161.8" y="437.6" width="1.6" height="1.6" fill="#f07a2e"/>
<rect x="162.1" y="440.0" width="1.6" height="1.6" fill="#f07a2e"/>
<rect x="162.0" y="434.1" width="1.6" height="1.6" fill="#f07a2e"/>
<rect x="161.9" y="431.0" width="1.6" height="1.6" fill="#f07a2e"/>
<rect x="162.9" y="436.4" width="1.6" height="1.6" fill="#f07a2e"/>
<rect x="162.9" y="439.8" width="1.6" height="1.6" fill="#f07a2e"/>
<rect x="163.0" y="439.2" width="1.6" height="1.6" fill="#f07a2e"/>
<rect x="163.1" y="441.6" width="1.6" height="1.6" fill="#f07a2e"/>
<rect x="162.9" y="441.4" width="1.6" height="1.6" fill="#f07a2e"/>
<rect x="163.4" y="441.0" width="1.6" height="1.6" fill="#f07a2e"/>
<rect x="163.1" y="455.6" width="1.6" height="1.6" fill="#f07a2e"/>
<rect x="163.3" y="432.4" width="1.6" height="1.6" fill="#f07a2e"/>
<rect x="163.9" y="439.6" width="1.6" height="1.6" fill="#f07a2e"/>
<rect x="163.7" y="461.7" width="1.6" height="1.6" fill="#f07a2e"/>
<rect x="164.4" y="442.4" width="1.6" height="1.6" fill="#f07a2e"/>
<rect x="164.6" y="441.1" width="1.6" height="1.6" fill="#f07a2e"/>
<rect x="164.8" y="436.7" width="1.6" height="1.6" fill="#f07a2e"/>
<rect x="165.0" y="436.9" width="1.6" height="1.6" fill="#f07a2e"/>
<rect x="165.5" y="439.3" width="1.6" height="1.6" fill="#f07a2e"/>
<rect x="165.5" y="449.7" width="1.6" height="1.6" fill="#f07a2e"/>
<rect x="165.5" y="433.3" width="1.6" height="1.6" fill="#f07a2e"/>
<rect x="165.5" y="438.3" width="1.6" height="1.6" fill="#f07a2e"/>
<rect x="166.1" y="445.4" width="1.6" height="1.6" fill="#f07a2e"/>
<rect x="166.2" y="441.3" width="1.6" height="1.6" fill="#f07a2e"/>
<rect x="166.3" y="436.3" width="1.6" height="1.6" fill="#f07a2e"/>
<rect x="166.4" y="432.5" width="1.6" height="1.6" fill="#f07a2e"/>
<rect x="166.4" y="439.2" width="1.6" height="1.6" fill="#f07a2e"/>
<rect x="166.7" y="435.8" width="1.6" height="1.6" fill="#f07a2e"/>
<rect x="166.8" y="439.2" width="1.6" height="1.6" fill="#f07a2e"/>
<rect x="166.9" y="443.2" width="1.6" height="1.6" fill="#f07a2e"/>
<rect x="166.7" y="442.6" width="1.6" height="1.6" fill="#f07a2e"/>
<rect x="166.8" y="438.3" width="1.6" height="1.6" fill="#f07a2e"/>
<rect x="167.4" y="439.4" width="1.6" height="1.6" fill="#f07a2e"/>
<rect x="167.4" y="453.5" width="1.6" height="1.6" fill="#f07a2e"/>
<rect x="167.6" y="436.8" width="1.6" height="1.6" fill="#f07a2e"/>
<rect x="167.7" y="441.2" width="1.6" height="1.6" fill="#f07a2e"/>
<rect x="167.8" y="462.6" width="1.6" height="1.6" fill="#f07a2e"/>
<rect x="167.6" y="435.6" width="1.6" height="1.6" fill="#f07a2e"/>
<rect x="168.2" y="439.7" width="1.6" height="1.6" fill="#f07a2e"/>
<rect x="168.3" y="443.2" width="1.6" height="1.6" fill="#f07a2e"/>
<rect x="168.6" y="442.6" width="1.6" height="1.6" fill="#f07a2e"/>
<rect x="168.4" y="444.3" width="1.6" height="1.6" fill="#f07a2e"/>
<rect x="168.7" y="442.0" width="1.6" height="1.6" fill="#f07a2e"/>
<rect x="169.3" y="437.1" width="1.6" height="1.6" fill="#f07a2e"/>
<rect x="169.4" y="440.7" width="1.6" height="1.6" fill="#f07a2e"/>
<rect x="169.4" y="437.8" width="1.6" height="1.6" fill="#f07a2e"/>
<rect x="169.7" y="437.7" width="1.6" height="1.6" fill="#f07a2e"/>
<rect x="169.8" y="442.6" width="1.6" height="1.6" fill="#f07a2e"/>
<rect x="169.6" y="442.7" width="1.6" height="1.6" fill="#f07a2e"/>
<rect x="170.1" y="441.2" width="1.6" height="1.6" fill="#f07a2e"/>
<rect x="170.1" y="441.7" width="1.6" height="1.6" fill="#f07a2e"/>
<rect x="170.1" y="440.4" width="1.6" height="1.6" fill="#f07a2e"/>
<rect x="170.1" y="443.0" width="1.6" height="1.6" fill="#f07a2e"/>
<rect x="170.3" y="447.9" width="1.6" height="1.6" fill="#f07a2e"/>
<rect x="170.4" y="437.8" width="1.6" height="1.6" fill="#f07a2e"/>
<rect x="170.1" y="439.7" width="1.6" height="1.6" fill="#f07a2e"/>
<rect x="171.1" y="441.1" width="1.6" height="1.6" fill="#f07a2e"/>
<rect x="171.1" y="433.4" width="1.6" height="1.6" fill="#f07a2e"/>
<rect x="170.9" y="434.1" width="1.6" height="1.6" fill="#f07a2e"/>
<rect x="171.0" y="445.2" width="1.6" height="1.6" fill="#f07a2e"/>
<rect x="171.3" y="441.9" width="1.6" height="1.6" fill="#f07a2e"/>
<rect x="171.2" y="433.8" width="1.6" height="1.6" fill="#f07a2e"/>
<rect x="171.1" y="435.3" width="1.6" height="1.6" fill="#f07a2e"/>
<rect x="171.9" y="441.2" width="1.6" height="1.6" fill="#f07a2e"/>
<rect x="172.1" y="441.9" width="1.6" height="1.6" fill="#f07a2e"/>
<rect x="172.0" y="441.6" width="1.6" height="1.6" fill="#f07a2e"/>
<rect x="172.2" y="441.8" width="1.6" height="1.6" fill="#f07a2e"/>
<rect x="172.5" y="441.8" width="1.6" height="1.6" fill="#f07a2e"/>
<rect x="171.9" y="440.9" width="1.6" height="1.6" fill="#f07a2e"/>
<rect x="172.8" y="443.3" width="1.6" height="1.6" fill="#f07a2e"/>
<rect x="173.1" y="438.8" width="1.6" height="1.6" fill="#f07a2e"/>
<rect x="172.8" y="440.0" width="1.6" height="1.6" fill="#f07a2e"/>
<rect x="173.1" y="442.4" width="1.6" height="1.6" fill="#f07a2e"/>
<rect x="173.2" y="437.2" width="1.6" height="1.6" fill="#f07a2e"/>
<rect x="173.1" y="437.9" width="1.6" height="1.6" fill="#f07a2e"/>
<rect x="173.5" y="442.8" width="1.6" height="1.6" fill="#f07a2e"/>
<rect x="173.4" y="433.2" width="1.6" height="1.6" fill="#f07a2e"/>
<rect x="174.1" y="434.3" width="1.6" height="1.6" fill="#f07a2e"/>
<rect x="174.2" y="445.6" width="1.6" height="1.6" fill="#f07a2e"/>
<rect x="174.5" y="440.3" width="1.6" height="1.6" fill="#f07a2e"/>
<rect x="174.6" y="440.6" width="1.6" height="1.6" fill="#f07a2e"/>
<rect x="175.1" y="444.5" width="1.6" height="1.6" fill="#f07a2e"/>
<rect x="175.0" y="453.6" width="1.6" height="1.6" fill="#f07a2e"/>
<rect x="175.3" y="444.6" width="1.6" height="1.6" fill="#f07a2e"/>
<rect x="175.3" y="443.6" width="1.6" height="1.6" fill="#f07a2e"/>
<rect x="175.6" y="441.7" width="1.6" height="1.6" fill="#f07a2e"/>
<rect x="175.8" y="446.5" width="1.6" height="1.6" fill="#f07a2e"/>
<rect x="175.8" y="437.4" width="1.6" height="1.6" fill="#f07a2e"/>
<rect x="175.6" y="443.5" width="1.6" height="1.6" fill="#f07a2e"/>
<rect x="175.6" y="447.5" width="1.6" height="1.6" fill="#f07a2e"/>
<rect x="175.7" y="441.9" width="1.6" height="1.6" fill="#f07a2e"/>
<rect x="176.2" y="442.4" width="1.6" height="1.6" fill="#f07a2e"/>
<rect x="176.0" y="443.8" width="1.6" height="1.6" fill="#f07a2e"/>
<rect x="176.9" y="444.2" width="1.6" height="1.6" fill="#f07a2e"/>
<rect x="177.1" y="464.5" width="1.6" height="1.6" fill="#f07a2e"/>
<rect x="176.8" y="440.9" width="1.6" height="1.6" fill="#f07a2e"/>
<rect x="176.7" y="435.3" width="1.6" height="1.6" fill="#f07a2e"/>
<rect x="177.3" y="439.0" width="1.6" height="1.6" fill="#f07a2e"/>
<rect x="177.3" y="456.6" width="1.6" height="1.6" fill="#f07a2e"/>
<rect x="177.0" y="446.6" width="1.6" height="1.6" fill="#f07a2e"/>
<rect x="177.0" y="441.6" width="1.6" height="1.6" fill="#f07a2e"/>
<rect x="177.8" y="440.9" width="1.6" height="1.6" fill="#f07a2e"/>
<rect x="177.8" y="454.0" width="1.6" height="1.6" fill="#f07a2e"/>
<rect x="177.5" y="446.6" width="1.6" height="1.6" fill="#f07a2e"/>
<rect x="178.0" y="440.6" width="1.6" height="1.6" fill="#f07a2e"/>
<rect x="178.0" y="444.7" width="1.6" height="1.6" fill="#f07a2e"/>
<rect x="178.7" y="447.5" width="1.6" height="1.6" fill="#f07a2e"/>
<rect x="178.4" y="435.8" width="1.6" height="1.6" fill="#f07a2e"/>
<rect x="178.4" y="433.7" width="1.6" height="1.6" fill="#f07a2e"/>
<rect x="179.0" y="444.7" width="1.6" height="1.6" fill="#f07a2e"/>
<rect x="179.0" y="438.6" width="1.6" height="1.6" fill="#f07a2e"/>
<rect x="179.2" y="440.0" width="1.6" height="1.6" fill="#f07a2e"/>
<rect x="179.2" y="442.0" width="1.6" height="1.6" fill="#f07a2e"/>
<rect x="180.0" y="440.0" width="1.6" height="1.6" fill="#f07a2e"/>
<rect x="180.2" y="453.6" width="1.6" height="1.6" fill="#f07a2e"/>
<rect x="179.7" y="436.7" width="1.6" height="1.6" fill="#f07a2e"/>
<rect x="180.2" y="448.0" width="1.6" height="1.6" fill="#f07a2e"/>
<rect x="180.4" y="443.2" width="1.6" height="1.6" fill="#f07a2e"/>
<rect x="180.5" y="433.9" width="1.6" height="1.6" fill="#f07a2e"/>
<rect x="180.5" y="439.0" width="1.6" height="1.6" fill="#f07a2e"/>
<rect x="180.4" y="441.6" width="1.6" height="1.6" fill="#f07a2e"/>
<rect x="181.4" y="445.0" width="1.6" height="1.6" fill="#f07a2e"/>
<rect x="181.1" y="451.9" width="1.6" height="1.6" fill="#f07a2e"/>
<rect x="181.2" y="436.7" width="1.6" height="1.6" fill="#f07a2e"/>
<rect x="181.5" y="433.5" width="1.6" height="1.6" fill="#f07a2e"/>
<rect x="181.8" y="443.3" width="1.6" height="1.6" fill="#f07a2e"/>
<rect x="182.0" y="445.7" width="1.6" height="1.6" fill="#f07a2e"/>
<rect x="181.9" y="443.8" width="1.6" height="1.6" fill="#f07a2e"/>
<rect x="182.1" y="465.6" width="1.6" height="1.6" fill="#f07a2e"/>
<rect x="181.9" y="438.2" width="1.6" height="1.6" fill="#f07a2e"/>
<rect x="182.5" y="447.1" width="1.6" height="1.6" fill="#f07a2e"/>
<rect x="182.4" y="434.2" width="1.6" height="1.6" fill="#f07a2e"/>
<rect x="182.6" y="435.5" width="1.6" height="1.6" fill="#f07a2e"/>
<rect x="183.2" y="443.0" width="1.6" height="1.6" fill="#f07a2e"/>
<rect x="183.1" y="460.1" width="1.6" height="1.6" fill="#f07a2e"/>
<rect x="183.0" y="440.6" width="1.6" height="1.6" fill="#f07a2e"/>
<rect x="183.3" y="444.6" width="1.6" height="1.6" fill="#f07a2e"/>
<rect x="183.6" y="443.2" width="1.6" height="1.6" fill="#f07a2e"/>
<rect x="183.3" y="437.7" width="1.6" height="1.6" fill="#f07a2e"/>
<rect x="183.8" y="442.6" width="1.6" height="1.6" fill="#f07a2e"/>
<rect x="184.1" y="466.0" width="1.6" height="1.6" fill="#f07a2e"/>
<rect x="183.6" y="446.5" width="1.6" height="1.6" fill="#f07a2e"/>
<rect x="184.1" y="450.4" width="1.6" height="1.6" fill="#f07a2e"/>
<rect x="184.4" y="433.8" width="1.6" height="1.6" fill="#f07a2e"/>
<rect x="184.7" y="443.8" width="1.6" height="1.6" fill="#f07a2e"/>
<rect x="184.5" y="440.0" width="1.6" height="1.6" fill="#f07a2e"/>
<rect x="185.1" y="443.9" width="1.6" height="1.6" fill="#f07a2e"/>
<rect x="185.2" y="450.8" width="1.6" height="1.6" fill="#f07a2e"/>
<rect x="184.9" y="434.9" width="1.6" height="1.6" fill="#f07a2e"/>
<rect x="185.1" y="441.0" width="1.6" height="1.6" fill="#f07a2e"/>
<rect x="185.6" y="445.3" width="1.6" height="1.6" fill="#f07a2e"/>
<rect x="185.8" y="463.6" width="1.6" height="1.6" fill="#f07a2e"/>
<rect x="185.4" y="434.7" width="1.6" height="1.6" fill="#f07a2e"/>
<rect x="185.5" y="444.3" width="1.6" height="1.6" fill="#f07a2e"/>
<rect x="185.9" y="440.8" width="1.6" height="1.6" fill="#f07a2e"/>
<rect x="186.1" y="446.5" width="1.6" height="1.6" fill="#f07a2e"/>
<rect x="185.6" y="447.2" width="1.6" height="1.6" fill="#f07a2e"/>
<rect x="186.6" y="445.7" width="1.6" height="1.6" fill="#f07a2e"/>
<rect x="186.8" y="453.8" width="1.6" height="1.6" fill="#f07a2e"/>
<rect x="186.4" y="439.4" width="1.6" height="1.6" fill="#f07a2e"/>
<rect x="186.3" y="441.6" width="1.6" height="1.6" fill="#f07a2e"/>
<rect x="187.0" y="442.6" width="1.6" height="1.6" fill="#f07a2e"/>
<rect x="187.4" y="444.1" width="1.6" height="1.6" fill="#f07a2e"/>
<rect x="187.5" y="434.9" width="1.6" height="1.6" fill="#f07a2e"/>
<rect x="188.2" y="440.8" width="1.6" height="1.6" fill="#f07a2e"/>
<rect x="188.2" y="445.6" width="1.6" height="1.6" fill="#f07a2e"/>
<rect x="188.5" y="437.4" width="1.6" height="1.6" fill="#f07a2e"/>
<rect x="188.0" y="437.8" width="1.6" height="1.6" fill="#f07a2e"/>
<rect x="188.6" y="445.8" width="1.6" height="1.6" fill="#f07a2e"/>
<rect x="188.3" y="443.1" width="1.6" height="1.6" fill="#f07a2e"/>
<rect x="188.6" y="444.6" width="1.6" height="1.6" fill="#f07a2e"/>
<rect x="188.6" y="444.7" width="1.6" height="1.6" fill="#f07a2e"/>
<rect x="188.3" y="436.0" width="1.6" height="1.6" fill="#f07a2e"/>
<rect x="188.6" y="438.3" width="1.6" height="1.6" fill="#f07a2e"/>
<rect x="189.1" y="443.2" width="1.6" height="1.6" fill="#f07a2e"/>
<rect x="189.3" y="450.2" width="1.6" height="1.6" fill="#f07a2e"/>
<rect x="189.1" y="445.4" width="1.6" height="1.6" fill="#f07a2e"/>
<rect x="189.3" y="448.2" width="1.6" height="1.6" fill="#f07a2e"/>
<rect x="189.7" y="439.7" width="1.6" height="1.6" fill="#f07a2e"/>
<rect x="189.6" y="460.6" width="1.6" height="1.6" fill="#f07a2e"/>
<rect x="189.6" y="437.9" width="1.6" height="1.6" fill="#f07a2e"/>
<rect x="190.1" y="437.0" width="1.6" height="1.6" fill="#f07a2e"/>
<rect x="190.9" y="448.3" width="1.6" height="1.6" fill="#f07a2e"/>
<rect x="191.1" y="467.6" width="1.6" height="1.6" fill="#f07a2e"/>
<rect x="190.8" y="444.0" width="1.6" height="1.6" fill="#f07a2e"/>
<rect x="190.9" y="435.5" width="1.6" height="1.6" fill="#f07a2e"/>
<path d="M46.4,411.8 C48.4,411.9 53.2,411.8 58.2,412.4 C63.2,413.0 70.4,414.2 76.4,415.5 C82.5,416.8 88.5,418.6 94.5,420.4 C100.5,422.2 106.8,424.5 112.7,426.4 C118.6,428.3 124.1,430.1 130.0,431.8 C135.9,433.5 142.1,434.9 148.2,436.4 C154.3,437.9 159.1,439.2 166.4,440.9 C173.7,442.6 187.6,445.5 191.8,446.4" fill="none" stroke="#111" stroke-width="1.9"/>
<circle cx="55.5" cy="454.7" r="3.7" fill="#f07a2e"/>
<circle cx="55.5" cy="466.9" r="3.7" fill="#111"/>
<text x="64.5" y="457.2" font-size="7.1" fill="#1a1a1a" font-family="Liberation Sans, sans-serif">Experimental data</text>
<text x="64.5" y="469.4" font-size="7.1" fill="#1a1a1a" font-family="Liberation Sans, sans-serif">Docked model</text>
<path d="M305,385 H423.6 V472" fill="none" stroke="#c8c8c8" stroke-width="1"/>
<path d="M305,354.4 V472 H510.3" fill="none" stroke="#6e6e6e" stroke-width="1.3"/>
<text x="299.8" y="364.0" text-anchor="end" font-size="8.2" fill="#1a1a1a" font-family="Liberation Serif, serif">1.4</text>
<text x="299.8" y="380.6" text-anchor="end" font-size="8.2" fill="#1a1a1a" font-family="Liberation Serif, serif">1.2</text>
<text x="299.8" y="396.6" text-anchor="end" font-size="8.2" fill="#1a1a1a" font-family="Liberation Serif, serif">1.0</text>
<text x="299.8" y="412.6" text-anchor="end" font-size="8.2" fill="#1a1a1a" font-family="Liberation Serif, serif">0.8</text>
<text x="299.8" y="428.2" text-anchor="end" font-size="8.2" fill="#1a1a1a" font-family="Liberation Serif, serif">0.6</text>
<text x="299.8" y="443.6" text-anchor="end" font-size="8.2" fill="#1a1a1a" font-family="Liberation Serif, serif">0.4</text>
<text x="299.8" y="459.6" text-anchor="end" font-size="8.2" fill="#1a1a1a" font-family="Liberation Serif, serif">0.2</text>
<text x="299.8" y="474.1" text-anchor="end" font-size="8.2" fill="#1a1a1a" font-family="Liberation Serif, serif">0</text>
<text x="305" y="481.6" text-anchor="middle" font-size="8.2" fill="#1a1a1a" font-family="Liberation Serif, serif">0</text>
<text x="338.5" y="481.6" text-anchor="middle" font-size="8.2" fill="#1a1a1a" font-family="Liberation Serif, serif">0.5</text>
<text x="374.4" y="481.6" text-anchor="middle" font-size="8.2" fill="#1a1a1a" font-family="Liberation Serif, serif">1</text>
<text x="406.5" y="481.6" text-anchor="middle" font-size="8.2" fill="#1a1a1a" font-family="Liberation Serif, serif">1.5</text>
<text x="440.4" y="481.6" text-anchor="middle" font-size="8.2" fill="#1a1a1a" font-family="Liberation Serif, serif">2</text>
<text x="475.5" y="481.6" text-anchor="middle" font-size="8.2" fill="#1a1a1a" font-family="Liberation Serif, serif">2.5</text>
<text x="505.5" y="481.6" text-anchor="middle" font-size="8.2" fill="#1a1a1a" font-family="Liberation Serif, serif">3</text>
<text x="407.7" y="493" text-anchor="middle" font-size="10.2" textLength="21.4" lengthAdjust="spacingAndGlyphs" fill="#111" font-family="Liberation Sans, sans-serif">q*Rg</text>
<text transform="translate(282.4,422) rotate(-90)" text-anchor="middle" font-size="10" fill="#111" font-family="Liberation Sans, sans-serif">I(q)/I(0)*(q*Rg)2</text>
<rect x="323.7" y="464.9" width="1.7" height="1.7" fill="#f07a2e"/>
<rect x="325.2" y="463.0" width="1.7" height="1.7" fill="#f07a2e"/>
<rect x="325.4" y="462.8" width="1.7" height="1.7" fill="#f07a2e"/>
<rect x="329.2" y="460.7" width="1.7" height="1.7" fill="#f07a2e"/>
<rect x="328.8" y="464.2" width="1.7" height="1.7" fill="#f07a2e"/>
<rect x="331.7" y="461.7" width="1.7" height="1.7" fill="#f07a2e"/>
<rect x="329.4" y="460.8" width="1.7" height="1.7" fill="#f07a2e"/>
<rect x="329.4" y="460.3" width="1.7" height="1.7" fill="#f07a2e"/>
<rect x="330.5" y="459.1" width="1.7" height="1.7" fill="#f07a2e"/>
<rect x="329.2" y="457.5" width="1.7" height="1.7" fill="#f07a2e"/>
<rect x="331.1" y="459.7" width="1.7" height="1.7" fill="#f07a2e"/>
<rect x="331.8" y="457.1" width="1.7" height="1.7" fill="#f07a2e"/>
<rect x="336.0" y="456.7" width="1.7" height="1.7" fill="#f07a2e"/>
<rect x="333.6" y="455.2" width="1.7" height="1.7" fill="#f07a2e"/>
<rect x="335.9" y="455.0" width="1.7" height="1.7" fill="#f07a2e"/>
<rect x="335.4" y="457.1" width="1.7" height="1.7" fill="#f07a2e"/>
<rect x="335.9" y="454.6" width="1.7" height="1.7" fill="#f07a2e"/>
<rect x="336.8" y="455.8" width="1.7" height="1.7" fill="#f07a2e"/>
<rect x="336.7" y="453.1" width="1.7" height="1.7" fill="#f07a2e"/>
<rect x="337.4" y="454.7" width="1.7" height="1.7" fill="#f07a2e"/>
<rect x="335.7" y="449.4" width="1.7" height="1.7" fill="#f07a2e"/>
<rect x="339.2" y="451.1" width="1.7" height="1.7" fill="#f07a2e"/>
<rect x="340.4" y="451.0" width="1.7" height="1.7" fill="#f07a2e"/>
<rect x="337.8" y="452.2" width="1.7" height="1.7" fill="#f07a2e"/>
<rect x="339.6" y="451.8" width="1.7" height="1.7" fill="#f07a2e"/>
<rect x="341.6" y="448.4" width="1.7" height="1.7" fill="#f07a2e"/>
<rect x="340.4" y="444.7" width="1.7" height="1.7" fill="#f07a2e"/>
<rect x="341.2" y="444.5" width="1.7" height="1.7" fill="#f07a2e"/>
<rect x="340.1" y="446.0" width="1.7" height="1.7" fill="#f07a2e"/>
<rect x="345.9" y="443.8" width="1.7" height="1.7" fill="#f07a2e"/>
<rect x="343.0" y="443.8" width="1.7" height="1.7" fill="#f07a2e"/>
<rect x="343.7" y="445.6" width="1.7" height="1.7" fill="#f07a2e"/>
<rect x="343.3" y="446.8" width="1.7" height="1.7" fill="#f07a2e"/>
<rect x="344.3" y="443.2" width="1.7" height="1.7" fill="#f07a2e"/>
<rect x="344.6" y="443.5" width="1.7" height="1.7" fill="#f07a2e"/>
<rect x="346.9" y="442.2" width="1.7" height="1.7" fill="#f07a2e"/>
<rect x="347.6" y="444.1" width="1.7" height="1.7" fill="#f07a2e"/>
<rect x="346.9" y="447.9" width="1.7" height="1.7" fill="#f07a2e"/>
<rect x="350.0" y="443.6" width="1.7" height="1.7" fill="#f07a2e"/>
<rect x="348.2" y="440.6" width="1.7" height="1.7" fill="#f07a2e"/>
<rect x="349.5" y="441.5" width="1.7" height="1.7" fill="#f07a2e"/>
<rect x="349.8" y="435.6" width="1.7" height="1.7" fill="#f07a2e"/>
<rect x="350.2" y="437.9" width="1.7" height="1.7" fill="#f07a2e"/>
<rect x="351.8" y="437.8" width="1.7" height="1.7" fill="#f07a2e"/>
<rect x="352.4" y="440.6" width="1.7" height="1.7" fill="#f07a2e"/>
<rect x="352.4" y="438.6" width="1.7" height="1.7" fill="#f07a2e"/>
<rect x="351.9" y="435.0" width="1.7" height="1.7" fill="#f07a2e"/>
<rect x="353.1" y="434.8" width="1.7" height="1.7" fill="#f07a2e"/>
<rect x="354.5" y="433.9" width="1.7" height="1.7" fill="#f07a2e"/>
<rect x="356.4" y="435.0" width="1.7" height="1.7" fill="#f07a2e"/>
<rect x="354.4" y="434.9" width="1.7" height="1.7" fill="#f07a2e"/>
<rect x="357.5" y="433.8" width="1.7" height="1.7" fill="#f07a2e"/>
<rect x="356.4" y="433.1" width="1.7" height="1.7" fill="#f07a2e"/>
<rect x="354.7" y="432.0" width="1.7" height="1.7" fill="#f07a2e"/>
<rect x="357.4" y="432.2" width="1.7" height="1.7" fill="#f07a2e"/>
<rect x="357.5" y="436.8" width="1.7" height="1.7" fill="#f07a2e"/>
<rect x="357.9" y="434.9" width="1.7" height="1.7" fill="#f07a2e"/>
<rect x="358.2" y="426.5" width="1.7" height="1.7" fill="#f07a2e"/>
<rect x="360.7" y="431.0" width="1.7" height="1.7" fill="#f07a2e"/>
<rect x="361.3" y="431.2" width="1.7" height="1.7" fill="#f07a2e"/>
<rect x="359.5" y="425.7" width="1.7" height="1.7" fill="#f07a2e"/>
<rect x="362.7" y="425.7" width="1.7" height="1.7" fill="#f07a2e"/>
<rect x="363.6" y="429.5" width="1.7" height="1.7" fill="#f07a2e"/>
<rect x="362.0" y="430.2" width="1.7" height="1.7" fill="#f07a2e"/>
<rect x="363.0" y="426.9" width="1.7" height="1.7" fill="#f07a2e"/>
<rect x="365.2" y="424.2" width="1.7" height="1.7" fill="#f07a2e"/>
<rect x="364.1" y="420.3" width="1.7" height="1.7" fill="#f07a2e"/>
<rect x="362.5" y="428.2" width="1.7" height="1.7" fill="#f07a2e"/>
<rect x="365.8" y="423.5" width="1.7" height="1.7" fill="#f07a2e"/>
<rect x="366.1" y="420.8" width="1.7" height="1.7" fill="#f07a2e"/>
<rect x="366.0" y="424.3" width="1.7" height="1.7" fill="#f07a2e"/>
<rect x="366.4" y="417.2" width="1.7" height="1.7" fill="#f07a2e"/>
<rect x="365.1" y="419.0" width="1.7" height="1.7" fill="#f07a2e"/>
<rect x="369.2" y="421.8" width="1.7" height="1.7" fill="#f07a2e"/>
<rect x="368.3" y="418.1" width="1.7" height="1.7" fill="#f07a2e"/>
<rect x="370.3" y="424.1" width="1.7" height="1.7" fill="#f07a2e"/>
<rect x="370.8" y="418.9" width="1.7" height="1.7" fill="#f07a2e"/>
<rect x="368.9" y="417.4" width="1.7" height="1.7" fill="#f07a2e"/>
<rect x="369.0" y="415.3" width="1.7" height="1.7" fill="#f07a2e"/>
<rect x="370.4" y="411.1" width="1.7" height="1.7" fill="#f07a2e"/>
<rect x="372.0" y="415.0" width="1.7" height="1.7" fill="#f07a2e"/>
<rect x="372.2" y="416.5" width="1.7" height="1.7" fill="#f07a2e"/>
<rect x="372.4" y="415.6" width="1.7" height="1.7" fill="#f07a2e"/>
<rect x="374.6" y="413.5" width="1.7" height="1.7" fill="#f07a2e"/>
<rect x="376.4" y="412.6" width="1.7" height="1.7" fill="#f07a2e"/>
<rect x="374.7" y="412.4" width="1.7" height="1.7" fill="#f07a2e"/>
<rect x="373.9" y="410.6" width="1.7" height="1.7" fill="#f07a2e"/>
<rect x="377.1" y="419.3" width="1.7" height="1.7" fill="#f07a2e"/>
<rect x="377.1" y="407.2" width="1.7" height="1.7" fill="#f07a2e"/>
<rect x="378.1" y="410.5" width="1.7" height="1.7" fill="#f07a2e"/>
<rect x="378.3" y="407.1" width="1.7" height="1.7" fill="#f07a2e"/>
<rect x="377.6" y="413.2" width="1.7" height="1.7" fill="#f07a2e"/>
<rect x="378.9" y="411.8" width="1.7" height="1.7" fill="#f07a2e"/>
<rect x="380.1" y="408.4" width="1.7" height="1.7" fill="#f07a2e"/>
<rect x="380.3" y="408.6" width="1.7" height="1.7" fill="#f07a2e"/>
<rect x="378.6" y="412.2" width="1.7" height="1.7" fill="#f07a2e"/>
<rect x="378.7" y="409.2" width="1.7" height="1.7" fill="#f07a2e"/>
<rect x="383.2" y="406.5" width="1.7" height="1.7" fill="#f07a2e"/>
<rect x="382.9" y="399.2" width="1.7" height="1.7" fill="#f07a2e"/>
<rect x="381.9" y="408.3" width="1.7" height="1.7" fill="#f07a2e"/>
<rect x="385.7" y="409.9" width="1.7" height="1.7" fill="#f07a2e"/>
<rect x="382.3" y="403.9" width="1.7" height="1.7" fill="#f07a2e"/>
<rect x="386.3" y="406.4" width="1.7" height="1.7" fill="#f07a2e"/>
<rect x="386.0" y="398.8" width="1.7" height="1.7" fill="#f07a2e"/>
<rect x="385.8" y="407.9" width="1.7" height="1.7" fill="#f07a2e"/>
<rect x="385.8" y="403.1" width="1.7" height="1.7" fill="#f07a2e"/>
<rect x="387.6" y="394.8" width="1.7" height="1.7" fill="#f07a2e"/>
<rect x="388.1" y="396.4" width="1.7" height="1.7" fill="#f07a2e"/>
<rect x="387.5" y="409.8" width="1.7" height="1.7" fill="#f07a2e"/>
<rect x="390.0" y="400.1" width="1.7" height="1.7" fill="#f07a2e"/>
<rect x="390.2" y="394.8" width="1.7" height="1.7" fill="#f07a2e"/>
<rect x="389.1" y="387.5" width="1.7" height="1.7" fill="#f07a2e"/>
<rect x="388.0" y="397.7" width="1.7" height="1.7" fill="#f07a2e"/>
<rect x="390.4" y="390.1" width="1.7" height="1.7" fill="#f07a2e"/>
<rect x="392.3" y="391.6" width="1.7" height="1.7" fill="#f07a2e"/>
<rect x="393.7" y="390.4" width="1.7" height="1.7" fill="#f07a2e"/>
<rect x="393.0" y="381.9" width="1.7" height="1.7" fill="#f07a2e"/>
<rect x="392.8" y="389.5" width="1.7" height="1.7" fill="#f07a2e"/>
<rect x="392.9" y="388.7" width="1.7" height="1.7" fill="#f07a2e"/>
<rect x="393.2" y="390.5" width="1.7" height="1.7" fill="#f07a2e"/>
<rect x="396.3" y="384.7" width="1.7" height="1.7" fill="#f07a2e"/>
<rect x="397.8" y="391.1" width="1.7" height="1.7" fill="#f07a2e"/>
<rect x="395.0" y="386.8" width="1.7" height="1.7" fill="#f07a2e"/>
<rect x="397.4" y="398.6" width="1.7" height="1.7" fill="#f07a2e"/>
<rect x="396.7" y="383.1" width="1.7" height="1.7" fill="#f07a2e"/>
<rect x="398.3" y="387.7" width="1.7" height="1.7" fill="#f07a2e"/>
<rect x="399.2" y="385.4" width="1.7" height="1.7" fill="#f07a2e"/>
<rect x="398.0" y="390.8" width="1.7" height="1.7" fill="#f07a2e"/>
<rect x="398.7" y="387.5" width="1.7" height="1.7" fill="#f07a2e"/>
<rect x="401.1" y="380.2" width="1.7" height="1.7" fill="#f07a2e"/>
<rect x="400.6" y="378.2" width="1.7" height="1.7" fill="#f07a2e"/>
<rect x="400.1" y="380.4" width="1.7" height="1.7" fill="#f07a2e"/>
<rect x="402.0" y="381.0" width="1.7" height="1.7" fill="#f07a2e"/>
<rect x="401.3" y="389.6" width="1.7" height="1.7" fill="#f07a2e"/>
<rect x="401.3" y="391.2" width="1.7" height="1.7" fill="#f07a2e"/>
<rect x="402.9" y="394.5" width="1.7" height="1.7" fill="#f07a2e"/>
<rect x="403.9" y="378.3" width="1.7" height="1.7" fill="#f07a2e"/>
<rect x="405.7" y="362.0" width="1.7" height="1.7" fill="#f07a2e"/>
<rect x="406.0" y="379.2" width="1.7" height="1.7" fill="#f07a2e"/>
<rect x="405.8" y="379.6" width="1.7" height="1.7" fill="#f07a2e"/>
<rect x="404.6" y="377.0" width="1.7" height="1.7" fill="#f07a2e"/>
<rect x="404.8" y="376.9" width="1.7" height="1.7" fill="#f07a2e"/>
<rect x="407.3" y="373.3" width="1.7" height="1.7" fill="#f07a2e"/>
<rect x="408.9" y="381.7" width="1.7" height="1.7" fill="#f07a2e"/>
<rect x="408.5" y="388.0" width="1.7" height="1.7" fill="#f07a2e"/>
<rect x="409.4" y="378.5" width="1.7" height="1.7" fill="#f07a2e"/>
<rect x="410.6" y="378.9" width="1.7" height="1.7" fill="#f07a2e"/>
<rect x="409.5" y="381.6" width="1.7" height="1.7" fill="#f07a2e"/>
<rect x="411.0" y="369.2" width="1.7" height="1.7" fill="#f07a2e"/>
<rect x="412.3" y="380.5" width="1.7" height="1.7" fill="#f07a2e"/>
<rect x="412.6" y="381.5" width="1.7" height="1.7" fill="#f07a2e"/>
<rect x="412.1" y="373.0" width="1.7" height="1.7" fill="#f07a2e"/>
<rect x="411.5" y="375.3" width="1.7" height="1.7" fill="#f07a2e"/>
<rect x="412.3" y="389.6" width="1.7" height="1.7" fill="#f07a2e"/>
<rect x="411.9" y="375.6" width="1.7" height="1.7" fill="#f07a2e"/>
<rect x="414.8" y="374.6" width="1.7" height="1.7" fill="#f07a2e"/>
<rect x="417.8" y="376.4" width="1.7" height="1.7" fill="#f07a2e"/>
<rect x="415.5" y="388.5" width="1.7" height="1.7" fill="#f07a2e"/>
<rect x="415.2" y="372.5" width="1.7" height="1.7" fill="#f07a2e"/>
<rect x="419.1" y="377.9" width="1.7" height="1.7" fill="#f07a2e"/>
<rect x="419.0" y="381.8" width="1.7" height="1.7" fill="#f07a2e"/>
<rect x="418.9" y="381.6" width="1.7" height="1.7" fill="#f07a2e"/>
<rect x="420.5" y="382.0" width="1.7" height="1.7" fill="#f07a2e"/>
<rect x="419.7" y="381.5" width="1.7" height="1.7" fill="#f07a2e"/>
<rect x="421.1" y="372.9" width="1.7" height="1.7" fill="#f07a2e"/>
<rect x="421.5" y="374.7" width="1.7" height="1.7" fill="#f07a2e"/>
<rect x="420.5" y="377.8" width="1.7" height="1.7" fill="#f07a2e"/>
<rect x="421.5" y="378.9" width="1.7" height="1.7" fill="#f07a2e"/>
<rect x="411.7" y="368.2" width="1.7" height="1.7" fill="#f07a2e"/>
<rect x="411.6" y="371.5" width="1.7" height="1.7" fill="#f07a2e"/>
<rect x="413.1" y="367.0" width="1.7" height="1.7" fill="#f07a2e"/>
<rect x="412.7" y="364.4" width="1.7" height="1.7" fill="#f07a2e"/>
<rect x="414.0" y="384.0" width="1.7" height="1.7" fill="#f07a2e"/>
<rect x="413.5" y="365.0" width="1.7" height="1.7" fill="#f07a2e"/>
<rect x="413.9" y="371.4" width="1.7" height="1.7" fill="#f07a2e"/>
<rect x="413.6" y="376.4" width="1.7" height="1.7" fill="#f07a2e"/>
<rect x="415.0" y="379.9" width="1.7" height="1.7" fill="#f07a2e"/>
<rect x="414.8" y="360.4" width="1.7" height="1.7" fill="#f07a2e"/>
<rect x="416.1" y="369.5" width="1.7" height="1.7" fill="#f07a2e"/>
<rect x="416.7" y="368.5" width="1.7" height="1.7" fill="#f07a2e"/>
<rect x="417.6" y="367.2" width="1.7" height="1.7" fill="#f07a2e"/>
<rect x="417.4" y="381.3" width="1.7" height="1.7" fill="#f07a2e"/>
<rect x="418.0" y="364.7" width="1.7" height="1.7" fill="#f07a2e"/>
<rect x="417.2" y="359.5" width="1.7" height="1.7" fill="#f07a2e"/>
<rect x="418.3" y="370.4" width="1.7" height="1.7" fill="#f07a2e"/>
<rect x="418.3" y="369.9" width="1.7" height="1.7" fill="#f07a2e"/>
<rect x="419.8" y="382.6" width="1.7" height="1.7" fill="#f07a2e"/>
<rect x="420.3" y="371.5" width="1.7" height="1.7" fill="#f07a2e"/>
<rect x="420.6" y="368.1" width="1.7" height="1.7" fill="#f07a2e"/>
<rect x="420.4" y="374.7" width="1.7" height="1.7" fill="#f07a2e"/>
<rect x="421.7" y="368.9" width="1.7" height="1.7" fill="#f07a2e"/>
<rect x="421.2" y="365.8" width="1.7" height="1.7" fill="#f07a2e"/>
<rect x="422.1" y="386.5" width="1.7" height="1.7" fill="#f07a2e"/>
<rect x="422.0" y="384.0" width="1.7" height="1.7" fill="#f07a2e"/>
<rect x="422.8" y="365.0" width="1.7" height="1.7" fill="#f07a2e"/>
<rect x="423.1" y="360.9" width="1.7" height="1.7" fill="#f07a2e"/>
<rect x="424.5" y="384.0" width="1.7" height="1.7" fill="#f07a2e"/>
<rect x="424.8" y="358.9" width="1.7" height="1.7" fill="#f07a2e"/>
<rect x="424.5" y="360.6" width="1.7" height="1.7" fill="#f07a2e"/>
<rect x="425.0" y="370.7" width="1.7" height="1.7" fill="#f07a2e"/>
<rect x="426.6" y="376.5" width="1.7" height="1.7" fill="#f07a2e"/>
<rect x="426.0" y="359.3" width="1.7" height="1.7" fill="#f07a2e"/>
<rect x="427.2" y="371.0" width="1.7" height="1.7" fill="#f07a2e"/>
<rect x="427.6" y="363.6" width="1.7" height="1.7" fill="#f07a2e"/>
<rect x="428.0" y="381.2" width="1.7" height="1.7" fill="#f07a2e"/>
<rect x="428.0" y="371.4" width="1.7" height="1.7" fill="#f07a2e"/>
<rect x="428.3" y="384.6" width="1.7" height="1.7" fill="#f07a2e"/>
<rect x="428.8" y="381.0" width="1.7" height="1.7" fill="#f07a2e"/>
<rect x="429.6" y="367.2" width="1.7" height="1.7" fill="#f07a2e"/>
<rect x="429.6" y="376.3" width="1.7" height="1.7" fill="#f07a2e"/>
<rect x="430.6" y="372.4" width="1.7" height="1.7" fill="#f07a2e"/>
<rect x="430.9" y="370.0" width="1.7" height="1.7" fill="#f07a2e"/>
<rect x="432.1" y="358.6" width="1.7" height="1.7" fill="#f07a2e"/>
<rect x="431.8" y="377.3" width="1.7" height="1.7" fill="#f07a2e"/>
<rect x="431.8" y="361.3" width="1.7" height="1.7" fill="#f07a2e"/>
<rect x="432.7" y="368.1" width="1.7" height="1.7" fill="#f07a2e"/>
<rect x="433.1" y="376.3" width="1.7" height="1.7" fill="#f07a2e"/>
<rect x="433.5" y="369.3" width="1.7" height="1.7" fill="#f07a2e"/>
<rect x="434.3" y="368.0" width="1.7" height="1.7" fill="#f07a2e"/>
<rect x="434.5" y="378.9" width="1.7" height="1.7" fill="#f07a2e"/>
<rect x="434.7" y="356.8" width="1.7" height="1.7" fill="#f07a2e"/>
<rect x="435.6" y="361.8" width="1.7" height="1.7" fill="#f07a2e"/>
<rect x="435.3" y="384.6" width="1.7" height="1.7" fill="#f07a2e"/>
<rect x="435.7" y="372.3" width="1.7" height="1.7" fill="#f07a2e"/>
<rect x="437.0" y="382.4" width="1.7" height="1.7" fill="#f07a2e"/>
<rect x="436.9" y="383.9" width="1.7" height="1.7" fill="#f07a2e"/>
<rect x="437.2" y="367.1" width="1.7" height="1.7" fill="#f07a2e"/>
<rect x="437.8" y="368.0" width="1.7" height="1.7" fill="#f07a2e"/>
<rect x="438.5" y="371.1" width="1.7" height="1.7" fill="#f07a2e"/>
<rect x="438.3" y="374.3" width="1.7" height="1.7" fill="#f07a2e"/>
<rect x="439.9" y="363.1" width="1.7" height="1.7" fill="#f07a2e"/>
<rect x="439.0" y="381.6" width="1.7" height="1.7" fill="#f07a2e"/>
<rect x="440.9" y="368.2" width="1.7" height="1.7" fill="#f07a2e"/>
<rect x="440.9" y="378.1" width="1.7" height="1.7" fill="#f07a2e"/>
<rect x="441.3" y="376.7" width="1.7" height="1.7" fill="#f07a2e"/>
<rect x="441.8" y="373.7" width="1.7" height="1.7" fill="#f07a2e"/>
<rect x="442.5" y="355.9" width="1.7" height="1.7" fill="#f07a2e"/>
<rect x="442.1" y="369.6" width="1.7" height="1.7" fill="#f07a2e"/>
<rect x="443.5" y="360.2" width="1.7" height="1.7" fill="#f07a2e"/>
<rect x="443.1" y="373.7" width="1.7" height="1.7" fill="#f07a2e"/>
<rect x="443.6" y="361.9" width="1.7" height="1.7" fill="#f07a2e"/>
<rect x="443.6" y="383.3" width="1.7" height="1.7" fill="#f07a2e"/>
<rect x="445.1" y="371.0" width="1.7" height="1.7" fill="#f07a2e"/>
<rect x="445.3" y="375.5" width="1.7" height="1.7" fill="#f07a2e"/>
<rect x="446.3" y="383.7" width="1.7" height="1.7" fill="#f07a2e"/>
<rect x="445.5" y="367.4" width="1.7" height="1.7" fill="#f07a2e"/>
<rect x="446.3" y="375.4" width="1.7" height="1.7" fill="#f07a2e"/>
<rect x="447.1" y="366.7" width="1.7" height="1.7" fill="#f07a2e"/>
<rect x="447.5" y="380.6" width="1.7" height="1.7" fill="#f07a2e"/>
<rect x="447.6" y="366.0" width="1.7" height="1.7" fill="#f07a2e"/>
<rect x="448.5" y="381.7" width="1.7" height="1.7" fill="#f07a2e"/>
<rect x="448.9" y="369.2" width="1.7" height="1.7" fill="#f07a2e"/>
<rect x="450.1" y="359.3" width="1.7" height="1.7" fill="#f07a2e"/>
<rect x="450.1" y="372.0" width="1.7" height="1.7" fill="#f07a2e"/>
<rect x="450.9" y="375.3" width="1.7" height="1.7" fill="#f07a2e"/>
<rect x="450.2" y="372.9" width="1.7" height="1.7" fill="#f07a2e"/>
<rect x="452.0" y="361.2" width="1.7" height="1.7" fill="#f07a2e"/>
<rect x="451.0" y="373.9" width="1.7" height="1.7" fill="#f07a2e"/>
<rect x="452.1" y="373.8" width="1.7" height="1.7" fill="#f07a2e"/>
<rect x="452.1" y="373.2" width="1.7" height="1.7" fill="#f07a2e"/>
<rect x="452.8" y="369.3" width="1.7" height="1.7" fill="#f07a2e"/>
<rect x="453.6" y="369.8" width="1.7" height="1.7" fill="#f07a2e"/>
<rect x="454.5" y="369.4" width="1.7" height="1.7" fill="#f07a2e"/>
<rect x="453.7" y="365.2" width="1.7" height="1.7" fill="#f07a2e"/>
<rect x="455.5" y="376.0" width="1.7" height="1.7" fill="#f07a2e"/>
<rect x="454.3" y="370.3" width="1.7" height="1.7" fill="#f07a2e"/>
<rect x="456.0" y="369.3" width="1.7" height="1.7" fill="#f07a2e"/>
<rect x="456.5" y="367.6" width="1.7" height="1.7" fill="#f07a2e"/>
<rect x="457.2" y="384.4" width="1.7" height="1.7" fill="#f07a2e"/>
<rect x="456.9" y="364.5" width="1.7" height="1.7" fill="#f07a2e"/>
<rect x="457.2" y="383.4" width="1.7" height="1.7" fill="#f07a2e"/>
<rect x="458.0" y="361.0" width="1.7" height="1.7" fill="#f07a2e"/>
<rect x="458.1" y="368.0" width="1.7" height="1.7" fill="#f07a2e"/>
<rect x="458.1" y="365.5" width="1.7" height="1.7" fill="#f07a2e"/>
<rect x="459.7" y="377.1" width="1.7" height="1.7" fill="#f07a2e"/>
<rect x="459.1" y="365.1" width="1.7" height="1.7" fill="#f07a2e"/>
<rect x="460.5" y="365.1" width="1.7" height="1.7" fill="#f07a2e"/>
<rect x="460.3" y="374.5" width="1.7" height="1.7" fill="#f07a2e"/>
<rect x="462.0" y="367.2" width="1.7" height="1.7" fill="#f07a2e"/>
<rect x="461.3" y="369.9" width="1.7" height="1.7" fill="#f07a2e"/>
<rect x="462.5" y="366.4" width="1.7" height="1.7" fill="#f07a2e"/>
<rect x="462.8" y="372.7" width="1.7" height="1.7" fill="#f07a2e"/>
<rect x="463.6" y="367.3" width="1.7" height="1.7" fill="#f07a2e"/>
<rect x="463.6" y="364.0" width="1.7" height="1.7" fill="#f07a2e"/>
<rect x="464.5" y="361.4" width="1.7" height="1.7" fill="#f07a2e"/>
<rect x="464.7" y="367.8" width="1.7" height="1.7" fill="#f07a2e"/>
<rect x="465.0" y="366.4" width="1.7" height="1.7" fill="#f07a2e"/>
<rect x="465.4" y="372.4" width="1.7" height="1.7" fill="#f07a2e"/>
<rect x="465.8" y="380.5" width="1.7" height="1.7" fill="#f07a2e"/>
<rect x="466.2" y="355.7" width="1.7" height="1.7" fill="#f07a2e"/>
<rect x="466.6" y="379.7" width="1.7" height="1.7" fill="#f07a2e"/>
<rect x="466.4" y="372.3" width="1.7" height="1.7" fill="#f07a2e"/>
<rect x="467.4" y="357.6" width="1.7" height="1.7" fill="#f07a2e"/>
<rect x="467.1" y="375.2" width="1.7" height="1.7" fill="#f07a2e"/>
<rect x="468.1" y="367.7" width="1.7" height="1.7" fill="#f07a2e"/>
<rect x="468.9" y="379.2" width="1.7" height="1.7" fill="#f07a2e"/>
<rect x="468.9" y="371.6" width="1.7" height="1.7" fill="#f07a2e"/>
<rect x="469.6" y="360.6" width="1.7" height="1.7" fill="#f07a2e"/>
<rect x="469.8" y="382.1" width="1.7" height="1.7" fill="#f07a2e"/>
<rect x="470.0" y="377.9" width="1.7" height="1.7" fill="#f07a2e"/>
<rect x="470.9" y="366.2" width="1.7" height="1.7" fill="#f07a2e"/>
<rect x="471.4" y="377.7" width="1.7" height="1.7" fill="#f07a2e"/>
<rect x="471.8" y="376.0" width="1.7" height="1.7" fill="#f07a2e"/>
<rect x="471.8" y="365.2" width="1.7" height="1.7" fill="#f07a2e"/>
<rect x="472.9" y="369.7" width="1.7" height="1.7" fill="#f07a2e"/>
<rect x="473.5" y="371.1" width="1.7" height="1.7" fill="#f07a2e"/>
<rect x="473.7" y="361.5" width="1.7" height="1.7" fill="#f07a2e"/>
<rect x="474.6" y="374.4" width="1.7" height="1.7" fill="#f07a2e"/>
<rect x="475.0" y="358.4" width="1.7" height="1.7" fill="#f07a2e"/>
<rect x="474.9" y="377.8" width="1.7" height="1.7" fill="#f07a2e"/>
<rect x="475.2" y="358.9" width="1.7" height="1.7" fill="#f07a2e"/>
<rect x="476.2" y="373.3" width="1.7" height="1.7" fill="#f07a2e"/>
<rect x="476.8" y="376.2" width="1.7" height="1.7" fill="#f07a2e"/>
<rect x="476.9" y="387.6" width="1.7" height="1.7" fill="#f07a2e"/>
<rect x="477.5" y="364.2" width="1.7" height="1.7" fill="#f07a2e"/>
<rect x="477.8" y="389.5" width="1.7" height="1.7" fill="#f07a2e"/>
<rect x="478.2" y="362.1" width="1.7" height="1.7" fill="#f07a2e"/>
<rect x="478.7" y="388.5" width="1.7" height="1.7" fill="#f07a2e"/>
<rect x="479.0" y="385.9" width="1.7" height="1.7" fill="#f07a2e"/>
<rect x="479.9" y="392.2" width="1.7" height="1.7" fill="#f07a2e"/>
<rect x="480.6" y="382.6" width="1.7" height="1.7" fill="#f07a2e"/>
<rect x="480.3" y="358.5" width="1.7" height="1.7" fill="#f07a2e"/>
<rect x="481.7" y="375.4" width="1.7" height="1.7" fill="#f07a2e"/>
<rect x="481.1" y="386.4" width="1.7" height="1.7" fill="#f07a2e"/>
<rect x="481.8" y="369.8" width="1.7" height="1.7" fill="#f07a2e"/>
<rect x="481.7" y="393.7" width="1.7" height="1.7" fill="#f07a2e"/>
<rect x="482.5" y="375.3" width="1.7" height="1.7" fill="#f07a2e"/>
<rect x="483.4" y="373.9" width="1.7" height="1.7" fill="#f07a2e"/>
<rect x="483.4" y="373.1" width="1.7" height="1.7" fill="#f07a2e"/>
<rect x="484.6" y="363.3" width="1.7" height="1.7" fill="#f07a2e"/>
<rect x="484.2" y="373.5" width="1.7" height="1.7" fill="#f07a2e"/>
<rect x="484.5" y="369.3" width="1.7" height="1.7" fill="#f07a2e"/>
<rect x="485.1" y="355.6" width="1.7" height="1.7" fill="#f07a2e"/>
<rect x="485.4" y="396.3" width="1.7" height="1.7" fill="#f07a2e"/>
<rect x="486.7" y="397.2" width="1.7" height="1.7" fill="#f07a2e"/>
<rect x="486.9" y="390.0" width="1.7" height="1.7" fill="#f07a2e"/>
<rect x="487.4" y="359.0" width="1.7" height="1.7" fill="#f07a2e"/>
<rect x="487.9" y="374.6" width="1.7" height="1.7" fill="#f07a2e"/>
<rect x="488.0" y="391.7" width="1.7" height="1.7" fill="#f07a2e"/>
<rect x="488.8" y="379.2" width="1.7" height="1.7" fill="#f07a2e"/>
<rect x="489.9" y="404.5" width="1.7" height="1.7" fill="#f07a2e"/>
<rect x="489.0" y="381.4" width="1.7" height="1.7" fill="#f07a2e"/>
<rect x="489.7" y="360.2" width="1.7" height="1.7" fill="#f07a2e"/>
<rect x="490.3" y="367.7" width="1.7" height="1.7" fill="#f07a2e"/>
<rect x="491.7" y="401.2" width="1.7" height="1.7" fill="#f07a2e"/>
<rect x="490.6" y="372.9" width="1.7" height="1.7" fill="#f07a2e"/>
<rect x="492.8" y="364.4" width="1.7" height="1.7" fill="#f07a2e"/>
<rect x="492.3" y="403.9" width="1.7" height="1.7" fill="#f07a2e"/>
<rect x="493.2" y="399.6" width="1.7" height="1.7" fill="#f07a2e"/>
<rect x="493.4" y="363.5" width="1.7" height="1.7" fill="#f07a2e"/>
<rect x="493.5" y="365.0" width="1.7" height="1.7" fill="#f07a2e"/>
<rect x="494.0" y="374.1" width="1.7" height="1.7" fill="#f07a2e"/>
<rect x="494.4" y="366.3" width="1.7" height="1.7" fill="#f07a2e"/>
<rect x="494.9" y="366.2" width="1.7" height="1.7" fill="#f07a2e"/>
<rect x="495.3" y="359.0" width="1.7" height="1.7" fill="#f07a2e"/>
<rect x="495.3" y="398.8" width="1.7" height="1.7" fill="#f07a2e"/>
<rect x="496.9" y="374.7" width="1.7" height="1.7" fill="#f07a2e"/>
<rect x="496.5" y="385.1" width="1.7" height="1.7" fill="#f07a2e"/>
<rect x="497.1" y="360.8" width="1.7" height="1.7" fill="#f07a2e"/>
<rect x="497.6" y="387.6" width="1.7" height="1.7" fill="#f07a2e"/>
<rect x="499.1" y="363.7" width="1.7" height="1.7" fill="#f07a2e"/>
<rect x="498.0" y="388.1" width="1.7" height="1.7" fill="#f07a2e"/>
<rect x="499.0" y="369.1" width="1.7" height="1.7" fill="#f07a2e"/>
<rect x="499.0" y="423.0" width="1.7" height="1.7" fill="#f07a2e"/>
<rect x="499.9" y="356.1" width="1.7" height="1.7" fill="#f07a2e"/>
<rect x="500.5" y="375.3" width="1.7" height="1.7" fill="#f07a2e"/>
<rect x="501.5" y="373.4" width="1.7" height="1.7" fill="#f07a2e"/>
<rect x="501.6" y="407.7" width="1.7" height="1.7" fill="#f07a2e"/>
<rect x="501.6" y="373.2" width="1.7" height="1.7" fill="#f07a2e"/>
<rect x="501.7" y="403.3" width="1.7" height="1.7" fill="#f07a2e"/>
<rect x="502.8" y="399.2" width="1.7" height="1.7" fill="#f07a2e"/>
<rect x="502.5" y="358.2" width="1.7" height="1.7" fill="#f07a2e"/>
<rect x="503.9" y="372.6" width="1.7" height="1.7" fill="#f07a2e"/>
<rect x="504.2" y="365.2" width="1.7" height="1.7" fill="#f07a2e"/>
<rect x="504.8" y="355.2" width="1.7" height="1.7" fill="#f07a2e"/>
<rect x="505.3" y="372.7" width="1.7" height="1.7" fill="#f07a2e"/>
<rect x="505.8" y="360.8" width="1.7" height="1.7" fill="#f07a2e"/>
<rect x="505.8" y="372.2" width="1.7" height="1.7" fill="#f07a2e"/>
<rect x="506.4" y="385.0" width="1.7" height="1.7" fill="#f07a2e"/>
<rect x="507.2" y="365.9" width="1.7" height="1.7" fill="#f07a2e"/>
<rect x="507.9" y="375.4" width="1.7" height="1.7" fill="#f07a2e"/>
<rect x="507.0" y="381.4" width="1.7" height="1.7" fill="#f07a2e"/>
<rect x="508.4" y="398.1" width="1.7" height="1.7" fill="#f07a2e"/>
<rect x="508.5" y="411.8" width="1.7" height="1.7" fill="#f07a2e"/>
<rect x="509.0" y="384.1" width="1.7" height="1.7" fill="#f07a2e"/>
<rect x="510.0" y="367.3" width="1.7" height="1.7" fill="#f07a2e"/>
<circle cx="305" cy="385" r="1.2" fill="#111"/>
<circle cx="423.6" cy="385" r="1.2" fill="#111"/>
<circle cx="423.6" cy="472" r="1.2" fill="#111"/>
<circle cx="316.4" cy="356" r="3.7" fill="#f07a2e"/>
<circle cx="316.4" cy="368.6" r="3.7" fill="#111"/>
<text x="326" y="358.5" font-size="7.1" fill="#1a1a1a" font-family="Liberation Sans, sans-serif">Experimental data</text>
<text x="326" y="371.1" font-size="7.1" fill="#1a1a1a" font-family="Liberation Sans, sans-serif">BSA peak</text>
<text transform="translate(7.0,23.0) scale(0.86,1)" x="0" y="0" font-size="23.5" font-weight="bold" fill="#000" font-family="Liberation Sans, sans-serif">A</text>
<text transform="translate(8.0,198.6) scale(0.84,1)" x="0" y="0" font-size="23.5" font-weight="bold" fill="#000" font-family="Liberation Sans, sans-serif">B</text>
<text transform="translate(7.2,363.8) scale(0.84,1)" x="0" y="0" font-size="23.5" font-weight="bold" fill="#000" font-family="Liberation Sans, sans-serif">C</text>
</svg>
</body></html>
